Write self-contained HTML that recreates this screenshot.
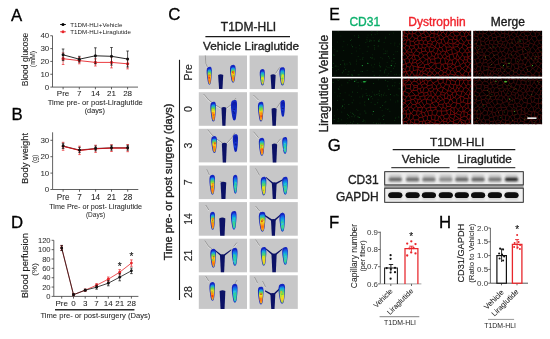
<!DOCTYPE html>
<html><head><meta charset="utf-8"><title>Figure</title>
<style>
html,body{margin:0;padding:0;background:#fff;width:550px;height:339px;overflow:hidden}
svg{display:block}
text{font-family:"Liberation Sans", Arial, sans-serif}
</style></head><body>
<svg width="550" height="339" viewBox="0 0 550 339">
<defs><linearGradient id="ghot" x1="0" y1="0" x2="0" y2="1">
<stop offset="0" stop-color="#1a40e0"/><stop offset="0.12" stop-color="#18a8e0"/><stop offset="0.28" stop-color="#70d840"/><stop offset="0.45" stop-color="#f0e020"/>
<stop offset="0.65" stop-color="#ff9a10"/><stop offset="0.82" stop-color="#ff8010"/><stop offset="1" stop-color="#e8c828"/></linearGradient>
<linearGradient id="gwarm" x1="0" y1="0" x2="0" y2="1">
<stop offset="0" stop-color="#1a48e0"/><stop offset="0.15" stop-color="#18a8d8"/><stop offset="0.35" stop-color="#50d870"/><stop offset="0.55" stop-color="#d8e820"/>
<stop offset="0.8" stop-color="#f8d020"/><stop offset="1" stop-color="#90d840"/></linearGradient>
<linearGradient id="gcool" x1="0" y1="0" x2="0" y2="1">
<stop offset="0" stop-color="#1840e0"/><stop offset="0.25" stop-color="#1098e8"/><stop offset="0.55" stop-color="#28d0b0"/>
<stop offset="0.8" stop-color="#40d890"/><stop offset="1" stop-color="#18a8d8"/></linearGradient>
<linearGradient id="gcold" x1="0" y1="0" x2="0" y2="1">
<stop offset="0" stop-color="#0818a0"/><stop offset="0.5" stop-color="#1430c8"/><stop offset="1" stop-color="#0c20b0"/></linearGradient>
<filter id="bl4" x="-20%" y="-20%" width="140%" height="140%"><feGaussianBlur stdDeviation="0.35"/></filter>
<filter id="bl6" x="-30%" y="-60%" width="160%" height="220%"><feGaussianBlur stdDeviation="0.8"/></filter><filter id="bl9" x="-40%" y="-40%" width="180%" height="180%"><feGaussianBlur stdDeviation="1.3"/></filter><clipPath id="ce00"><rect x="332" y="30.85" width="68.9" height="45.75"/></clipPath><clipPath id="ce01"><rect x="402.6" y="30.85" width="68.6" height="45.75"/></clipPath><clipPath id="ce02"><rect x="473.2" y="30.85" width="68.9" height="45.75"/></clipPath><clipPath id="ce10"><rect x="332" y="78.6" width="68.9" height="45.6"/></clipPath><clipPath id="ce11"><rect x="402.6" y="78.6" width="68.6" height="45.6"/></clipPath><clipPath id="ce12"><rect x="473.2" y="78.6" width="68.9" height="45.6"/></clipPath></defs>
<rect width="550" height="339" fill="#fff"/>
<text x="11.1" y="20.5" font-size="16.8" fill="#000" stroke="#000" stroke-width="0.3">A</text>
<text x="11.5" y="120.1" font-size="16.8" fill="#000" stroke="#000" stroke-width="0.3">B</text>
<text x="10.9" y="228.1" font-size="16.8" fill="#000" stroke="#000" stroke-width="0.3">D</text>
<text x="168.2" y="20.3" font-size="16.8" fill="#000" stroke="#000" stroke-width="0.3">C</text>
<text x="329.2" y="20.4" font-size="15.9" fill="#000" stroke="#000" stroke-width="0.3">E</text>
<text x="327.7" y="151.3" font-size="16.8" fill="#000" stroke="#000" stroke-width="0.3">G</text>
<text x="328.9" y="227.5" font-size="16.8" fill="#000" stroke="#000" stroke-width="0.3">F</text>
<text x="439" y="228.1" font-size="16.8" fill="#000" stroke="#000" stroke-width="0.3">H</text>
<line x1="52.5" y1="35.74" x2="52.5" y2="87.1" stroke="#3a3a3a" stroke-width="0.8"/>
<line x1="50.3" y1="87.1" x2="52.5" y2="87.1" stroke="#3a3a3a" stroke-width="0.8"/>
<text x="49.3" y="89.74" font-size="8.0" text-anchor="end" fill="#333" stroke="#333" stroke-width="0.05">0</text>
<line x1="50.3" y1="74.26" x2="52.5" y2="74.26" stroke="#3a3a3a" stroke-width="0.8"/>
<text x="49.3" y="76.9" font-size="8.0" text-anchor="end" fill="#333" stroke="#333" stroke-width="0.05">10</text>
<line x1="50.3" y1="61.42" x2="52.5" y2="61.42" stroke="#3a3a3a" stroke-width="0.8"/>
<text x="49.3" y="64.06" font-size="8.0" text-anchor="end" fill="#333" stroke="#333" stroke-width="0.05">20</text>
<line x1="50.3" y1="48.58" x2="52.5" y2="48.58" stroke="#3a3a3a" stroke-width="0.8"/>
<text x="49.3" y="51.22" font-size="8.0" text-anchor="end" fill="#333" stroke="#333" stroke-width="0.05">30</text>
<line x1="50.3" y1="35.74" x2="52.5" y2="35.74" stroke="#3a3a3a" stroke-width="0.8"/>
<text x="49.3" y="38.38" font-size="8.0" text-anchor="end" fill="#333" stroke="#333" stroke-width="0.05">40</text>
<line x1="52.5" y1="87.1" x2="138" y2="87.1" stroke="#3a3a3a" stroke-width="0.8"/>
<line x1="63.1" y1="87.1" x2="63.1" y2="89.3" stroke="#3a3a3a" stroke-width="0.8"/>
<line x1="79.3" y1="87.1" x2="79.3" y2="89.3" stroke="#3a3a3a" stroke-width="0.8"/>
<line x1="95.4" y1="87.1" x2="95.4" y2="89.3" stroke="#3a3a3a" stroke-width="0.8"/>
<line x1="111.5" y1="87.1" x2="111.5" y2="89.3" stroke="#3a3a3a" stroke-width="0.8"/>
<line x1="127.6" y1="87.1" x2="127.6" y2="89.3" stroke="#3a3a3a" stroke-width="0.8"/>
<text x="63.1" y="96.4" font-size="8.0" text-anchor="middle" fill="#1e1e1e" stroke="#1e1e1e" stroke-width="0.05">Pre</text>
<text x="79.3" y="96.4" font-size="8.0" text-anchor="middle" fill="#1e1e1e" stroke="#1e1e1e" stroke-width="0.05">7</text>
<text x="95.4" y="96.4" font-size="8.0" text-anchor="middle" fill="#1e1e1e" stroke="#1e1e1e" stroke-width="0.05">14</text>
<text x="111.5" y="96.4" font-size="8.0" text-anchor="middle" fill="#1e1e1e" stroke="#1e1e1e" stroke-width="0.05">21</text>
<text x="127.6" y="96.4" font-size="8.0" text-anchor="middle" fill="#1e1e1e" stroke="#1e1e1e" stroke-width="0.05">28</text>
<text x="95.3" y="104.7" font-size="7.6" text-anchor="middle" fill="#1e1e1e" stroke="#1e1e1e" stroke-width="0.05">Time pre- or post-Liraglutide</text>
<text x="94.8" y="113.2" font-size="7.3" text-anchor="middle" fill="#1e1e1e" stroke="#1e1e1e" stroke-width="0.05">(days)</text>
<text x="27.6" y="59.5" font-size="8.5" text-anchor="middle" fill="#1e1e1e" stroke="#1e1e1e" stroke-width="0.05" transform="rotate(-90 27.6 59.5)">Blood glucose</text>
<text x="35.3" y="59" font-size="7.0" text-anchor="middle" fill="#1e1e1e" stroke="#1e1e1e" stroke-width="0.05" transform="rotate(-90 35.3 59)">(mM)</text>
<line x1="60.1" y1="24.5" x2="65.9" y2="24.5" stroke="#000" stroke-width="0.9"/>
<circle cx="63" cy="24.5" r="1.5" fill="#000"/>
<text x="70.3" y="26.7" font-size="6.2" fill="#1e1e1e">T1DM-HLI+Vehicle</text>
<line x1="60.1" y1="31.8" x2="65.9" y2="31.8" stroke="#e8262b" stroke-width="0.9"/>
<circle cx="63" cy="31.8" r="1.5" fill="#e8262b"/>
<text x="70.3" y="34" font-size="6.2" fill="#1e1e1e">T1DM-HLI+Liraglutide</text>
<line x1="63.1" y1="52.9" x2="63.1" y2="64.5" stroke="#e8262b" stroke-width="0.7"/>
<line x1="61.8" y1="52.9" x2="64.4" y2="52.9" stroke="#e8262b" stroke-width="0.7"/>
<line x1="61.8" y1="64.5" x2="64.4" y2="64.5" stroke="#e8262b" stroke-width="0.7"/>
<line x1="79.3" y1="57.4" x2="79.3" y2="63.8" stroke="#e8262b" stroke-width="0.7"/>
<line x1="78" y1="57.4" x2="80.6" y2="57.4" stroke="#e8262b" stroke-width="0.7"/>
<line x1="78" y1="63.8" x2="80.6" y2="63.8" stroke="#e8262b" stroke-width="0.7"/>
<line x1="95.4" y1="58.8" x2="95.4" y2="66" stroke="#e8262b" stroke-width="0.7"/>
<line x1="94.1" y1="58.8" x2="96.7" y2="58.8" stroke="#e8262b" stroke-width="0.7"/>
<line x1="94.1" y1="66" x2="96.7" y2="66" stroke="#e8262b" stroke-width="0.7"/>
<line x1="111.5" y1="56.9" x2="111.5" y2="67.9" stroke="#e8262b" stroke-width="0.7"/>
<line x1="110.2" y1="56.9" x2="112.8" y2="56.9" stroke="#e8262b" stroke-width="0.7"/>
<line x1="110.2" y1="67.9" x2="112.8" y2="67.9" stroke="#e8262b" stroke-width="0.7"/>
<line x1="127.6" y1="58.7" x2="127.6" y2="68.9" stroke="#e8262b" stroke-width="0.7"/>
<line x1="126.3" y1="58.7" x2="128.9" y2="58.7" stroke="#e8262b" stroke-width="0.7"/>
<line x1="126.3" y1="68.9" x2="128.9" y2="68.9" stroke="#e8262b" stroke-width="0.7"/>
<polyline points="63.1,58.7 79.3,60.6 95.4,62.4 111.5,62.4 127.6,63.8" fill="none" stroke="#e8262b" stroke-width="0.9" stroke-linejoin="round"/>
<circle cx="63.1" cy="58.7" r="1.6" fill="#e8262b"/>
<circle cx="79.3" cy="60.6" r="1.6" fill="#e8262b"/>
<circle cx="95.4" cy="62.4" r="1.6" fill="#e8262b"/>
<circle cx="111.5" cy="62.4" r="1.6" fill="#e8262b"/>
<circle cx="127.6" cy="63.8" r="1.6" fill="#e8262b"/>
<line x1="63.1" y1="49" x2="63.1" y2="60.6" stroke="#111" stroke-width="0.7"/>
<line x1="61.8" y1="49" x2="64.4" y2="49" stroke="#111" stroke-width="0.7"/>
<line x1="61.8" y1="60.6" x2="64.4" y2="60.6" stroke="#111" stroke-width="0.7"/>
<line x1="79.3" y1="56.3" x2="79.3" y2="62.1" stroke="#111" stroke-width="0.7"/>
<line x1="78" y1="56.3" x2="80.6" y2="56.3" stroke="#111" stroke-width="0.7"/>
<line x1="78" y1="62.1" x2="80.6" y2="62.1" stroke="#111" stroke-width="0.7"/>
<line x1="95.4" y1="47.8" x2="95.4" y2="63.8" stroke="#111" stroke-width="0.7"/>
<line x1="94.1" y1="47.8" x2="96.7" y2="47.8" stroke="#111" stroke-width="0.7"/>
<line x1="94.1" y1="63.8" x2="96.7" y2="63.8" stroke="#111" stroke-width="0.7"/>
<line x1="111.5" y1="47.5" x2="111.5" y2="65.1" stroke="#111" stroke-width="0.7"/>
<line x1="110.2" y1="47.5" x2="112.8" y2="47.5" stroke="#111" stroke-width="0.7"/>
<line x1="110.2" y1="65.1" x2="112.8" y2="65.1" stroke="#111" stroke-width="0.7"/>
<line x1="127.6" y1="51" x2="127.6" y2="67" stroke="#111" stroke-width="0.7"/>
<line x1="126.3" y1="51" x2="128.9" y2="51" stroke="#111" stroke-width="0.7"/>
<line x1="126.3" y1="67" x2="128.9" y2="67" stroke="#111" stroke-width="0.7"/>
<polyline points="63.1,54.8 79.3,59.2 95.4,55.8 111.5,56.3 127.6,59" fill="none" stroke="#111" stroke-width="0.9" stroke-linejoin="round"/>
<circle cx="63.1" cy="54.8" r="1.5" fill="#111"/>
<circle cx="79.3" cy="59.2" r="1.5" fill="#111"/>
<circle cx="95.4" cy="55.8" r="1.5" fill="#111"/>
<circle cx="111.5" cy="56.3" r="1.5" fill="#111"/>
<circle cx="127.6" cy="59" r="1.5" fill="#111"/>
<line x1="52.6" y1="132.3" x2="52.6" y2="189.5" stroke="#3a3a3a" stroke-width="0.8"/>
<line x1="50.4" y1="189.5" x2="52.6" y2="189.5" stroke="#3a3a3a" stroke-width="0.8"/>
<text x="49.3" y="192.14" font-size="8.0" text-anchor="end" fill="#333" stroke="#333" stroke-width="0.05">0</text>
<line x1="50.4" y1="173.1" x2="52.6" y2="173.1" stroke="#3a3a3a" stroke-width="0.8"/>
<text x="49.3" y="175.74" font-size="8.0" text-anchor="end" fill="#333" stroke="#333" stroke-width="0.05">10</text>
<line x1="50.4" y1="156.7" x2="52.6" y2="156.7" stroke="#3a3a3a" stroke-width="0.8"/>
<text x="49.3" y="159.34" font-size="8.0" text-anchor="end" fill="#333" stroke="#333" stroke-width="0.05">20</text>
<line x1="50.4" y1="140.3" x2="52.6" y2="140.3" stroke="#3a3a3a" stroke-width="0.8"/>
<text x="49.3" y="142.94" font-size="8.0" text-anchor="end" fill="#333" stroke="#333" stroke-width="0.05">30</text>
<line x1="52.6" y1="189.5" x2="138.3" y2="189.5" stroke="#3a3a3a" stroke-width="0.8"/>
<line x1="63.1" y1="189.5" x2="63.1" y2="191.7" stroke="#3a3a3a" stroke-width="0.8"/>
<line x1="79.5" y1="189.5" x2="79.5" y2="191.7" stroke="#3a3a3a" stroke-width="0.8"/>
<line x1="95.6" y1="189.5" x2="95.6" y2="191.7" stroke="#3a3a3a" stroke-width="0.8"/>
<line x1="111.5" y1="189.5" x2="111.5" y2="191.7" stroke="#3a3a3a" stroke-width="0.8"/>
<line x1="127.7" y1="189.5" x2="127.7" y2="191.7" stroke="#3a3a3a" stroke-width="0.8"/>
<text x="63.1" y="199.7" font-size="8.2" text-anchor="middle" fill="#1e1e1e" stroke="#1e1e1e" stroke-width="0.05">Pre</text>
<text x="79.5" y="199.7" font-size="8.2" text-anchor="middle" fill="#1e1e1e" stroke="#1e1e1e" stroke-width="0.05">7</text>
<text x="95.6" y="199.7" font-size="8.2" text-anchor="middle" fill="#1e1e1e" stroke="#1e1e1e" stroke-width="0.05">14</text>
<text x="111.5" y="199.7" font-size="8.2" text-anchor="middle" fill="#1e1e1e" stroke="#1e1e1e" stroke-width="0.05">21</text>
<text x="127.7" y="199.7" font-size="8.2" text-anchor="middle" fill="#1e1e1e" stroke="#1e1e1e" stroke-width="0.05">28</text>
<text x="95.6" y="209" font-size="7.2" text-anchor="middle" fill="#1e1e1e" stroke="#1e1e1e" stroke-width="0.05">Time Pre- or post- Liraglutide</text>
<text x="95.5" y="217.1" font-size="6.5" text-anchor="middle" fill="#1e1e1e">(Days)</text>
<text x="28" y="158.5" font-size="9.4" text-anchor="middle" fill="#1e1e1e" stroke="#1e1e1e" stroke-width="0.15" transform="rotate(-90 28 158.5)">Body weight</text>
<text x="36.6" y="158.9" font-size="6.6" text-anchor="middle" fill="#1e1e1e" transform="rotate(-90 36.6 158.9)">(g)</text>
<line x1="63.1" y1="142.3" x2="63.1" y2="150.3" stroke="#e8262b" stroke-width="0.7"/>
<line x1="61.8" y1="142.3" x2="64.4" y2="142.3" stroke="#e8262b" stroke-width="0.7"/>
<line x1="61.8" y1="150.3" x2="64.4" y2="150.3" stroke="#e8262b" stroke-width="0.7"/>
<line x1="79.5" y1="146.2" x2="79.5" y2="154.6" stroke="#e8262b" stroke-width="0.7"/>
<line x1="78.2" y1="146.2" x2="80.8" y2="146.2" stroke="#e8262b" stroke-width="0.7"/>
<line x1="78.2" y1="154.6" x2="80.8" y2="154.6" stroke="#e8262b" stroke-width="0.7"/>
<line x1="95.6" y1="145.2" x2="95.6" y2="152.4" stroke="#e8262b" stroke-width="0.7"/>
<line x1="94.3" y1="145.2" x2="96.9" y2="145.2" stroke="#e8262b" stroke-width="0.7"/>
<line x1="94.3" y1="152.4" x2="96.9" y2="152.4" stroke="#e8262b" stroke-width="0.7"/>
<line x1="111.5" y1="144.7" x2="111.5" y2="151.5" stroke="#e8262b" stroke-width="0.7"/>
<line x1="110.2" y1="144.7" x2="112.8" y2="144.7" stroke="#e8262b" stroke-width="0.7"/>
<line x1="110.2" y1="151.5" x2="112.8" y2="151.5" stroke="#e8262b" stroke-width="0.7"/>
<line x1="127.7" y1="144.5" x2="127.7" y2="151.7" stroke="#e8262b" stroke-width="0.7"/>
<line x1="126.4" y1="144.5" x2="129" y2="144.5" stroke="#e8262b" stroke-width="0.7"/>
<line x1="126.4" y1="151.7" x2="129" y2="151.7" stroke="#e8262b" stroke-width="0.7"/>
<polyline points="63.1,146.3 79.5,150.4 95.6,148.8 111.5,148.1 127.7,148.1" fill="none" stroke="#e8262b" stroke-width="1.0" stroke-linejoin="round"/>
<circle cx="63.1" cy="146.3" r="1.35" fill="#e8262b"/>
<circle cx="79.5" cy="150.4" r="1.35" fill="#e8262b"/>
<circle cx="95.6" cy="148.8" r="1.35" fill="#e8262b"/>
<circle cx="111.5" cy="148.1" r="1.35" fill="#e8262b"/>
<circle cx="127.7" cy="148.1" r="1.35" fill="#e8262b"/>
<line x1="63.1" y1="143.3" x2="63.1" y2="148.5" stroke="#111" stroke-width="0.7"/>
<line x1="61.8" y1="143.3" x2="64.4" y2="143.3" stroke="#111" stroke-width="0.7"/>
<line x1="61.8" y1="148.5" x2="64.4" y2="148.5" stroke="#111" stroke-width="0.7"/>
<line x1="79.5" y1="147.4" x2="79.5" y2="152.6" stroke="#111" stroke-width="0.7"/>
<line x1="78.2" y1="147.4" x2="80.8" y2="147.4" stroke="#111" stroke-width="0.7"/>
<line x1="78.2" y1="152.6" x2="80.8" y2="152.6" stroke="#111" stroke-width="0.7"/>
<line x1="95.6" y1="146" x2="95.6" y2="150.8" stroke="#111" stroke-width="0.7"/>
<line x1="94.3" y1="146" x2="96.9" y2="146" stroke="#111" stroke-width="0.7"/>
<line x1="94.3" y1="150.8" x2="96.9" y2="150.8" stroke="#111" stroke-width="0.7"/>
<line x1="111.5" y1="145.3" x2="111.5" y2="150.1" stroke="#111" stroke-width="0.7"/>
<line x1="110.2" y1="145.3" x2="112.8" y2="145.3" stroke="#111" stroke-width="0.7"/>
<line x1="110.2" y1="150.1" x2="112.8" y2="150.1" stroke="#111" stroke-width="0.7"/>
<line x1="127.7" y1="145.3" x2="127.7" y2="150.1" stroke="#111" stroke-width="0.7"/>
<line x1="126.4" y1="145.3" x2="129" y2="145.3" stroke="#111" stroke-width="0.7"/>
<line x1="126.4" y1="150.1" x2="129" y2="150.1" stroke="#111" stroke-width="0.7"/>
<polyline points="63.1,145.9 79.5,150 95.6,148.4 111.5,147.7 127.7,147.7" fill="none" stroke="#111" stroke-width="0.5" stroke-linejoin="round"/>
<circle cx="63.1" cy="145.9" r="1.3" fill="#111"/>
<circle cx="79.5" cy="150" r="1.3" fill="#111"/>
<circle cx="95.6" cy="148.4" r="1.3" fill="#111"/>
<circle cx="111.5" cy="147.7" r="1.3" fill="#111"/>
<circle cx="127.7" cy="147.7" r="1.3" fill="#111"/>
<polyline points="63.1,146.2 79.5,150.3 95.6,148.7 111.5,148 127.7,148" fill="none" stroke="#c0141c" stroke-width="0.9" stroke-linejoin="round"/>
<circle cx="63.1" cy="145.9" r="1.35" fill="#111"/>
<circle cx="79.5" cy="150" r="1.35" fill="#111"/>
<circle cx="95.6" cy="148.4" r="1.35" fill="#111"/>
<circle cx="111.5" cy="147.7" r="1.35" fill="#111"/>
<circle cx="127.7" cy="147.7" r="1.35" fill="#111"/>
<line x1="53.8" y1="240.3" x2="53.8" y2="296.4" stroke="#3a3a3a" stroke-width="0.8"/>
<line x1="51.6" y1="296.4" x2="53.8" y2="296.4" stroke="#3a3a3a" stroke-width="0.8"/>
<text x="50.6" y="298.91" font-size="7.6" text-anchor="end" fill="#333" stroke="#333" stroke-width="0.05">0</text>
<line x1="51.6" y1="287.05" x2="53.8" y2="287.05" stroke="#3a3a3a" stroke-width="0.8"/>
<text x="50.6" y="289.56" font-size="7.6" text-anchor="end" fill="#333" stroke="#333" stroke-width="0.05">20</text>
<line x1="51.6" y1="277.7" x2="53.8" y2="277.7" stroke="#3a3a3a" stroke-width="0.8"/>
<text x="50.6" y="280.21" font-size="7.6" text-anchor="end" fill="#333" stroke="#333" stroke-width="0.05">40</text>
<line x1="51.6" y1="268.35" x2="53.8" y2="268.35" stroke="#3a3a3a" stroke-width="0.8"/>
<text x="50.6" y="270.86" font-size="7.6" text-anchor="end" fill="#333" stroke="#333" stroke-width="0.05">60</text>
<line x1="51.6" y1="259" x2="53.8" y2="259" stroke="#3a3a3a" stroke-width="0.8"/>
<text x="50.6" y="261.51" font-size="7.6" text-anchor="end" fill="#333" stroke="#333" stroke-width="0.05">80</text>
<line x1="51.6" y1="249.65" x2="53.8" y2="249.65" stroke="#3a3a3a" stroke-width="0.8"/>
<text x="50.6" y="252.16" font-size="7.6" text-anchor="end" fill="#333" stroke="#333" stroke-width="0.05">100</text>
<line x1="51.6" y1="240.3" x2="53.8" y2="240.3" stroke="#3a3a3a" stroke-width="0.8"/>
<text x="50.6" y="242.81" font-size="7.6" text-anchor="end" fill="#333" stroke="#333" stroke-width="0.05">120</text>
<line x1="53.8" y1="296.4" x2="138.4" y2="296.4" stroke="#3a3a3a" stroke-width="0.8"/>
<line x1="61.7" y1="296.4" x2="61.7" y2="298.6" stroke="#3a3a3a" stroke-width="0.8"/>
<line x1="73.5" y1="296.4" x2="73.5" y2="298.6" stroke="#3a3a3a" stroke-width="0.8"/>
<line x1="85.2" y1="296.4" x2="85.2" y2="298.6" stroke="#3a3a3a" stroke-width="0.8"/>
<line x1="96.6" y1="296.4" x2="96.6" y2="298.6" stroke="#3a3a3a" stroke-width="0.8"/>
<line x1="108.3" y1="296.4" x2="108.3" y2="298.6" stroke="#3a3a3a" stroke-width="0.8"/>
<line x1="119.7" y1="296.4" x2="119.7" y2="298.6" stroke="#3a3a3a" stroke-width="0.8"/>
<line x1="131.4" y1="296.4" x2="131.4" y2="298.6" stroke="#3a3a3a" stroke-width="0.8"/>
<text x="61.7" y="306" font-size="8.0" text-anchor="middle" fill="#1e1e1e" stroke="#1e1e1e" stroke-width="0.05">Pre</text>
<text x="73.5" y="306" font-size="8.0" text-anchor="middle" fill="#1e1e1e" stroke="#1e1e1e" stroke-width="0.05">0</text>
<text x="85.2" y="306" font-size="8.0" text-anchor="middle" fill="#1e1e1e" stroke="#1e1e1e" stroke-width="0.05">3</text>
<text x="96.6" y="306" font-size="8.0" text-anchor="middle" fill="#1e1e1e" stroke="#1e1e1e" stroke-width="0.05">7</text>
<text x="108.3" y="306" font-size="8.0" text-anchor="middle" fill="#1e1e1e" stroke="#1e1e1e" stroke-width="0.05">14</text>
<text x="119.7" y="306" font-size="8.0" text-anchor="middle" fill="#1e1e1e" stroke="#1e1e1e" stroke-width="0.05">21</text>
<text x="131.4" y="306" font-size="8.0" text-anchor="middle" fill="#1e1e1e" stroke="#1e1e1e" stroke-width="0.05">28</text>
<line x1="55" y1="309.8" x2="134.4" y2="309.8" stroke="#2a2a2a" stroke-width="1.4"/>
<text x="95.4" y="318.4" font-size="7.6" text-anchor="middle" fill="#1e1e1e" stroke="#1e1e1e" stroke-width="0.05">Time pre- or post-surgery (Days)</text>
<text x="27.8" y="265.6" font-size="9.4" text-anchor="middle" fill="#1e1e1e" stroke="#1e1e1e" stroke-width="0.15" transform="rotate(-90 27.8 265.6)">Blood perfusion</text>
<text x="37" y="269.4" font-size="8.0" text-anchor="middle" fill="#1e1e1e" stroke="#1e1e1e" stroke-width="0.05" transform="rotate(-90 37 269.4)">(%)</text>
<line x1="61.7" y1="245.5" x2="61.7" y2="250.5" stroke="#e8262b" stroke-width="0.7"/>
<line x1="60.4" y1="245.5" x2="63" y2="245.5" stroke="#e8262b" stroke-width="0.7"/>
<line x1="60.4" y1="250.5" x2="63" y2="250.5" stroke="#e8262b" stroke-width="0.7"/>
<line x1="73.5" y1="293.7" x2="73.5" y2="295.7" stroke="#e8262b" stroke-width="0.7"/>
<line x1="72.2" y1="293.7" x2="74.8" y2="293.7" stroke="#e8262b" stroke-width="0.7"/>
<line x1="72.2" y1="295.7" x2="74.8" y2="295.7" stroke="#e8262b" stroke-width="0.7"/>
<line x1="85.2" y1="289.2" x2="85.2" y2="291.2" stroke="#e8262b" stroke-width="0.7"/>
<line x1="83.9" y1="289.2" x2="86.5" y2="289.2" stroke="#e8262b" stroke-width="0.7"/>
<line x1="83.9" y1="291.2" x2="86.5" y2="291.2" stroke="#e8262b" stroke-width="0.7"/>
<line x1="96.6" y1="283.6" x2="96.6" y2="286.8" stroke="#e8262b" stroke-width="0.7"/>
<line x1="95.3" y1="283.6" x2="97.9" y2="283.6" stroke="#e8262b" stroke-width="0.7"/>
<line x1="95.3" y1="286.8" x2="97.9" y2="286.8" stroke="#e8262b" stroke-width="0.7"/>
<line x1="108.3" y1="277" x2="108.3" y2="281.4" stroke="#e8262b" stroke-width="0.7"/>
<line x1="107" y1="277" x2="109.6" y2="277" stroke="#e8262b" stroke-width="0.7"/>
<line x1="107" y1="281.4" x2="109.6" y2="281.4" stroke="#e8262b" stroke-width="0.7"/>
<line x1="119.7" y1="269.6" x2="119.7" y2="274.8" stroke="#e8262b" stroke-width="0.7"/>
<line x1="118.4" y1="269.6" x2="121" y2="269.6" stroke="#e8262b" stroke-width="0.7"/>
<line x1="118.4" y1="274.8" x2="121" y2="274.8" stroke="#e8262b" stroke-width="0.7"/>
<line x1="131.4" y1="259.9" x2="131.4" y2="266.3" stroke="#e8262b" stroke-width="0.7"/>
<line x1="130.1" y1="259.9" x2="132.7" y2="259.9" stroke="#e8262b" stroke-width="0.7"/>
<line x1="130.1" y1="266.3" x2="132.7" y2="266.3" stroke="#e8262b" stroke-width="0.7"/>
<polyline points="61.7,248 73.5,294.7 85.2,290.2 96.6,285.2 108.3,279.2 119.7,272.2 131.4,263.1" fill="none" stroke="#e8262b" stroke-width="0.8" stroke-linejoin="round"/>
<circle cx="61.7" cy="248" r="1.4" fill="#e8262b"/>
<circle cx="73.5" cy="294.7" r="1.4" fill="#e8262b"/>
<circle cx="85.2" cy="290.2" r="1.4" fill="#e8262b"/>
<circle cx="96.6" cy="285.2" r="1.4" fill="#e8262b"/>
<circle cx="108.3" cy="279.2" r="1.4" fill="#e8262b"/>
<circle cx="119.7" cy="272.2" r="1.4" fill="#e8262b"/>
<circle cx="131.4" cy="263.1" r="1.4" fill="#e8262b"/>
<line x1="61.7" y1="245.4" x2="61.7" y2="250.6" stroke="#111" stroke-width="0.7"/>
<line x1="60.4" y1="245.4" x2="63" y2="245.4" stroke="#111" stroke-width="0.7"/>
<line x1="60.4" y1="250.6" x2="63" y2="250.6" stroke="#111" stroke-width="0.7"/>
<line x1="73.5" y1="293.7" x2="73.5" y2="295.7" stroke="#111" stroke-width="0.7"/>
<line x1="72.2" y1="293.7" x2="74.8" y2="293.7" stroke="#111" stroke-width="0.7"/>
<line x1="72.2" y1="295.7" x2="74.8" y2="295.7" stroke="#111" stroke-width="0.7"/>
<line x1="85.2" y1="289.2" x2="85.2" y2="291.2" stroke="#111" stroke-width="0.7"/>
<line x1="83.9" y1="289.2" x2="86.5" y2="289.2" stroke="#111" stroke-width="0.7"/>
<line x1="83.9" y1="291.2" x2="86.5" y2="291.2" stroke="#111" stroke-width="0.7"/>
<line x1="96.6" y1="285.2" x2="96.6" y2="289.2" stroke="#111" stroke-width="0.7"/>
<line x1="95.3" y1="285.2" x2="97.9" y2="285.2" stroke="#111" stroke-width="0.7"/>
<line x1="95.3" y1="289.2" x2="97.9" y2="289.2" stroke="#111" stroke-width="0.7"/>
<line x1="108.3" y1="280.6" x2="108.3" y2="285.8" stroke="#111" stroke-width="0.7"/>
<line x1="107" y1="280.6" x2="109.6" y2="280.6" stroke="#111" stroke-width="0.7"/>
<line x1="107" y1="285.8" x2="109.6" y2="285.8" stroke="#111" stroke-width="0.7"/>
<line x1="119.7" y1="273.6" x2="119.7" y2="280.8" stroke="#111" stroke-width="0.7"/>
<line x1="118.4" y1="273.6" x2="121" y2="273.6" stroke="#111" stroke-width="0.7"/>
<line x1="118.4" y1="280.8" x2="121" y2="280.8" stroke="#111" stroke-width="0.7"/>
<line x1="131.4" y1="268" x2="131.4" y2="273.6" stroke="#111" stroke-width="0.7"/>
<line x1="130.1" y1="268" x2="132.7" y2="268" stroke="#111" stroke-width="0.7"/>
<line x1="130.1" y1="273.6" x2="132.7" y2="273.6" stroke="#111" stroke-width="0.7"/>
<polyline points="61.7,248 73.5,294.7 85.2,290.2 96.6,287.2 108.3,283.2 119.7,277.2 131.4,270.8" fill="none" stroke="#111" stroke-width="0.8" stroke-linejoin="round"/>
<circle cx="61.7" cy="248" r="1.4" fill="#111"/>
<circle cx="73.5" cy="294.7" r="1.4" fill="#111"/>
<circle cx="85.2" cy="290.2" r="1.4" fill="#111"/>
<circle cx="96.6" cy="287.2" r="1.4" fill="#111"/>
<circle cx="108.3" cy="283.2" r="1.4" fill="#111"/>
<circle cx="119.7" cy="277.2" r="1.4" fill="#111"/>
<circle cx="131.4" cy="270.8" r="1.4" fill="#111"/>
<text x="119.7" y="270" font-size="10" text-anchor="middle" fill="#111" stroke="#111" stroke-width="0.15">*</text>
<text x="131.4" y="260" font-size="10" text-anchor="middle" fill="#111" stroke="#111" stroke-width="0.15">*</text>
<text x="248.5" y="31" font-size="12.0" text-anchor="middle" fill="#1e1e1e" stroke="#1e1e1e" stroke-width="0.35">T1DM-HLI</text>
<line x1="205.4" y1="36.6" x2="290" y2="36.6" stroke="#1a1a1a" stroke-width="1.1"/>
<text x="203" y="49.6" font-size="11.8" fill="#1e1e1e" stroke="#1e1e1e" stroke-width="0.35">Vehicle</text>
<text x="244.6" y="49.6" font-size="11.8" fill="#1e1e1e" stroke="#1e1e1e" stroke-width="0.35">Liraglutide</text>
<line x1="179.5" y1="59.8" x2="179.5" y2="300" stroke="#1a1a1a" stroke-width="1.1"/>
<text x="171.8" y="182" font-size="11.0" text-anchor="middle" fill="#1e1e1e" stroke="#1e1e1e" stroke-width="0.35" transform="rotate(-90 171.8 182)">Time pre- or post surgery (days)</text>
<text x="191.6" y="72.3" font-size="10.5" text-anchor="middle" fill="#1e1e1e" stroke="#1e1e1e" stroke-width="0.15" transform="rotate(-90 191.6 72.3)">Pre</text>
<text x="191.6" y="109" font-size="10.5" text-anchor="middle" fill="#1e1e1e" stroke="#1e1e1e" stroke-width="0.15" transform="rotate(-90 191.6 109)">0</text>
<text x="191.6" y="145.6" font-size="10.5" text-anchor="middle" fill="#1e1e1e" stroke="#1e1e1e" stroke-width="0.15" transform="rotate(-90 191.6 145.6)">3</text>
<text x="191.6" y="182.3" font-size="10.5" text-anchor="middle" fill="#1e1e1e" stroke="#1e1e1e" stroke-width="0.15" transform="rotate(-90 191.6 182.3)">7</text>
<text x="191.6" y="218.9" font-size="10.5" text-anchor="middle" fill="#1e1e1e" stroke="#1e1e1e" stroke-width="0.15" transform="rotate(-90 191.6 218.9)">14</text>
<text x="191.6" y="255.5" font-size="10.5" text-anchor="middle" fill="#1e1e1e" stroke="#1e1e1e" stroke-width="0.15" transform="rotate(-90 191.6 255.5)">21</text>
<text x="191.6" y="292.1" font-size="10.5" text-anchor="middle" fill="#1e1e1e" stroke="#1e1e1e" stroke-width="0.15" transform="rotate(-90 191.6 292.1)">28</text>
<rect x="198.8" y="55.5" width="48.2" height="33.6" fill="#c7c7c8"/>
<polyline points="205.3,56.1 205.8,64.1 207.3,67.6" fill="none" stroke="#e4e4e4" stroke-width="1.1" stroke-linejoin="round"/>
<polyline points="205.3,55.5 205.8,63.5 207.3,67" fill="none" stroke="#404040" stroke-width="0.45" stroke-linejoin="round"/>
<path d="M218.15,75 Q220.7,73.4 223.25,75 L222.45,89.1 L219.05,89.1 Z" fill="#0c1266"/>
<path d="M206.65,70.45 Q206.75,67.79 207.98,67.19 Q209.2,66.58 210.47,66.84 Q211.75,67.1 211.8,70.11 Q211.85,73.12 211.55,76.56 Q211.26,80 210.92,82.32 Q210.57,84.64 209.44,84.64 Q208.32,84.64 207.88,82.06 Q207.44,79.48 207,76.3 Q206.55,73.12 206.65,70.45 Z" fill="#1426c0"/>
<path d="M207.58,71.93 Q207.65,69.68 208.53,69.17 Q209.4,68.66 210.31,68.88 Q211.22,69.1 211.25,71.64 Q211.29,74.17 211.08,77.07 Q210.87,79.97 210.62,81.93 Q210.38,83.89 209.58,83.89 Q208.77,83.89 208.46,81.72 Q208.14,79.54 207.83,76.86 Q207.51,74.17 207.58,71.93 Z" fill="url(#ghot)" filter="url(#bl4)"/>
<g filter="url(#bl4)" opacity="0.85"><circle cx="208.8" cy="75.17" r="1" fill="#ff6a10"/><circle cx="209.41" cy="74.13" r="0.82" fill="#f8d020"/><circle cx="209.29" cy="74.61" r="0.97" fill="#70d840"/><circle cx="208.84" cy="76.29" r="0.86" fill="#ff8010"/><circle cx="209.23" cy="77.7" r="0.97" fill="#e83010"/><circle cx="209.87" cy="75.51" r="0.92" fill="#ff6a10"/></g>
<path d="M230.04,68.53 Q230.15,65.88 231.48,65.29 Q232.8,64.69 234.18,64.94 Q235.56,65.2 235.61,68.19 Q235.66,71.19 235.34,74.61 Q235.03,78.03 234.65,80.33 Q234.28,82.64 233.06,82.64 Q231.85,82.64 231.37,80.08 Q230.89,77.51 230.42,74.35 Q229.94,71.19 230.04,68.53 Z" fill="#1426c0"/>
<path d="M230.97,70.01 Q231.05,67.78 232.03,67.27 Q233,66.77 234.01,66.98 Q235.03,67.2 235.07,69.72 Q235.11,72.24 234.87,75.12 Q234.64,78 234.36,79.94 Q234.09,81.89 233.19,81.89 Q232.3,81.89 231.95,79.73 Q231.6,77.57 231.25,74.9 Q230.89,72.24 230.97,70.01 Z" fill="url(#ghot)" filter="url(#bl4)"/>
<g filter="url(#bl4)" opacity="0.85"><circle cx="233.17" cy="73.63" r="0.6" fill="#ff6a10"/><circle cx="233.55" cy="73.67" r="0.76" fill="#f8d020"/><circle cx="233.44" cy="75.73" r="0.84" fill="#70d840"/><circle cx="233.28" cy="71.74" r="0.95" fill="#ff8010"/><circle cx="232.73" cy="72.17" r="0.93" fill="#e83010"/><circle cx="233.49" cy="73.01" r="0.92" fill="#ff6a10"/></g>
<rect x="249.6" y="55.5" width="48.2" height="33.6" fill="#c7c7c8"/>
<polyline points="275.6,74.1 279.6,68.1" fill="none" stroke="#e4e4e4" stroke-width="1.1" stroke-linejoin="round"/>
<polyline points="275.6,73.5 279.6,67.5" fill="none" stroke="#404040" stroke-width="0.45" stroke-linejoin="round"/>
<path d="M270.55,75 Q273.1,73.4 275.65,75 L274.85,89.1 L271.45,89.1 Z" fill="#0c1266"/>
<path d="M259.75,72.48 Q259.85,70.03 261.05,69.48 Q262.25,68.93 263.5,69.16 Q264.75,69.4 264.79,72.17 Q264.84,74.93 264.55,78.09 Q264.27,81.25 263.93,83.38 Q263.59,85.52 262.49,85.52 Q261.39,85.52 260.95,83.15 Q260.52,80.78 260.09,77.85 Q259.66,74.93 259.75,72.48 Z" fill="#1426c0"/>
<path d="M260.68,73.95 Q260.75,71.92 261.6,71.47 Q262.45,71.01 263.33,71.2 Q264.22,71.4 264.25,73.69 Q264.29,75.98 264.08,78.6 Q263.88,81.22 263.64,82.99 Q263.4,84.76 262.62,84.76 Q261.84,84.76 261.53,82.8 Q261.23,80.83 260.92,78.41 Q260.61,75.98 260.68,73.95 Z" fill="url(#gwarm)" filter="url(#bl4)"/>
<g filter="url(#bl4)" opacity="0.85"><circle cx="262.12" cy="80.19" r="0.96" fill="#e8e020"/><circle cx="262.03" cy="80.77" r="0.93" fill="#60d050"/><circle cx="262.58" cy="80.7" r="0.81" fill="#f0b020"/><circle cx="262.67" cy="81.08" r="0.65" fill="#30c8a0"/><circle cx="262.78" cy="77.91" r="0.84" fill="#e8e020"/><circle cx="261.94" cy="79.9" r="0.75" fill="#60d050"/></g>
<path d="M279.44,70.95 Q279.55,68.21 280.88,67.59 Q282.2,66.97 283.58,67.23 Q284.96,67.5 285.01,70.6 Q285.06,73.69 284.74,77.23 Q284.43,80.77 284.05,83.16 Q283.68,85.55 282.46,85.55 Q281.25,85.55 280.77,82.9 Q280.29,80.24 279.82,76.97 Q279.34,73.69 279.44,70.95 Z" fill="#1426c0"/>
<path d="M280.37,72.42 Q280.45,70.1 281.42,69.57 Q282.4,69.05 283.41,69.28 Q284.43,69.5 284.47,72.12 Q284.51,74.75 284.27,77.75 Q284.04,80.75 283.76,82.77 Q283.49,84.8 282.59,84.8 Q281.7,84.8 281.35,82.55 Q281,80.3 280.64,77.52 Q280.29,74.75 280.37,72.42 Z" fill="url(#gwarm)" filter="url(#bl4)"/>
<g filter="url(#bl4)" opacity="0.85"><circle cx="282.81" cy="76.07" r="0.88" fill="#e8e020"/><circle cx="282.17" cy="78.6" r="0.7" fill="#60d050"/><circle cx="281.87" cy="79.6" r="0.98" fill="#f0b020"/><circle cx="282.39" cy="80.91" r="0.7" fill="#30c8a0"/><circle cx="282.78" cy="75.27" r="1.08" fill="#e8e020"/><circle cx="282.47" cy="78.55" r="1.09" fill="#60d050"/></g>
<rect x="198.8" y="92.2" width="48.2" height="33.6" fill="#c7c7c8"/>
<polyline points="203.8,94.8 208.8,100.8 215.8,105.8 220.8,108.8" fill="none" stroke="#e4e4e4" stroke-width="1.1" stroke-linejoin="round"/>
<polyline points="203.8,94.2 208.8,100.2 215.8,105.2 220.8,108.2" fill="none" stroke="#404040" stroke-width="0.45" stroke-linejoin="round"/>
<polyline points="226.8,108.8 231.8,104.8 235.8,98.8" fill="none" stroke="#e4e4e4" stroke-width="1.1" stroke-linejoin="round"/>
<polyline points="226.8,108.2 231.8,104.2 235.8,98.2" fill="none" stroke="#404040" stroke-width="0.45" stroke-linejoin="round"/>
<path d="M221.45,107.7 Q223.85,106.1 226.25,107.7 L225.45,125.8 L222.35,125.8 Z" fill="#0c1266"/>
<path d="M210.34,105.82 Q210.45,102.86 211.78,102.2 Q213.1,101.53 214.48,101.81 Q215.86,102.1 215.91,105.44 Q215.96,108.79 215.64,112.61 Q215.33,116.43 214.95,119 Q214.58,121.58 213.37,121.58 Q212.15,121.58 211.67,118.72 Q211.19,115.85 210.72,112.32 Q210.24,108.79 210.34,105.82 Z" fill="#1426c0"/>
<path d="M211.27,107.3 Q211.35,104.76 212.33,104.18 Q213.3,103.61 214.31,103.85 Q215.33,104.1 215.37,106.97 Q215.41,109.84 215.17,113.12 Q214.94,116.4 214.66,118.61 Q214.39,120.83 213.5,120.83 Q212.6,120.83 212.25,118.37 Q211.9,115.91 211.55,112.87 Q211.19,109.84 211.27,107.3 Z" fill="url(#ghot)" filter="url(#bl4)"/>
<g filter="url(#bl4)" opacity="0.85"><circle cx="213.59" cy="115.5" r="0.63" fill="#ff6a10"/><circle cx="213.02" cy="109.72" r="0.7" fill="#f8d020"/><circle cx="212.81" cy="116.06" r="0.66" fill="#70d840"/><circle cx="212.93" cy="113.06" r="1.02" fill="#ff8010"/><circle cx="213.84" cy="114.83" r="0.71" fill="#e83010"/><circle cx="213.26" cy="114.81" r="0.63" fill="#ff6a10"/></g>
<path d="M230.93,104.18 Q231.05,101.1 232.5,100.4 Q233.95,99.7 235.46,100 Q236.97,100.3 237.02,103.78 Q237.08,107.27 236.73,111.25 Q236.39,115.22 235.98,117.91 Q235.57,120.6 234.24,120.6 Q232.91,120.6 232.38,117.61 Q231.86,114.63 231.34,110.95 Q230.82,107.27 230.93,104.18 Z" fill="#1426c0"/>
<path d="M231.86,105.65 Q231.95,102.99 233.05,102.39 Q234.15,101.78 235.29,102.04 Q236.44,102.3 236.48,105.31 Q236.53,108.32 236.26,111.76 Q236,115.2 235.69,117.52 Q235.38,119.84 234.37,119.84 Q233.36,119.84 232.96,117.26 Q232.57,114.68 232.17,111.5 Q231.77,108.32 231.86,105.65 Z" fill="url(#gcold)" filter="url(#bl4)"/>
<g filter="url(#bl4)" opacity="0.85"><circle cx="234.32" cy="110.63" r="0.89" fill="#1848e0"/><circle cx="234.3" cy="113.21" r="0.86" fill="#0a1890"/><circle cx="234.12" cy="109.16" r="0.85" fill="#1848e0"/><circle cx="233.46" cy="111.59" r="0.87" fill="#0a1890"/><circle cx="234.46" cy="110.85" r="0.61" fill="#1848e0"/><circle cx="234.08" cy="109.22" r="0.97" fill="#0a1890"/></g>
<rect x="249.6" y="92.2" width="48.2" height="33.6" fill="#c7c7c8"/>
<polyline points="253.6,95.8 258.6,100.8" fill="none" stroke="#e4e4e4" stroke-width="1.1" stroke-linejoin="round"/>
<polyline points="253.6,95.2 258.6,100.2" fill="none" stroke="#404040" stroke-width="0.45" stroke-linejoin="round"/>
<polyline points="276.6,108.8 280.6,102.8" fill="none" stroke="#e4e4e4" stroke-width="1.1" stroke-linejoin="round"/>
<polyline points="276.6,108.2 280.6,102.2" fill="none" stroke="#404040" stroke-width="0.45" stroke-linejoin="round"/>
<path d="M271.55,108.7 Q274.1,107.1 276.65,108.7 L275.85,125.8 L272.45,125.8 Z" fill="#0c1266"/>
<path d="M257.94,105.82 Q258.05,102.86 259.38,102.2 Q260.7,101.53 262.08,101.81 Q263.46,102.1 263.51,105.44 Q263.56,108.79 263.24,112.61 Q262.93,116.43 262.55,119 Q262.18,121.58 260.96,121.58 Q259.75,121.58 259.27,118.72 Q258.79,115.85 258.32,112.32 Q257.84,108.79 257.94,105.82 Z" fill="#1426c0"/>
<path d="M258.87,107.3 Q258.95,104.76 259.92,104.18 Q260.9,103.61 261.91,103.85 Q262.93,104.1 262.97,106.97 Q263.01,109.84 262.77,113.12 Q262.54,116.4 262.26,118.61 Q261.99,120.83 261.09,120.83 Q260.2,120.83 259.85,118.37 Q259.5,115.91 259.14,112.87 Q258.79,109.84 258.87,107.3 Z" fill="url(#ghot)" filter="url(#bl4)"/>
<g filter="url(#bl4)" opacity="0.85"><circle cx="260.65" cy="112.14" r="1.05" fill="#ff6a10"/><circle cx="260.66" cy="111.88" r="0.77" fill="#f8d020"/><circle cx="260.78" cy="109.78" r="0.87" fill="#70d840"/><circle cx="261.38" cy="113.64" r="0.97" fill="#ff8010"/><circle cx="261.41" cy="115.93" r="0.97" fill="#e83010"/><circle cx="261.23" cy="115.75" r="0.73" fill="#ff6a10"/></g>
<path d="M280.36,103.46 Q280.45,100.95 281.55,100.38 Q282.65,99.81 283.79,100.06 Q284.94,100.3 284.98,103.13 Q285.03,105.97 284.76,109.21 Q284.5,112.45 284.19,114.64 Q283.88,116.82 282.87,116.82 Q281.86,116.82 281.46,114.39 Q281.07,111.96 280.67,108.97 Q280.27,105.97 280.36,103.46 Z" fill="#1426c0"/>
<path d="M281.29,104.93 Q281.35,102.84 282.1,102.37 Q282.85,101.89 283.63,102.1 Q284.41,102.3 284.44,104.66 Q284.47,107.02 284.29,109.72 Q284.11,112.42 283.9,114.25 Q283.69,116.07 283,116.07 Q282.31,116.07 282.04,114.04 Q281.77,112.02 281.5,109.52 Q281.23,107.02 281.29,104.93 Z" fill="url(#gcold)" filter="url(#bl4)"/>
<g filter="url(#bl4)" opacity="0.85"><circle cx="282.76" cy="108.66" r="0.73" fill="#1848e0"/><circle cx="282.85" cy="108.5" r="0.91" fill="#0a1890"/><circle cx="282.86" cy="107.05" r="0.82" fill="#1848e0"/><circle cx="282.66" cy="111.12" r="0.64" fill="#0a1890"/><circle cx="282.43" cy="109.81" r="0.8" fill="#1848e0"/><circle cx="282.95" cy="108.6" r="0.7" fill="#0a1890"/></g>
<rect x="198.8" y="128.8" width="48.2" height="33.6" fill="#c7c7c8"/>
<polyline points="207.8,130.4 211.8,135.4 217.8,140.4 222.8,143.9" fill="none" stroke="#e4e4e4" stroke-width="1.1" stroke-linejoin="round"/>
<polyline points="207.8,129.8 211.8,134.8 217.8,139.8 222.8,143.3" fill="none" stroke="#404040" stroke-width="0.45" stroke-linejoin="round"/>
<polyline points="226.8,143.9 231.8,138.4 234.8,133.4" fill="none" stroke="#e4e4e4" stroke-width="1.1" stroke-linejoin="round"/>
<polyline points="226.8,143.3 231.8,137.8 234.8,132.8" fill="none" stroke="#404040" stroke-width="0.45" stroke-linejoin="round"/>
<path d="M221.85,143.6 Q224.35,142 226.85,143.6 L226.05,162.4 L222.75,162.4 Z" fill="#0c1266"/>
<path d="M211.24,139.56 Q211.35,137.05 212.7,136.48 Q214.05,135.91 215.45,136.16 Q216.86,136.4 216.91,139.24 Q216.97,142.07 216.64,145.31 Q216.32,148.55 215.94,150.74 Q215.56,152.92 214.32,152.92 Q213.08,152.92 212.59,150.49 Q212.11,148.06 211.62,145.07 Q211.13,142.07 211.24,139.56 Z" fill="#1426c0"/>
<path d="M212.17,141.03 Q212.25,138.94 213.25,138.47 Q214.25,138 215.29,138.2 Q216.33,138.4 216.37,140.76 Q216.41,143.13 216.17,145.83 Q215.93,148.53 215.65,150.35 Q215.37,152.17 214.45,152.17 Q213.53,152.17 213.17,150.15 Q212.81,148.12 212.45,145.62 Q212.09,143.13 212.17,141.03 Z" fill="url(#ghot)" filter="url(#bl4)"/>
<g filter="url(#bl4)" opacity="0.85"><circle cx="214.75" cy="144.1" r="0.67" fill="#ff6a10"/><circle cx="213.84" cy="144.74" r="0.71" fill="#f8d020"/><circle cx="214.2" cy="148.77" r="0.66" fill="#70d840"/><circle cx="214.03" cy="146.96" r="1.04" fill="#ff8010"/><circle cx="214.85" cy="143.42" r="0.87" fill="#e83010"/><circle cx="214.68" cy="142.81" r="0.89" fill="#ff6a10"/></g>
<path d="M232.85,137.83 Q232.95,135.18 234.18,134.59 Q235.4,133.99 236.67,134.24 Q237.95,134.5 238,137.49 Q238.05,140.49 237.75,143.91 Q237.46,147.33 237.12,149.63 Q236.77,151.94 235.65,151.94 Q234.52,151.94 234.08,149.38 Q233.64,146.81 233.2,143.65 Q232.75,140.49 232.85,137.83 Z" fill="#1426c0"/>
<path d="M233.78,139.31 Q233.85,137.08 234.73,136.57 Q235.6,136.07 236.51,136.28 Q237.42,136.5 237.46,139.02 Q237.49,141.54 237.28,144.42 Q237.07,147.3 236.83,149.24 Q236.58,151.19 235.78,151.19 Q234.97,151.19 234.66,149.03 Q234.34,146.87 234.03,144.2 Q233.71,141.54 233.78,139.31 Z" fill="url(#gcold)" filter="url(#bl4)"/>
<g filter="url(#bl4)" opacity="0.85"><circle cx="235.11" cy="146.35" r="1.07" fill="#1848e0"/><circle cx="235.56" cy="140.88" r="0.63" fill="#0a1890"/><circle cx="235.41" cy="146.92" r="0.72" fill="#1848e0"/><circle cx="235.72" cy="143.74" r="0.73" fill="#0a1890"/><circle cx="235.76" cy="143.04" r="0.79" fill="#1848e0"/><circle cx="235.84" cy="144.39" r="0.99" fill="#0a1890"/></g>
<rect x="249.6" y="128.8" width="48.2" height="33.6" fill="#c7c7c8"/>
<polyline points="253.6,132.4 258.6,138.4" fill="none" stroke="#e4e4e4" stroke-width="1.1" stroke-linejoin="round"/>
<polyline points="253.6,131.8 258.6,137.8" fill="none" stroke="#404040" stroke-width="0.45" stroke-linejoin="round"/>
<polyline points="276.6,144.4 280.6,139.4" fill="none" stroke="#e4e4e4" stroke-width="1.1" stroke-linejoin="round"/>
<polyline points="276.6,143.8 280.6,138.8" fill="none" stroke="#404040" stroke-width="0.45" stroke-linejoin="round"/>
<path d="M271.85,144.4 Q274.5,142.8 277.15,144.4 L276.35,162.4 L272.75,162.4 Z" fill="#0c1266"/>
<path d="M258.84,141.55 Q258.95,138.89 260.27,138.29 Q261.6,137.68 262.98,137.94 Q264.36,138.2 264.41,141.21 Q264.46,144.22 264.14,147.66 Q263.83,151.1 263.46,153.42 Q263.08,155.74 261.87,155.74 Q260.65,155.74 260.17,153.16 Q259.69,150.58 259.22,147.4 Q258.74,144.22 258.84,141.55 Z" fill="#1426c0"/>
<path d="M259.77,143.03 Q259.85,140.78 260.82,140.27 Q261.8,139.77 262.81,139.98 Q263.83,140.2 263.87,142.74 Q263.91,145.28 263.67,148.18 Q263.44,151.08 263.16,153.03 Q262.89,154.99 262,154.99 Q261.1,154.99 260.75,152.82 Q260.4,150.64 260.04,147.96 Q259.69,145.28 259.77,143.03 Z" fill="url(#ghot)" filter="url(#bl4)"/>
<g filter="url(#bl4)" opacity="0.85"><circle cx="261.72" cy="145.71" r="0.82" fill="#ff6a10"/><circle cx="262.21" cy="148.65" r="1.08" fill="#f8d020"/><circle cx="261.02" cy="147.02" r="0.98" fill="#70d840"/><circle cx="261.96" cy="148.62" r="0.93" fill="#ff8010"/><circle cx="262.22" cy="149.51" r="0.87" fill="#e83010"/><circle cx="261.79" cy="149.38" r="0.76" fill="#ff6a10"/></g>
<path d="M282.25,140.46 Q282.35,137.95 283.55,137.38 Q284.75,136.81 286,137.06 Q287.25,137.3 287.29,140.14 Q287.34,142.97 287.05,146.21 Q286.77,149.45 286.43,151.64 Q286.09,153.82 284.99,153.82 Q283.89,153.82 283.45,151.39 Q283.02,148.96 282.59,145.97 Q282.16,142.97 282.25,140.46 Z" fill="#1426c0"/>
<path d="M283.18,141.93 Q283.25,139.84 284.1,139.37 Q284.95,138.9 285.83,139.1 Q286.72,139.3 286.75,141.66 Q286.79,144.03 286.58,146.73 Q286.38,149.43 286.14,151.25 Q285.9,153.07 285.12,153.07 Q284.34,153.07 284.03,151.05 Q283.73,149.02 283.42,146.52 Q283.11,144.03 283.18,141.93 Z" fill="url(#gcool)" filter="url(#bl4)"/>
<g filter="url(#bl4)" opacity="0.85"><circle cx="285.07" cy="147.5" r="0.99" fill="#20d0c0"/><circle cx="284.84" cy="143.53" r="0.87" fill="#40b8f0"/><circle cx="285.29" cy="147.67" r="0.92" fill="#50d080"/><circle cx="284.74" cy="145.76" r="0.96" fill="#20d0c0"/><circle cx="284.36" cy="149.2" r="1.04" fill="#40b8f0"/><circle cx="285.42" cy="144.27" r="0.66" fill="#50d080"/></g>
<rect x="198.8" y="165.5" width="48.2" height="33.6" fill="#c7c7c8"/>
<polyline points="206.8,170.1 209.3,175.6" fill="none" stroke="#e4e4e4" stroke-width="1.1" stroke-linejoin="round"/>
<polyline points="206.8,169.5 209.3,175" fill="none" stroke="#404040" stroke-width="0.45" stroke-linejoin="round"/>
<polyline points="219.8,182.1 223.8,183.1" fill="none" stroke="#e4e4e4" stroke-width="1.1" stroke-linejoin="round"/>
<polyline points="219.8,181.5 223.8,182.5" fill="none" stroke="#404040" stroke-width="0.45" stroke-linejoin="round"/>
<path d="M220.55,182.5 Q223.4,180.9 226.25,182.5 L225.45,199.1 L221.45,199.1 Z" fill="#0c1266"/>
<path d="M209.44,178.92 Q209.55,175.96 210.88,175.3 Q212.2,174.63 213.58,174.91 Q214.96,175.2 215.01,178.54 Q215.06,181.88 214.74,185.7 Q214.43,189.53 214.06,192.1 Q213.68,194.68 212.47,194.68 Q211.25,194.68 210.77,191.82 Q210.29,188.95 209.81,185.42 Q209.34,181.88 209.44,178.92 Z" fill="#1426c0"/>
<path d="M210.37,180.4 Q210.45,177.86 211.43,177.28 Q212.4,176.71 213.41,176.95 Q214.43,177.2 214.47,180.07 Q214.51,182.94 214.27,186.22 Q214.04,189.5 213.76,191.71 Q213.49,193.93 212.59,193.93 Q211.7,193.93 211.35,191.47 Q211,189.01 210.65,185.97 Q210.29,182.94 210.37,180.4 Z" fill="url(#ghot)" filter="url(#bl4)"/>
<g filter="url(#bl4)" opacity="0.85"><circle cx="212.84" cy="185.41" r="0.74" fill="#ff6a10"/><circle cx="212.14" cy="187.53" r="0.68" fill="#f8d020"/><circle cx="212.28" cy="187.53" r="0.96" fill="#70d840"/><circle cx="211.64" cy="188.77" r="0.82" fill="#ff8010"/><circle cx="212.21" cy="186.73" r="0.74" fill="#e83010"/><circle cx="212.83" cy="183.86" r="0.87" fill="#ff6a10"/></g>
<path d="M232.86,178.73 Q232.95,175.92 234.05,175.29 Q235.15,174.66 236.29,174.93 Q237.44,175.2 237.48,178.37 Q237.53,181.53 237.26,185.16 Q237,188.78 236.69,191.22 Q236.38,193.66 235.37,193.66 Q234.36,193.66 233.96,190.95 Q233.57,188.23 233.17,184.88 Q232.77,181.53 232.86,178.73 Z" fill="#1426c0"/>
<path d="M233.79,180.2 Q233.85,177.82 234.6,177.28 Q235.35,176.74 236.13,176.97 Q236.91,177.2 236.94,179.89 Q236.97,182.59 236.79,185.67 Q236.61,188.75 236.4,190.83 Q236.19,192.91 235.5,192.91 Q234.81,192.91 234.54,190.6 Q234.27,188.29 234,185.44 Q233.73,182.59 233.79,180.2 Z" fill="url(#gcool)" filter="url(#bl4)"/>
<g filter="url(#bl4)" opacity="0.85"><circle cx="234.93" cy="186.56" r="1.05" fill="#20d0c0"/><circle cx="235.68" cy="182.86" r="0.91" fill="#40b8f0"/><circle cx="235.69" cy="183.36" r="0.81" fill="#50d080"/><circle cx="235.5" cy="187.5" r="0.83" fill="#20d0c0"/><circle cx="235.42" cy="186.97" r="0.78" fill="#40b8f0"/><circle cx="235.43" cy="186.27" r="0.95" fill="#50d080"/></g>
<rect x="249.6" y="165.5" width="48.2" height="33.6" fill="#c7c7c8"/>
<polyline points="255.6,169.1 259.6,176.1" fill="none" stroke="#e4e4e4" stroke-width="1.1" stroke-linejoin="round"/>
<polyline points="255.6,168.5 259.6,175.5" fill="none" stroke="#404040" stroke-width="0.45" stroke-linejoin="round"/>
<path d="M271.85,183 Q274.25,181.4 276.65,183 L275.85,199.1 L272.75,199.1 Z" fill="#0c1266"/>
<path d="M266.1,177 L274.25,183.4 L285.1,178 L285.2,179.1 L274.75,185.2 L273.75,185.2 L266,178.1 Z" fill="#0c1266"/>
<path d="M260.74,180.63 Q260.85,177.82 262.18,177.19 Q263.5,176.56 264.88,176.83 Q266.26,177.1 266.31,180.27 Q266.36,183.44 266.04,187.06 Q265.73,190.68 265.36,193.12 Q264.98,195.56 263.76,195.56 Q262.55,195.56 262.07,192.85 Q261.59,190.13 261.12,186.78 Q260.64,183.44 260.74,180.63 Z" fill="#1426c0"/>
<path d="M261.67,182.1 Q261.75,179.72 262.73,179.18 Q263.7,178.64 264.71,178.87 Q265.73,179.1 265.77,181.8 Q265.81,184.49 265.57,187.57 Q265.34,190.65 265.06,192.73 Q264.79,194.81 263.89,194.81 Q263,194.81 262.65,192.5 Q262.3,190.19 261.94,187.34 Q261.59,184.49 261.67,182.1 Z" fill="url(#gwarm)" filter="url(#bl4)"/>
<g filter="url(#bl4)" opacity="0.85"><circle cx="263.62" cy="186.31" r="0.82" fill="#e8e020"/><circle cx="264.18" cy="185.16" r="0.67" fill="#60d050"/><circle cx="262.94" cy="190.28" r="1.09" fill="#f0b020"/><circle cx="263.24" cy="185.77" r="0.7" fill="#30c8a0"/><circle cx="263.74" cy="187.46" r="1.01" fill="#e8e020"/><circle cx="263.21" cy="190.48" r="0.83" fill="#60d050"/></g>
<path d="M282.24,180.45 Q282.35,177.79 283.68,177.19 Q285,176.58 286.38,176.84 Q287.76,177.1 287.81,180.11 Q287.86,183.12 287.54,186.56 Q287.23,190 286.86,192.32 Q286.48,194.64 285.26,194.64 Q284.05,194.64 283.57,192.06 Q283.09,189.48 282.62,186.3 Q282.14,183.12 282.24,180.45 Z" fill="#1426c0"/>
<path d="M283.17,181.93 Q283.25,179.68 284.23,179.17 Q285.2,178.66 286.21,178.88 Q287.23,179.1 287.27,181.64 Q287.31,184.18 287.07,187.08 Q286.84,189.98 286.56,191.93 Q286.29,193.89 285.39,193.89 Q284.5,193.89 284.15,191.72 Q283.8,189.54 283.44,186.86 Q283.09,184.18 283.17,181.93 Z" fill="url(#gcool)" filter="url(#bl4)"/>
<g filter="url(#bl4)" opacity="0.85"><circle cx="285.52" cy="189.27" r="1.06" fill="#20d0c0"/><circle cx="285.1" cy="187.87" r="0.88" fill="#40b8f0"/><circle cx="284.68" cy="187.09" r="1.06" fill="#50d080"/><circle cx="285.66" cy="183.61" r="0.93" fill="#20d0c0"/><circle cx="284.87" cy="184.44" r="0.67" fill="#40b8f0"/><circle cx="285.51" cy="190.4" r="0.86" fill="#50d080"/></g>
<rect x="198.8" y="202.1" width="48.2" height="33.6" fill="#c7c7c8"/>
<polyline points="205.8,205.7 208.8,210.7" fill="none" stroke="#e4e4e4" stroke-width="1.1" stroke-linejoin="round"/>
<polyline points="205.8,205.1 208.8,210.1" fill="none" stroke="#404040" stroke-width="0.45" stroke-linejoin="round"/>
<path d="M219.25,218.4 Q222.3,216.8 225.35,218.4 L224.55,235.7 L220.15,235.7 Z" fill="#0c1266"/>
<path d="M209.95,215.55 Q210.05,212.89 211.25,212.29 Q212.45,211.68 213.7,211.94 Q214.95,212.2 214.99,215.21 Q215.04,218.22 214.75,221.66 Q214.47,225.1 214.13,227.42 Q213.79,229.74 212.69,229.74 Q211.59,229.74 211.15,227.16 Q210.72,224.58 210.29,221.4 Q209.86,218.22 209.95,215.55 Z" fill="#1426c0"/>
<path d="M210.88,217.03 Q210.95,214.78 211.8,214.27 Q212.65,213.76 213.53,213.98 Q214.42,214.2 214.45,216.74 Q214.49,219.28 214.28,222.18 Q214.08,225.08 213.84,227.03 Q213.6,228.99 212.82,228.99 Q212.04,228.99 211.73,226.81 Q211.43,224.64 211.12,221.96 Q210.81,219.28 210.88,217.03 Z" fill="url(#ghot)" filter="url(#bl4)"/>
<g filter="url(#bl4)" opacity="0.85"><circle cx="212.43" cy="222.25" r="1.01" fill="#ff6a10"/><circle cx="212.86" cy="219.01" r="0.71" fill="#f8d020"/><circle cx="213" cy="222.12" r="0.93" fill="#70d840"/><circle cx="212.9" cy="223.17" r="0.97" fill="#ff8010"/><circle cx="212.62" cy="220.21" r="0.69" fill="#e83010"/><circle cx="213.15" cy="218.63" r="0.95" fill="#ff6a10"/></g>
<path d="M230.94,214.83 Q231.05,212.02 232.38,211.39 Q233.7,210.76 235.08,211.03 Q236.46,211.3 236.51,214.47 Q236.56,217.63 236.24,221.25 Q235.93,224.88 235.56,227.32 Q235.18,229.76 233.97,229.76 Q232.75,229.76 232.27,227.05 Q231.79,224.33 231.31,220.98 Q230.84,217.63 230.94,214.83 Z" fill="#1426c0"/>
<path d="M231.87,216.3 Q231.95,213.92 232.93,213.38 Q233.9,212.84 234.91,213.07 Q235.93,213.3 235.97,216 Q236.01,218.69 235.77,221.77 Q235.54,224.85 235.27,226.93 Q234.99,229.01 234.1,229.01 Q233.2,229.01 232.85,226.7 Q232.5,224.39 232.15,221.54 Q231.79,218.69 231.87,216.3 Z" fill="url(#gcool)" filter="url(#bl4)"/>
<g filter="url(#bl4)" opacity="0.85"><circle cx="234.32" cy="219.7" r="0.62" fill="#20d0c0"/><circle cx="233.66" cy="220.46" r="0.83" fill="#40b8f0"/><circle cx="233.7" cy="225.17" r="0.66" fill="#50d080"/><circle cx="234.41" cy="218.27" r="1.07" fill="#20d0c0"/><circle cx="233.57" cy="223.52" r="0.6" fill="#40b8f0"/><circle cx="233.73" cy="223.14" r="0.91" fill="#50d080"/></g>
<rect x="249.6" y="202.1" width="48.2" height="33.6" fill="#c7c7c8"/>
<polyline points="255.6,206.7 259.6,211.7" fill="none" stroke="#e4e4e4" stroke-width="1.1" stroke-linejoin="round"/>
<polyline points="255.6,206.1 259.6,211.1" fill="none" stroke="#404040" stroke-width="0.45" stroke-linejoin="round"/>
<path d="M270.95,219.9 Q273.35,218.3 275.75,219.9 L274.95,235.7 L271.85,235.7 Z" fill="#0c1266"/>
<path d="M260.6,212.1 L273.35,220.3 L282.6,212.6 L282.7,213.7 L273.85,222.1 L272.85,222.1 L260.5,213.2 Z" fill="#0c1266"/>
<path d="M258.82,215.92 Q258.95,212.96 260.52,212.3 Q262.1,211.63 263.74,211.91 Q265.38,212.2 265.44,215.54 Q265.5,218.88 265.12,222.7 Q264.75,226.53 264.3,229.1 Q263.86,231.68 262.41,231.68 Q260.97,231.68 260.4,228.82 Q259.83,225.95 259.26,222.42 Q258.7,218.88 258.82,215.92 Z" fill="#1426c0"/>
<path d="M259.75,217.4 Q259.85,214.86 261.07,214.28 Q262.3,213.71 263.57,213.95 Q264.85,214.2 264.9,217.07 Q264.95,219.94 264.65,223.22 Q264.36,226.5 264.01,228.71 Q263.67,230.93 262.54,230.93 Q261.42,230.93 260.98,228.47 Q260.54,226.01 260.09,222.97 Q259.65,219.94 259.75,217.4 Z" fill="url(#ghot)" filter="url(#bl4)"/>
<g filter="url(#bl4)" opacity="0.85"><circle cx="262.7" cy="220.38" r="0.8" fill="#ff6a10"/><circle cx="262.37" cy="219.36" r="1.02" fill="#f8d020"/><circle cx="262.03" cy="221.14" r="0.71" fill="#70d840"/><circle cx="262.44" cy="219.51" r="0.72" fill="#ff8010"/><circle cx="261.84" cy="221.24" r="0.97" fill="#e83010"/><circle cx="262.34" cy="226.53" r="0.95" fill="#ff6a10"/></g>
<path d="M279.44,216.73 Q279.55,213.92 280.88,213.29 Q282.2,212.66 283.58,212.93 Q284.96,213.2 285.01,216.37 Q285.06,219.53 284.74,223.16 Q284.43,226.78 284.05,229.22 Q283.68,231.66 282.46,231.66 Q281.25,231.66 280.77,228.95 Q280.29,226.23 279.82,222.88 Q279.34,219.53 279.44,216.73 Z" fill="#1426c0"/>
<path d="M280.37,218.2 Q280.45,215.82 281.42,215.28 Q282.4,214.74 283.41,214.97 Q284.43,215.2 284.47,217.89 Q284.51,220.59 284.27,223.67 Q284.04,226.75 283.76,228.83 Q283.49,230.91 282.59,230.91 Q281.7,230.91 281.35,228.6 Q281,226.29 280.64,223.44 Q280.29,220.59 280.37,218.2 Z" fill="url(#gcool)" filter="url(#bl4)"/>
<g filter="url(#bl4)" opacity="0.85"><circle cx="282.02" cy="222.32" r="0.66" fill="#20d0c0"/><circle cx="281.95" cy="224.48" r="0.97" fill="#40b8f0"/><circle cx="282.02" cy="222.47" r="1" fill="#50d080"/><circle cx="282.93" cy="220.47" r="0.64" fill="#20d0c0"/><circle cx="282.66" cy="223.64" r="0.81" fill="#40b8f0"/><circle cx="282.48" cy="225.68" r="0.63" fill="#50d080"/></g>
<rect x="198.8" y="238.7" width="48.2" height="33.6" fill="#c7c7c8"/>
<polyline points="204.8,241.3 208.8,247.3 211.8,249.3" fill="none" stroke="#e4e4e4" stroke-width="1.1" stroke-linejoin="round"/>
<polyline points="204.8,240.7 208.8,246.7 211.8,248.7" fill="none" stroke="#404040" stroke-width="0.45" stroke-linejoin="round"/>
<polyline points="236.8,243.3 233.8,247.3" fill="none" stroke="#e4e4e4" stroke-width="1.1" stroke-linejoin="round"/>
<polyline points="236.8,242.7 233.8,246.7" fill="none" stroke="#404040" stroke-width="0.45" stroke-linejoin="round"/>
<path d="M219.95,255 Q222.45,253.4 224.95,255 L224.15,272.3 L220.85,272.3 Z" fill="#0c1266"/>
<path d="M214.3,249.2 L222.45,255.4 L231.3,249.2 L231.4,250.3 L222.95,257.2 L221.95,257.2 L214.2,250.3 Z" fill="#0c1266"/>
<path d="M210.34,252.73 Q210.45,249.92 211.78,249.29 Q213.1,248.66 214.48,248.93 Q215.86,249.2 215.91,252.37 Q215.96,255.53 215.64,259.15 Q215.33,262.77 214.95,265.22 Q214.58,267.66 213.37,267.66 Q212.15,267.66 211.67,264.95 Q211.19,262.23 210.72,258.88 Q210.24,255.53 210.34,252.73 Z" fill="#1426c0"/>
<path d="M211.27,254.2 Q211.35,251.82 212.33,251.28 Q213.3,250.74 214.31,250.97 Q215.33,251.2 215.37,253.89 Q215.41,256.59 215.17,259.67 Q214.94,262.75 214.66,264.83 Q214.39,266.91 213.5,266.91 Q212.6,266.91 212.25,264.6 Q211.9,262.29 211.55,259.44 Q211.19,256.59 211.27,254.2 Z" fill="url(#ghot)" filter="url(#bl4)"/>
<g filter="url(#bl4)" opacity="0.85"><circle cx="213.83" cy="263.2" r="0.81" fill="#ff6a10"/><circle cx="213.16" cy="257.92" r="0.89" fill="#f8d020"/><circle cx="212.8" cy="259.94" r="1.05" fill="#70d840"/><circle cx="213.21" cy="262.19" r="0.69" fill="#ff8010"/><circle cx="213.73" cy="256.77" r="0.71" fill="#e83010"/><circle cx="213.5" cy="258.15" r="0.66" fill="#ff6a10"/></g>
<path d="M231.84,251.55 Q231.95,248.89 233.3,248.29 Q234.65,247.68 236.05,247.94 Q237.46,248.2 237.51,251.21 Q237.57,254.22 237.24,257.66 Q236.92,261.1 236.54,263.42 Q236.16,265.74 234.92,265.74 Q233.68,265.74 233.19,263.16 Q232.71,260.58 232.22,257.4 Q231.73,254.22 231.84,251.55 Z" fill="#1426c0"/>
<path d="M232.77,253.03 Q232.85,250.78 233.85,250.27 Q234.85,249.76 235.89,249.98 Q236.93,250.2 236.97,252.74 Q237.01,255.27 236.77,258.17 Q236.53,261.07 236.25,263.03 Q235.97,264.99 235.05,264.99 Q234.13,264.99 233.77,262.81 Q233.41,260.64 233.05,257.96 Q232.69,255.27 232.77,253.03 Z" fill="url(#gcool)" filter="url(#bl4)"/>
<g filter="url(#bl4)" opacity="0.85"><circle cx="234.17" cy="260.3" r="0.61" fill="#20d0c0"/><circle cx="234.13" cy="261.41" r="0.99" fill="#40b8f0"/><circle cx="234.57" cy="255.94" r="1.03" fill="#50d080"/><circle cx="235.15" cy="259.4" r="0.87" fill="#20d0c0"/><circle cx="234.79" cy="261.64" r="0.86" fill="#40b8f0"/><circle cx="234.17" cy="255.09" r="0.9" fill="#50d080"/></g>
<rect x="249.6" y="238.7" width="48.2" height="33.6" fill="#c7c7c8"/>
<polyline points="255.6,240.3 259.6,246.3" fill="none" stroke="#e4e4e4" stroke-width="1.1" stroke-linejoin="round"/>
<polyline points="255.6,239.7 259.6,245.7" fill="none" stroke="#404040" stroke-width="0.45" stroke-linejoin="round"/>
<path d="M271.45,254.2 Q274.05,252.6 276.65,254.2 L275.85,272.3 L272.35,272.3 Z" fill="#0c1266"/>
<path d="M264.6,247.2 L274.05,254.6 L282.6,248.2 L282.7,249.3 L274.55,256.4 L273.55,256.4 L264.5,248.3 Z" fill="#0c1266"/>
<path d="M260.74,250.83 Q260.85,248.02 262.18,247.39 Q263.5,246.76 264.88,247.03 Q266.26,247.3 266.31,250.47 Q266.36,253.63 266.04,257.25 Q265.73,260.88 265.36,263.32 Q264.98,265.76 263.76,265.76 Q262.55,265.76 262.07,263.05 Q261.59,260.33 261.12,256.98 Q260.64,253.63 260.74,250.83 Z" fill="#1426c0"/>
<path d="M261.67,252.3 Q261.75,249.92 262.73,249.38 Q263.7,248.84 264.71,249.07 Q265.73,249.3 265.77,252 Q265.81,254.69 265.57,257.77 Q265.34,260.85 265.06,262.93 Q264.79,265.01 263.89,265.01 Q263,265.01 262.65,262.7 Q262.3,260.39 261.94,257.54 Q261.59,254.69 261.67,252.3 Z" fill="url(#gwarm)" filter="url(#bl4)"/>
<g filter="url(#bl4)" opacity="0.85"><circle cx="263.92" cy="258.76" r="0.97" fill="#e8e020"/><circle cx="263.32" cy="256.78" r="0.73" fill="#60d050"/><circle cx="263.43" cy="255.97" r="1.02" fill="#f0b020"/><circle cx="263.12" cy="255.52" r="0.96" fill="#30c8a0"/><circle cx="263.46" cy="256.55" r="1.09" fill="#e8e020"/><circle cx="264.14" cy="255.61" r="0.68" fill="#60d050"/></g>
<path d="M282.24,250.65 Q282.35,247.99 283.68,247.39 Q285,246.78 286.38,247.04 Q287.76,247.3 287.81,250.31 Q287.86,253.32 287.54,256.76 Q287.23,260.2 286.86,262.52 Q286.48,264.84 285.26,264.84 Q284.05,264.84 283.57,262.26 Q283.09,259.68 282.62,256.5 Q282.14,253.32 282.24,250.65 Z" fill="#1426c0"/>
<path d="M283.17,252.13 Q283.25,249.88 284.23,249.37 Q285.2,248.86 286.21,249.08 Q287.23,249.3 287.27,251.84 Q287.31,254.38 287.07,257.27 Q286.84,260.18 286.56,262.13 Q286.29,264.09 285.39,264.09 Q284.5,264.09 284.15,261.92 Q283.8,259.74 283.44,257.06 Q283.09,254.38 283.17,252.13 Z" fill="url(#gcool)" filter="url(#bl4)"/>
<g filter="url(#bl4)" opacity="0.85"><circle cx="285.09" cy="257.81" r="0.77" fill="#20d0c0"/><circle cx="285.23" cy="258.57" r="1.01" fill="#40b8f0"/><circle cx="284.75" cy="258.33" r="0.63" fill="#50d080"/><circle cx="284.51" cy="254.05" r="0.66" fill="#20d0c0"/><circle cx="285.49" cy="256.34" r="0.85" fill="#40b8f0"/><circle cx="285.04" cy="255.15" r="0.62" fill="#50d080"/></g>
<rect x="198.8" y="275.3" width="48.2" height="33.6" fill="#c7c7c8"/>
<polyline points="205.8,276.9 208.8,281.9" fill="none" stroke="#e4e4e4" stroke-width="1.1" stroke-linejoin="round"/>
<polyline points="205.8,276.3 208.8,281.3" fill="none" stroke="#404040" stroke-width="0.45" stroke-linejoin="round"/>
<polyline points="236.8,280.9 234.8,284.9" fill="none" stroke="#e4e4e4" stroke-width="1.1" stroke-linejoin="round"/>
<polyline points="236.8,280.3 234.8,284.3" fill="none" stroke="#404040" stroke-width="0.45" stroke-linejoin="round"/>
<path d="M219.65,291.1 Q222.5,289.5 225.35,291.1 L224.55,308.9 L220.55,308.9 Z" fill="#0c1266"/>
<path d="M209.44,285.93 Q209.55,283.12 210.88,282.49 Q212.2,281.86 213.58,282.13 Q214.96,282.4 215.01,285.57 Q215.06,288.74 214.74,292.36 Q214.43,295.98 214.06,298.42 Q213.68,300.86 212.47,300.86 Q211.25,300.86 210.77,298.15 Q210.29,295.43 209.81,292.08 Q209.34,288.74 209.44,285.93 Z" fill="#1426c0"/>
<path d="M210.37,287.4 Q210.45,285.02 211.43,284.48 Q212.4,283.94 213.41,284.17 Q214.43,284.4 214.47,287.1 Q214.51,289.79 214.27,292.87 Q214.04,295.95 213.76,298.03 Q213.49,300.11 212.59,300.11 Q211.7,300.11 211.35,297.8 Q211,295.49 210.65,292.64 Q210.29,289.79 210.37,287.4 Z" fill="url(#ghot)" filter="url(#bl4)"/>
<g filter="url(#bl4)" opacity="0.85"><circle cx="211.87" cy="295.63" r="0.77" fill="#ff6a10"/><circle cx="212.19" cy="291.06" r="0.97" fill="#f8d020"/><circle cx="212.58" cy="291.98" r="0.85" fill="#70d840"/><circle cx="212.16" cy="293.43" r="0.9" fill="#ff8010"/><circle cx="212.41" cy="295.96" r="1.08" fill="#e83010"/><circle cx="211.69" cy="291.94" r="0.62" fill="#ff6a10"/></g>
<path d="M231.84,287.73 Q231.95,284.92 233.3,284.29 Q234.65,283.66 236.05,283.93 Q237.46,284.2 237.51,287.37 Q237.57,290.53 237.24,294.15 Q236.92,297.77 236.54,300.22 Q236.16,302.66 234.92,302.66 Q233.68,302.66 233.19,299.95 Q232.71,297.23 232.22,293.88 Q231.73,290.53 231.84,287.73 Z" fill="#1426c0"/>
<path d="M232.77,289.2 Q232.85,286.82 233.85,286.28 Q234.85,285.74 235.89,285.97 Q236.93,286.2 236.97,288.89 Q237.01,291.59 236.77,294.67 Q236.53,297.75 236.25,299.83 Q235.97,301.91 235.05,301.91 Q234.13,301.91 233.77,299.6 Q233.41,297.29 233.05,294.44 Q232.69,291.59 232.77,289.2 Z" fill="url(#gcool)" filter="url(#bl4)"/>
<g filter="url(#bl4)" opacity="0.85"><circle cx="234.57" cy="297" r="0.94" fill="#20d0c0"/><circle cx="234.84" cy="291.48" r="1.01" fill="#40b8f0"/><circle cx="234.91" cy="293.15" r="0.99" fill="#50d080"/><circle cx="234.1" cy="292.26" r="0.99" fill="#20d0c0"/><circle cx="234.11" cy="291.84" r="0.85" fill="#40b8f0"/><circle cx="235.04" cy="295.36" r="0.62" fill="#50d080"/></g>
<rect x="249.6" y="275.3" width="48.2" height="33.6" fill="#c7c7c8"/>
<polyline points="254.6,277.9 257.6,283.9" fill="none" stroke="#e4e4e4" stroke-width="1.1" stroke-linejoin="round"/>
<polyline points="254.6,277.3 257.6,283.3" fill="none" stroke="#404040" stroke-width="0.45" stroke-linejoin="round"/>
<polyline points="262.6,281.9 265.6,287.9" fill="none" stroke="#e4e4e4" stroke-width="1.1" stroke-linejoin="round"/>
<polyline points="262.6,281.3 265.6,287.3" fill="none" stroke="#404040" stroke-width="0.45" stroke-linejoin="round"/>
<path d="M270.35,293.8 Q272.85,292.2 275.35,293.8 L274.55,308.9 L271.25,308.9 Z" fill="#0c1266"/>
<path d="M265.1,290.3 L272.85,294.2 L283.1,284.8 L283.2,285.9 L273.35,296 L272.35,296 L265,291.4 Z" fill="#0c1266"/>
<path d="M257.94,290.35 Q258.05,287.69 259.38,287.09 Q260.7,286.48 262.08,286.74 Q263.46,287 263.51,290.01 Q263.56,293.02 263.24,296.46 Q262.93,299.9 262.55,302.22 Q262.18,304.54 260.96,304.54 Q259.75,304.54 259.27,301.96 Q258.79,299.38 258.32,296.2 Q257.84,293.02 257.94,290.35 Z" fill="#1426c0"/>
<path d="M258.87,291.83 Q258.95,289.58 259.92,289.07 Q260.9,288.56 261.91,288.78 Q262.93,289 262.97,291.54 Q263.01,294.08 262.77,296.98 Q262.54,299.88 262.26,301.83 Q261.99,303.79 261.09,303.79 Q260.2,303.79 259.85,301.62 Q259.5,299.44 259.14,296.76 Q258.79,294.08 258.87,291.83 Z" fill="url(#ghot)" filter="url(#bl4)"/>
<g filter="url(#bl4)" opacity="0.85"><circle cx="260.5" cy="298.47" r="0.77" fill="#ff6a10"/><circle cx="260.39" cy="293.37" r="0.73" fill="#f8d020"/><circle cx="261.39" cy="293.71" r="0.88" fill="#70d840"/><circle cx="261.36" cy="298.43" r="0.74" fill="#ff8010"/><circle cx="261.01" cy="294.22" r="0.85" fill="#e83010"/><circle cx="260.48" cy="299.7" r="1.03" fill="#ff6a10"/></g>
<path d="M278.53,287.92 Q278.65,284.96 280.2,284.3 Q281.75,283.63 283.36,283.91 Q284.97,284.2 285.04,287.54 Q285.1,290.88 284.73,294.7 Q284.35,298.52 283.92,301.1 Q283.49,303.68 282.06,303.68 Q280.63,303.68 280.08,300.82 Q279.52,297.95 278.96,294.42 Q278.4,290.88 278.53,287.92 Z" fill="#1426c0"/>
<path d="M279.45,289.4 Q279.55,286.86 280.75,286.28 Q281.95,285.71 283.2,285.95 Q284.45,286.2 284.49,289.07 Q284.54,291.94 284.25,295.22 Q283.97,298.5 283.63,300.71 Q283.29,302.93 282.19,302.93 Q281.09,302.93 280.65,300.47 Q280.22,298.01 279.79,294.97 Q279.36,291.94 279.45,289.4 Z" fill="url(#gwarm)" filter="url(#bl4)"/>
<g filter="url(#bl4)" opacity="0.85"><circle cx="282.27" cy="294.2" r="1" fill="#e8e020"/><circle cx="282.64" cy="294.15" r="0.86" fill="#60d050"/><circle cx="281.26" cy="292.01" r="0.96" fill="#f0b020"/><circle cx="281.09" cy="296.05" r="0.66" fill="#30c8a0"/><circle cx="282.11" cy="297.3" r="1.07" fill="#e8e020"/><circle cx="281.65" cy="294.31" r="0.8" fill="#60d050"/></g>
<text x="349.4" y="26" font-size="12.0" fill="#0cb06c" stroke="#0cb06c" stroke-width="0.35">CD31</text>
<text x="408.3" y="25.8" font-size="12" fill="#f0222a" stroke="#f0222a" stroke-width="0.35">Dystrophin</text>
<text x="490.8" y="25.8" font-size="12" fill="#1a1a1a" stroke="#1a1a1a" stroke-width="0.35">Merge</text>
<text x="328.3" y="83.6" font-size="12" text-anchor="middle" fill="#1e1e1e" stroke="#1e1e1e" stroke-width="0.35" transform="rotate(-90 328.3 83.6)">Liraglutide Vehicle</text>
<rect x="332" y="30.85" width="68.9" height="45.75" fill="#000"/>
<rect x="332" y="30.85" width="68.9" height="45.75" fill="#030a04"/>
<g clip-path="url(#ce00)"><circle cx="389.5" cy="58.1" r="0.5" fill="#0c3410"/><circle cx="335.0" cy="75.4" r="0.5" fill="#0c3410"/><circle cx="373.1" cy="67.0" r="0.5" fill="#0a2a0c"/><circle cx="379.4" cy="39.5" r="0.5" fill="#0a2a0c"/><circle cx="399.6" cy="43.9" r="0.5" fill="#0c3410"/><circle cx="372.0" cy="58.3" r="0.5" fill="#104a18"/><circle cx="368.9" cy="76.4" r="0.5" fill="#0c3410"/><circle cx="385.1" cy="53.5" r="0.5" fill="#104a18"/><circle cx="400.7" cy="75.6" r="0.5" fill="#0a2a0c"/><circle cx="354.2" cy="70.3" r="0.5" fill="#104a18"/><circle cx="387.1" cy="62.5" r="0.5" fill="#0a2a0c"/><circle cx="358.9" cy="36.9" r="0.5" fill="#104a18"/><circle cx="375.1" cy="34.6" r="0.5" fill="#0a2a0c"/><circle cx="377.2" cy="31.5" r="0.5" fill="#0c3410"/><circle cx="389.5" cy="34.2" r="0.5" fill="#0c3410"/><circle cx="369.7" cy="41.2" r="0.5" fill="#104a18"/><circle cx="397.9" cy="46.4" r="0.5" fill="#0a2a0c"/><circle cx="391.8" cy="60.9" r="0.5" fill="#104a18"/><circle cx="358.5" cy="35.3" r="0.5" fill="#0c3410"/><circle cx="372.6" cy="57.5" r="0.5" fill="#0a2a0c"/><circle cx="373.1" cy="37.7" r="0.5" fill="#0a2a0c"/><circle cx="370.8" cy="57.4" r="0.5" fill="#104a18"/><circle cx="344.7" cy="63.3" r="0.5" fill="#0c3410"/><circle cx="354.4" cy="35.7" r="0.5" fill="#0c3410"/><circle cx="383.5" cy="53.8" r="0.5" fill="#0a2a0c"/><circle cx="337.1" cy="51.1" r="0.5" fill="#104a18"/><circle cx="347.4" cy="44.7" r="0.5" fill="#0a2a0c"/><circle cx="380.7" cy="66.8" r="0.5" fill="#104a18"/><circle cx="356.6" cy="61.5" r="0.5" fill="#0a2a0c"/><circle cx="378.2" cy="46.0" r="0.5" fill="#104a18"/><circle cx="393.9" cy="61.2" r="0.5" fill="#0a2a0c"/><circle cx="371.6" cy="65.1" r="0.5" fill="#0c3410"/><circle cx="385.7" cy="50.9" r="0.5" fill="#0c3410"/><circle cx="374.4" cy="64.2" r="0.5" fill="#0c3410"/><circle cx="366.9" cy="39.3" r="0.5" fill="#0c3410"/><circle cx="384.4" cy="72.7" r="0.5" fill="#104a18"/><circle cx="400.5" cy="47.7" r="0.5" fill="#0c3410"/><circle cx="379.5" cy="75.4" r="0.5" fill="#0a2a0c"/><circle cx="367.1" cy="70.2" r="0.5" fill="#0c3410"/><circle cx="351.9" cy="74.8" r="0.5" fill="#104a18"/><circle cx="351.6" cy="45.1" r="0.5" fill="#0c3410"/><circle cx="332.0" cy="46.5" r="0.5" fill="#0c3410"/><circle cx="350.7" cy="64.1" r="0.5" fill="#104a18"/><circle cx="393.4" cy="68.2" r="0.5" fill="#0c3410"/><circle cx="394.7" cy="66.0" r="0.5" fill="#104a18"/><circle cx="384.6" cy="71.1" r="0.5" fill="#104a18"/><circle cx="390.8" cy="43.2" r="0.5" fill="#0a2a0c"/><circle cx="400.4" cy="62.6" r="0.5" fill="#0a2a0c"/><circle cx="374.2" cy="58.9" r="0.5" fill="#0c3410"/><circle cx="394.4" cy="45.0" r="0.5" fill="#0a2a0c"/><circle cx="359.6" cy="45.3" r="0.5" fill="#0c3410"/><circle cx="334.3" cy="49.3" r="0.5" fill="#0a2a0c"/><circle cx="359.9" cy="48.8" r="0.5" fill="#0a2a0c"/><circle cx="348.9" cy="71.7" r="0.5" fill="#104a18"/><circle cx="358.1" cy="74.7" r="0.5" fill="#0c3410"/><circle cx="356.0" cy="47.7" r="0.5" fill="#0a2a0c"/><circle cx="374.7" cy="49.0" r="0.5" fill="#104a18"/><circle cx="351.4" cy="39.4" r="0.5" fill="#0c3410"/><circle cx="361.0" cy="71.6" r="0.5" fill="#0c3410"/><circle cx="335.2" cy="66.0" r="0.5" fill="#104a18"/><circle cx="391.3" cy="71.3" r="0.5" fill="#0a2a0c"/><circle cx="352.3" cy="75.3" r="0.5" fill="#104a18"/><circle cx="358.2" cy="56.4" r="0.5" fill="#0c3410"/><circle cx="390.7" cy="71.6" r="0.5" fill="#0a2a0c"/><circle cx="395.4" cy="63.4" r="0.5" fill="#0c3410"/><circle cx="345.0" cy="65.0" r="0.5" fill="#0c3410"/><circle cx="371.5" cy="34.7" r="0.5" fill="#104a18"/><circle cx="338.3" cy="69.5" r="0.5" fill="#0a2a0c"/><circle cx="387.1" cy="75.6" r="0.5" fill="#0a2a0c"/><circle cx="333.8" cy="54.5" r="0.5" fill="#0c3410"/><circle cx="396.3" cy="74.2" r="0.5" fill="#0c3410"/><circle cx="359.0" cy="74.8" r="0.5" fill="#104a18"/><circle cx="388.4" cy="73.8" r="0.5" fill="#0c3410"/><circle cx="367.1" cy="37.2" r="0.5" fill="#0a2a0c"/><circle cx="368.0" cy="35.0" r="0.5" fill="#0a2a0c"/><circle cx="380.8" cy="57.5" r="0.5" fill="#0a2a0c"/><circle cx="356.6" cy="64.1" r="0.5" fill="#0a2a0c"/><circle cx="362.7" cy="58.9" r="0.5" fill="#104a18"/><circle cx="374.1" cy="40.8" r="0.5" fill="#104a18"/><circle cx="344.6" cy="67.2" r="0.5" fill="#0a2a0c"/><circle cx="351.8" cy="53.6" r="0.5" fill="#0c3410"/><circle cx="362.9" cy="53.3" r="0.5" fill="#0a2a0c"/><circle cx="338.0" cy="66.3" r="0.5" fill="#0a2a0c"/><circle cx="370.0" cy="40.1" r="0.5" fill="#104a18"/><circle cx="377.6" cy="33.7" r="0.5" fill="#0a2a0c"/><circle cx="379.4" cy="62.9" r="0.5" fill="#0c3410"/><circle cx="367.1" cy="41.1" r="0.5" fill="#0c3410"/><circle cx="337.7" cy="42.0" r="0.5" fill="#0a2a0c"/><circle cx="386.4" cy="66.3" r="0.5" fill="#0a2a0c"/><circle cx="368.1" cy="46.7" r="0.5" fill="#104a18"/><circle cx="343.0" cy="60.4" r="0.5" fill="#104a18"/><circle cx="385.3" cy="38.1" r="0.5" fill="#104a18"/><circle cx="360.1" cy="59.4" r="0.5" fill="#0a2a0c"/><circle cx="334.0" cy="55.5" r="0.5" fill="#104a18"/><circle cx="338.1" cy="31.6" r="0.5" fill="#0c3410"/><circle cx="344.6" cy="64.3" r="0.5" fill="#0c3410"/><circle cx="380.2" cy="67.0" r="0.5" fill="#0c3410"/><circle cx="397.6" cy="51.4" r="0.5" fill="#0a2a0c"/><circle cx="391.9" cy="60.3" r="0.5" fill="#0a2a0c"/><circle cx="343.6" cy="70.9" r="0.5" fill="#104a18"/><circle cx="382.3" cy="58.8" r="0.5" fill="#0a2a0c"/><circle cx="349.8" cy="62.3" r="0.5" fill="#0c3410"/><circle cx="388.0" cy="67.3" r="0.5" fill="#0c3410"/><circle cx="393.6" cy="54.5" r="0.5" fill="#0c3410"/><circle cx="347.0" cy="64.1" r="0.5" fill="#0c3410"/><circle cx="395.9" cy="51.8" r="0.5" fill="#0a2a0c"/><circle cx="374.2" cy="75.3" r="0.5" fill="#104a18"/><circle cx="340.5" cy="64.4" r="0.5" fill="#104a18"/><circle cx="388.6" cy="56.5" r="0.5" fill="#104a18"/><circle cx="348.0" cy="74.4" r="0.5" fill="#104a18"/><circle cx="393.4" cy="32.9" r="0.5" fill="#0a2a0c"/><circle cx="363.0" cy="57.6" r="0.5" fill="#0c3410"/><circle cx="374.2" cy="45.6" r="0.5" fill="#104a18"/><circle cx="336.7" cy="70.7" r="0.5" fill="#0c3410"/><circle cx="374.5" cy="47.3" r="0.5" fill="#0a2a0c"/><circle cx="387.0" cy="53.1" r="0.5" fill="#0a2a0c"/><circle cx="385.7" cy="69.0" r="0.5" fill="#0c3410"/><circle cx="333.4" cy="63.3" r="0.5" fill="#104a18"/><circle cx="350.6" cy="40.4" r="0.5" fill="#104a18"/><circle cx="371.9" cy="31.3" r="0.5" fill="#0c3410"/><circle cx="387.1" cy="51.1" r="0.5" fill="#0c3410"/><circle cx="382.0" cy="75.9" r="0.5" fill="#0c3410"/><circle cx="356.5" cy="60.0" r="0.5" fill="#0a2a0c"/><circle cx="367.2" cy="51.2" r="0.5" fill="#0c3410"/><circle cx="384.1" cy="42.3" r="0.5" fill="#0c3410"/><circle cx="332.7" cy="67.6" r="0.5" fill="#104a18"/><circle cx="356.7" cy="50.9" r="0.5" fill="#0a2a0c"/><circle cx="343.8" cy="41.2" r="0.5" fill="#0c3410"/><circle cx="362.5" cy="71.4" r="0.5" fill="#104a18"/><circle cx="358.4" cy="37.6" r="0.5" fill="#104a18"/><circle cx="380.0" cy="66.2" r="0.5" fill="#0c3410"/><circle cx="340.9" cy="35.9" r="0.5" fill="#0a2a0c"/><circle cx="373.0" cy="71.3" r="0.5" fill="#0c3410"/><circle cx="399.2" cy="74.8" r="0.5" fill="#0a2a0c"/><circle cx="385.8" cy="37.0" r="0.5" fill="#0a2a0c"/><circle cx="379.6" cy="65.3" r="0.5" fill="#104a18"/><circle cx="380.2" cy="70.8" r="0.5" fill="#104a18"/><circle cx="383.3" cy="49.0" r="0.5" fill="#0a2a0c"/><circle cx="343.7" cy="50.4" r="0.5" fill="#0c3410"/><circle cx="365.8" cy="42.6" r="0.5" fill="#0c3410"/><circle cx="342.3" cy="72.8" r="0.5" fill="#104a18"/><circle cx="385.9" cy="69.7" r="0.5" fill="#104a18"/><circle cx="372.5" cy="54.8" r="0.5" fill="#0a2a0c"/><circle cx="342.8" cy="46.7" r="0.5" fill="#0a2a0c"/><circle cx="389.8" cy="67.7" r="0.5" fill="#0a2a0c"/><circle cx="394.9" cy="42.9" r="0.5" fill="#0c3410"/><circle cx="371.1" cy="40.8" r="0.5" fill="#104a18"/><circle cx="392.0" cy="63.7" r="0.5" fill="#0c3410"/><circle cx="336.2" cy="65.9" r="0.5" fill="#0c3410"/><circle cx="394.7" cy="74.6" r="0.5" fill="#0a2a0c"/></g>
<rect x="402.6" y="30.85" width="68.6" height="45.75" fill="#000"/>
<g clip-path="url(#ce01)"><path d="M399.9 77.5L403.5 78.1M470.1 71.7L468.5 72.5M470.1 71.7L470.8 69.1M467.9 66.8L470.8 69.1M467.9 66.8L465.6 71.3M468.5 72.5L465.6 71.3M473.1 67.9L470.8 69.1M470.1 71.7L473.6 73.7M474.8 76.5L471.5 78.4M450.1 73.9L450.5 71.1M450.1 73.9L454.3 75.0M454.3 75.0L455.0 74.4M455.3 73.4L455.0 74.4M455.3 73.4L452.6 69.9M450.5 71.1L452.6 69.9M468.5 75.1L466.6 76.6M468.5 75.1L470.3 76.3M470.9 78.1L470.3 76.3M466.6 76.6L467.0 78.9M468.5 72.5L468.5 75.1M473.6 73.7L470.3 76.3M465.6 71.3L465.2 71.3M466.6 76.6L462.7 75.1M462.7 75.1L465.2 71.3M467.9 66.8L467.9 66.7M467.9 66.7L465.9 65.8M465.9 65.8L462.4 68.4M465.2 71.3L462.4 68.4M467.9 66.7L470.4 63.3M470.4 63.3L467.6 61.7M465.9 65.8L464.9 63.3M467.6 61.7L464.9 63.3M460.0 65.8L461.8 68.2M460.0 65.8L460.3 64.9M460.3 64.9L463.5 62.8M462.4 68.4L461.8 68.2M463.5 62.8L464.9 63.3M401.2 43.8L405.7 44.2M400.6 46.6L402.0 47.6M402.0 47.6L404.6 48.0M404.6 48.0L406.3 45.5M405.7 44.2L406.3 45.5M407.1 40.3L405.7 44.2M407.1 40.3L405.4 39.9M405.4 39.9L401.5 42.2M398.2 34.9L402.5 37.0M402.5 37.0L400.6 40.1M405.4 39.9L402.6 37.0M402.6 37.0L402.5 37.0M409.5 46.3L406.3 45.5M409.5 46.3L409.5 48.1M404.6 48.0L406.5 51.3M406.5 51.3L409.5 48.1M407.1 40.3L408.2 39.9M403.3 36.0L407.2 36.5M403.3 36.0L402.6 37.0M408.2 39.9L407.2 36.5M409.5 46.3L410.3 45.6M409.2 40.0L408.2 39.9M409.2 40.0L410.0 40.9M410.0 40.9L410.3 45.6M414.5 47.8L414.0 45.9M414.5 47.8L411.3 49.5M411.3 49.5L409.5 48.1M410.3 45.6L414.0 45.9M409.2 40.0L412.2 36.1M413.3 41.5L410.0 40.9M413.3 41.5L415.0 38.3M415.0 38.3L412.2 36.1M413.3 41.5L414.5 42.5M414.0 45.9L415.0 44.6M414.5 42.5L415.0 44.6M470.4 63.3L472.0 63.0M473.2 63.6L472.0 63.0M446.3 36.3L447.5 36.6M446.3 36.3L444.0 37.7M447.6 42.7L449.0 39.2M447.6 42.7L447.0 43.1M445.6 43.7L447.0 43.1M445.6 43.7L443.4 38.7M443.4 38.7L444.0 37.7M447.5 36.6L449.0 39.2M435.7 87.0L434.5 77.1M434.5 77.1L439.9 77.9M446.0 72.4L443.4 72.1M446.0 72.4L447.7 68.5M444.5 68.6L442.2 70.7M444.5 68.6L447.7 68.3M442.2 70.7L443.4 72.1M447.7 68.3L447.7 68.5M448.1 67.0L450.1 66.9M448.1 67.0L447.7 68.3M450.5 71.1L447.7 68.5M452.6 69.9L453.1 68.7M453.1 68.7L450.1 66.9M457.2 71.5L455.6 67.0M457.2 71.5L455.3 73.4M453.1 68.7L455.6 67.0M457.2 71.5L459.4 71.5M460.0 65.8L455.7 66.8M459.4 71.5L461.8 68.2M455.6 67.0L455.7 66.8M450.1 66.9L453.0 64.1M455.7 66.8L454.7 65.1M454.7 65.1L453.0 64.1M462.9 79.8L462.4 75.2M459.4 76.3L458.7 78.2M459.4 76.3L461.7 75.1M461.7 75.1L462.4 75.2M462.7 75.1L462.4 75.2M454.1 78.2L454.3 75.0M455.0 74.4L459.4 76.3M459.4 71.5L461.7 75.1M409.3 77.6L413.0 77.1M414.7 81.0L413.0 77.1M418.1 78.3L417.3 75.7M414.1 75.2L413.0 77.1M414.1 75.2L416.8 75.3M416.8 75.3L417.3 75.7M409.3 77.6L409.3 77.1M414.1 75.2L411.9 71.8M409.3 77.1L411.9 71.8M404.5 77.9L406.6 72.2M409.3 77.1L406.6 72.2M413.4 70.7L417.7 69.7M413.4 70.7L411.9 71.8M417.7 69.7L416.8 75.3M411.9 71.8L411.9 71.8M406.5 51.3L406.5 51.7M411.3 49.5L411.9 52.4M406.5 51.7L411.9 52.4M415.0 38.3L417.4 38.4M414.5 42.5L418.0 40.0M417.4 38.4L418.0 40.0M412.2 36.1L412.3 34.1M417.4 38.4L418.2 36.3M412.7 33.7L412.3 34.1M412.7 33.7L414.8 33.5M418.2 36.3L414.8 33.5M472.0 29.8L470.8 29.9M469.3 28.7L470.8 29.9M415.0 44.6L417.9 44.6M418.0 40.0L419.0 40.8M419.0 40.8L419.0 43.6M417.9 44.6L419.0 43.6M423.9 79.0L427.2 76.5M429.7 80.3L427.2 76.5M413.4 70.7L413.1 65.9M418.0 67.6L418.0 67.3M418.0 67.6L418.0 69.5M418.0 69.5L417.7 69.7M418.0 67.3L413.1 65.9M462.2 53.5L465.0 51.8M462.2 53.5L459.3 51.6M465.0 51.8L465.2 50.8M459.9 48.7L459.3 51.6M459.9 48.7L462.0 47.1M465.2 50.8L462.0 47.1M464.1 42.7L460.9 38.3M464.1 42.7L463.5 44.2M460.9 38.3L458.3 41.2M459.5 43.0L458.3 41.2M459.5 43.0L463.1 44.3M463.5 44.2L463.1 44.3M471.8 60.2L473.4 57.5M471.8 60.2L468.1 57.9M473.4 57.5L471.1 55.5M471.1 55.5L468.1 56.9M468.1 57.9L468.0 57.1M468.1 56.9L468.0 57.1M472.0 63.0L471.8 60.2M467.6 61.7L467.3 59.9M467.3 59.9L468.1 57.9M465.2 50.8L467.3 48.0M466.1 45.8L467.5 47.5M466.1 45.8L463.5 44.2M462.0 47.1L463.1 44.3M467.3 48.0L467.5 47.5M465.0 51.8L466.9 52.8M466.9 52.8L469.6 52.2M467.3 48.0L469.6 52.2M466.9 52.8L468.1 56.9M471.1 55.5L471.6 52.2M469.6 52.2L471.6 52.2M472.0 29.8L472.9 35.5M465.9 31.3L468.7 33.3M465.9 31.3L464.7 33.9M464.7 33.9L464.7 36.5M468.8 34.6L468.7 33.3M468.8 34.6L465.7 37.0M464.7 36.5L465.7 37.0M470.8 29.9L468.7 33.3M465.1 29.8L465.9 31.3M471.9 36.0L472.9 35.5M471.9 36.0L468.8 34.6M464.1 42.7L466.6 39.9M466.6 39.9L465.7 37.0M461.6 36.3L460.9 38.3M461.6 36.3L464.7 36.5M443.4 38.7L441.5 39.5M444.0 37.7L440.7 34.9M441.5 39.5L439.5 39.2M439.5 39.2L438.6 35.5M440.7 34.9L438.6 35.5M446.3 36.3L445.9 35.1M445.9 35.1L443.3 32.2M443.3 32.2L441.8 32.6M440.7 34.9L441.8 32.6M443.3 32.2L444.5 29.4M441.1 27.7L439.3 30.5M441.8 32.6L439.3 30.5M445.9 35.1L447.8 29.8M463.9 29.1L462.0 30.1M458.7 27.4L462.0 30.1M464.7 33.9L461.9 30.4M461.9 30.4L462.0 30.1M461.6 36.3L460.0 34.6M457.7 41.0L458.3 41.2M457.7 41.0L457.0 40.0M457.0 40.0L456.9 36.0M456.9 36.0L460.0 34.6M455.2 28.2L453.6 30.2M453.6 30.2L453.4 31.7M457.5 28.2L457.6 31.8M453.4 31.7L457.6 31.8M461.9 30.4L460.0 33.2M457.6 31.8L460.0 33.2M460.0 34.6L460.0 33.2M445.6 43.7L444.6 45.0M441.5 39.5L441.2 43.0M444.6 45.0L444.2 45.1M444.2 45.1L441.2 43.0M436.5 41.4L437.0 42.3M436.5 41.4L439.5 39.2M437.0 42.3L438.9 43.3M441.2 43.0L438.9 43.3M441.0 52.2L443.1 51.0M441.0 52.2L438.1 49.2M443.1 51.0L441.7 47.4M441.7 47.4L439.7 47.5M439.7 47.5L438.0 48.6M438.1 49.2L438.0 48.6M444.2 45.1L441.7 47.4M438.9 43.3L439.7 47.5M436.7 53.5L437.8 54.1M436.7 53.5L438.1 49.2M441.0 52.2L440.4 53.8M437.8 54.1L440.4 53.8M442.7 64.2L441.4 64.1M442.7 64.2L445.6 63.6M445.6 63.6L444.6 58.4M444.6 58.4L442.4 57.6M441.4 64.1L440.2 62.9M442.4 57.6L440.9 58.9M440.2 62.9L440.9 58.9M437.8 54.1L438.3 57.8M440.4 53.8L442.4 56.4M442.4 57.6L442.4 56.4M438.3 57.8L440.9 58.9M436.7 53.5L435.9 53.7M435.9 53.7L434.4 56.6M434.4 56.6L434.9 58.5M438.3 57.8L434.9 58.5M430.3 59.2L429.0 58.3M430.3 59.2L434.7 59.0M429.0 58.3L432.0 55.7M432.0 55.7L434.4 56.6M434.7 59.0L434.9 58.5M440.2 62.9L435.8 63.5M434.7 59.0L435.4 63.3M435.8 63.5L435.4 63.3M431.0 62.3L430.3 59.2M431.0 62.3L435.2 63.3M435.2 63.3L435.4 63.3M444.0 78.0L444.3 76.1M444.3 76.1L447.9 74.6M448.6 78.1L448.4 74.8M448.4 74.8L447.9 74.6M442.9 74.7L444.3 76.1M442.9 74.7L440.0 75.9M440.0 75.9L439.9 77.9M442.9 74.7L443.4 72.1M446.0 72.4L447.9 74.6M450.1 73.9L448.4 74.8M446.0 47.1L446.6 51.3M446.0 47.1L450.7 47.1M446.6 51.3L451.7 49.1M451.7 49.1L452.5 47.8M452.5 47.8L450.7 47.1M447.0 43.1L450.7 47.1M444.6 45.0L446.0 47.1M452.4 54.1L451.7 49.1M452.4 54.1L452.8 54.3M457.2 52.7L452.8 54.3M457.2 52.7L457.8 52.0M452.9 47.5L457.8 52.0M452.9 47.5L452.5 47.8M452.7 63.7L452.0 60.2M452.7 63.7L447.2 64.2M452.0 60.2L450.1 59.9M447.2 64.2L447.0 63.9M447.0 63.9L449.2 60.3M450.1 59.9L449.2 60.3M448.1 67.0L447.2 64.2M453.0 64.1L452.7 63.7M442.7 64.2L444.5 68.6M445.6 63.6L447.0 63.9M444.6 58.4L445.5 58.2M445.5 58.2L449.2 60.3M457.2 52.7L457.2 53.9M452.8 54.3L454.4 58.7M454.4 58.7L455.8 58.9M457.2 53.9L455.8 58.9M454.7 65.1L457.5 59.8M454.4 58.7L452.0 60.2M455.8 58.9L457.5 59.8M460.3 64.9L457.9 59.8M457.5 59.8L457.9 59.8M463.2 60.8L464.2 59.8M463.2 60.8L459.8 58.6M464.2 59.8L464.4 56.8M459.8 58.5L459.8 58.6M459.8 58.5L462.3 55.2M462.3 55.2L464.4 56.8M463.5 62.8L463.2 60.8M467.3 59.9L464.2 59.8M457.9 59.8L459.8 58.6M468.0 57.1L464.4 56.8M457.2 53.9L459.8 58.5M462.2 53.5L462.3 55.2M457.8 52.0L459.3 51.6M418.0 69.5L420.7 71.0M417.3 75.7L419.4 74.8M420.7 71.0L419.4 74.8M422.2 77.8L422.1 75.4M422.1 75.4L419.4 74.8M418.0 67.1L418.0 67.3M418.0 67.1L417.1 64.3M413.1 65.9L411.6 64.6M411.6 64.6L411.5 63.7M416.1 62.4L417.1 64.3M416.1 62.4L412.1 63.3M412.1 63.3L411.5 63.7M422.0 37.6L421.7 40.2M422.0 37.6L426.1 37.4M421.7 40.2L423.4 41.2M423.4 41.2L425.8 40.2M426.1 37.4L425.8 40.2M419.0 40.8L421.7 40.2M420.5 35.2L418.2 36.3M420.5 35.2L422.0 37.6M419.0 43.6L422.1 44.8M423.1 43.8L422.1 44.8M423.1 43.8L423.4 41.2M427.7 41.7L427.6 43.3M427.7 41.7L425.8 40.2M423.1 43.8L426.9 45.0M427.6 43.3L426.9 45.0M430.4 37.4L429.4 36.0M430.4 37.4L430.4 40.6M426.4 36.8L429.4 36.0M426.4 36.8L426.1 37.4M430.4 40.6L427.7 41.7M407.2 36.5L407.5 34.2M412.3 34.1L409.4 33.7M407.5 34.2L409.4 33.7M403.3 36.0L404.6 32.5M407.5 34.2L404.6 32.5M400.0 31.7L404.4 31.9M404.4 31.9L404.6 32.5M412.7 33.7L412.2 30.6M414.8 33.5L417.9 30.5M417.9 30.5L416.2 27.1M416.2 27.1L412.2 30.6M412.2 30.6L409.8 28.5M418.7 48.1L421.3 48.5M418.7 48.1L416.1 49.8M416.1 49.8L416.0 50.5M416.0 50.5L420.1 52.9M421.3 48.5L421.7 51.7M420.1 52.9L421.4 52.5M421.7 51.7L421.4 52.5M417.9 44.6L418.7 48.1M422.1 47.7L422.1 44.8M422.1 47.7L421.3 48.5M414.5 47.8L416.1 49.8M413.6 53.8L411.9 52.4M413.6 53.8L416.0 50.5M429.7 80.3L432.4 77.3M427.2 76.5L427.5 75.4M427.5 75.4L429.9 75.5M429.9 75.5L432.4 77.3M434.5 77.1L434.5 77.0M434.5 77.0L432.4 77.3M431.0 62.3L428.4 64.4M429.0 58.3L428.5 58.2M428.4 64.4L428.0 64.2M428.0 64.2L427.6 59.1M428.5 58.2L427.6 59.1M435.9 53.7L432.6 51.3M432.0 55.7L430.8 51.8M432.6 51.3L430.8 51.8M458.3 44.8L453.8 43.6M458.3 44.8L457.6 46.5M457.6 46.5L453.0 47.3M453.0 47.3L453.1 44.1M453.1 44.1L453.3 43.8M453.3 43.8L453.8 43.6M459.5 43.0L458.3 44.8M457.7 41.0L453.8 43.6M459.9 48.7L457.6 46.5M452.9 47.5L453.0 47.3M447.6 42.7L453.1 44.1M449.0 39.2L452.1 39.8M452.1 39.8L453.3 43.8M457.0 40.0L453.2 38.8M452.1 39.8L453.2 38.8M466.1 45.8L468.6 43.3M470.5 47.3L467.5 47.5M470.5 47.3L471.5 45.2M471.5 45.2L468.6 43.3M466.6 39.9L468.0 40.4M471.9 36.0L471.5 40.1M471.5 40.1L468.0 40.4M468.0 40.4L468.6 43.3M451.5 27.5L453.6 30.2M453.0 32.1L454.7 35.5M453.0 32.1L451.3 32.5M449.4 35.2L453.5 37.4M449.4 35.2L451.3 32.5M453.5 37.4L454.7 35.5M456.9 36.0L454.7 35.5M453.4 31.7L453.0 32.1M447.8 29.8L451.3 32.5M447.5 36.6L449.4 35.2M453.2 38.8L453.5 37.4M449.6 54.9L446.4 51.5M449.6 54.9L449.2 55.8M449.2 55.8L446.8 56.7M446.8 56.7L445.0 53.5M445.0 53.5L445.8 51.8M445.8 51.8L446.4 51.5M452.4 54.1L449.6 54.9M446.6 51.3L446.4 51.5M450.1 59.9L449.2 55.8M445.5 58.2L446.8 56.7M442.4 56.4L445.0 53.5M443.1 51.0L445.8 51.8M435.2 63.3L430.6 67.5M428.4 64.4L430.5 67.5M430.6 67.5L430.5 67.5M427.5 75.4L427.2 74.7M422.1 75.4L423.2 73.2M423.2 73.2L427.2 74.7M402.0 73.8L398.3 73.1M402.0 73.8L405.6 71.6M405.6 71.6L399.0 70.7M404.1 77.8L402.0 73.8M416.1 62.4L417.0 60.6M417.0 60.6L415.4 59.3M412.1 63.3L413.3 60.0M415.4 59.3L413.3 60.0M413.6 53.8L413.6 54.7M418.2 55.8L413.9 54.9M418.2 55.8L420.1 52.9M413.6 54.7L413.9 54.9M409.4 33.7L407.8 28.6M404.4 31.9L405.3 29.8M423.7 33.1L424.3 31.9M423.7 33.1L421.0 34.2M424.3 31.9L421.1 29.3M421.0 34.2L418.4 30.7M418.4 30.7L421.1 29.3M426.4 36.8L423.7 33.1M429.4 36.0L429.7 35.3M425.5 30.9L424.3 31.9M425.5 30.9L425.8 30.9M425.8 30.9L429.7 35.3M420.5 35.2L421.0 34.2M417.9 30.5L418.4 30.7M425.1 26.7L425.3 30.5M425.3 30.5L421.7 27.2M425.5 30.9L425.3 30.5M425.8 30.9L429.5 29.3M422.9 56.8L426.1 59.4M422.9 56.8L420.1 58.9M420.1 58.9L420.0 59.4M420.0 59.4L421.6 61.5M426.1 59.4L422.8 62.8M422.8 62.8L421.6 61.5M423.5 55.3L422.9 56.8M423.5 55.3L427.1 54.5M427.1 54.5L428.5 58.2M427.6 59.1L426.1 59.4M418.2 55.8L420.1 58.9M421.4 52.5L423.5 55.3M417.0 60.6L420.0 59.4M415.4 59.3L413.9 54.9M417.1 64.3L421.6 61.5M422.8 63.1L424.6 64.8M422.8 63.1L422.8 62.8M424.6 64.8L428.0 64.2M418.0 67.1L422.8 63.1M429.9 46.8L434.6 48.3M429.9 46.8L431.8 44.3M431.9 44.2L431.8 44.3M431.9 44.2L435.2 47.0M434.6 48.3L435.4 47.6M435.4 47.6L435.2 47.0M430.4 40.6L432.4 41.9M432.4 41.9L431.9 44.2M427.6 43.3L431.8 44.3M436.5 41.4L435.5 40.8M435.5 40.8L432.4 41.9M437.0 42.3L435.2 47.0M438.0 48.6L435.4 47.6M432.6 51.3L434.6 48.3M427.9 52.6L429.7 51.6M427.9 52.6L425.8 51.1M429.7 51.6L429.0 47.3M425.8 51.1L424.9 48.0M424.9 48.0L427.3 46.3M427.3 46.3L429.0 47.3M427.1 54.5L427.9 52.6M430.8 51.8L429.7 51.6M421.7 51.7L425.8 51.1M429.9 46.8L429.0 47.3M422.1 47.7L424.9 48.0M426.9 45.0L427.3 46.3M471.5 45.2L473.5 43.4M471.5 40.1L473.3 41.8M429.7 35.3L431.3 33.4M429.6 29.3L431.3 33.4M439.3 30.5L438.6 30.7M438.6 30.7L436.6 29.7M432.7 28.6L434.7 30.6M436.6 29.7L434.7 30.6M431.3 33.4L433.8 33.3M434.7 30.6L433.8 33.3M429.9 75.5L432.3 73.4M434.5 77.0L434.7 75.4M432.3 73.4L434.7 75.4M429.7 71.3L432.0 72.5M429.7 71.3L428.0 72.7M427.2 74.7L428.0 72.7M432.3 73.4L432.0 72.5M421.8 71.2L422.6 72.0M421.8 71.2L424.1 67.3M422.6 72.0L425.9 70.3M425.9 70.3L426.1 68.7M426.1 68.7L424.5 67.0M424.1 67.3L424.5 67.0M420.7 71.0L421.8 71.2M423.2 73.2L422.6 72.0M418.0 67.6L424.1 67.3M428.0 72.7L425.9 70.3M429.7 71.3L429.9 68.4M429.9 68.4L426.1 68.7M424.6 64.8L424.5 67.0M429.9 68.4L430.5 67.5M405.4 69.7L406.7 66.3M405.4 69.7L406.3 71.3M406.5 71.4L409.6 70.7M406.5 71.4L406.3 71.3M406.7 66.3L410.0 67.2M410.0 67.2L409.6 70.7M402.4 67.7L405.4 69.7M402.4 67.7L399.0 70.7M405.6 71.6L406.3 71.3M411.9 71.8L409.6 70.7M406.6 72.2L406.5 71.4M411.6 64.6L410.0 67.2M434.1 33.6L437.5 34.4M434.1 33.6L434.1 37.7M435.0 38.6L434.1 37.7M435.0 38.6L438.2 35.3M438.2 35.3L437.5 34.4M438.6 30.7L437.5 34.4M433.8 33.3L434.1 33.6M430.4 37.4L434.1 37.7M435.5 40.8L435.0 38.6M438.6 35.5L438.2 35.3M434.5 69.7L434.6 70.2M434.5 69.7L436.2 67.6M434.6 70.2L437.1 73.0M436.2 67.6L440.2 69.1M440.6 70.3L440.2 69.1M440.6 70.3L438.1 73.0M438.1 73.0L437.1 73.0M430.6 67.5L434.5 69.7M432.0 72.5L434.6 70.2M435.8 63.5L436.2 67.6M434.7 75.4L437.1 73.0M441.4 64.1L440.2 69.1M442.2 70.7L440.6 70.3M440.0 75.9L438.1 73.0M402.0 47.6L401.9 51.9M401.9 51.9L399.0 52.2M476.7 48.5L472.2 49.7M474.6 53.2L471.8 52.1M471.8 52.1L472.2 49.7M470.5 47.3L472.2 49.7M471.6 52.2L471.8 52.1M413.3 60.0L411.8 57.8M413.6 54.7L413.4 54.9M413.4 54.9L411.8 57.8M402.3 67.2L403.5 64.5M402.3 67.2L398.2 65.1M403.5 64.5L400.9 62.0M402.4 67.7L402.3 67.2M406.7 66.3L406.0 63.7M406.0 63.7L403.5 64.5M401.9 51.9L404.9 53.5M398.7 54.1L402.5 56.6M402.5 56.6L404.9 53.5M400.7 59.7L402.1 58.7M402.5 56.6L402.1 58.7M410.3 55.2L407.6 57.0M410.3 55.2L406.2 52.2M407.6 57.0L405.1 53.4M406.2 52.2L405.1 53.4M406.5 51.7L406.2 52.2M413.4 54.9L410.3 55.2M404.9 53.5L405.1 53.4M404.4 59.5L407.7 58.2M404.4 59.5L406.0 63.6M409.7 62.4L409.3 59.6M409.7 62.4L406.0 63.6M409.3 59.6L407.7 58.2M402.1 58.7L404.4 59.5M407.6 57.0L407.7 58.2M406.0 63.7L406.0 63.6M411.5 63.7L409.7 62.4M411.8 57.8L409.3 59.6" stroke="#a81010" stroke-width="0.62" fill="none"/></g>
<rect x="473.2" y="30.85" width="68.9" height="45.75" fill="#000"/>
<g clip-path="url(#ce02)"><path d="M470.5 77.5L474.1 78.1M540.7 71.7L539.1 72.5M540.7 71.7L541.4 69.1M538.5 66.8L541.4 69.1M538.5 66.8L536.2 71.3M539.1 72.5L536.2 71.3M543.7 67.9L541.4 69.1M540.7 71.7L544.2 73.7M545.4 76.5L542.1 78.4M520.7 73.9L521.1 71.1M520.7 73.9L524.9 75.0M524.9 75.0L525.6 74.4M525.9 73.4L525.6 74.4M525.9 73.4L523.2 69.9M521.1 71.1L523.2 69.9M539.1 75.1L537.2 76.6M539.1 75.1L540.9 76.3M541.5 78.1L540.9 76.3M537.2 76.6L537.6 78.9M539.1 72.5L539.1 75.1M544.2 73.7L540.9 76.3M536.2 71.3L535.8 71.3M537.2 76.6L533.3 75.1M533.3 75.1L535.8 71.3M538.5 66.8L538.5 66.7M538.5 66.7L536.5 65.8M536.5 65.8L533.0 68.4M535.8 71.3L533.0 68.4M538.5 66.7L541.0 63.3M541.0 63.3L538.2 61.7M536.5 65.8L535.5 63.3M538.2 61.7L535.5 63.3M530.6 65.8L532.4 68.2M530.6 65.8L530.9 64.9M530.9 64.9L534.1 62.8M533.0 68.4L532.4 68.2M534.1 62.8L535.5 63.3M471.8 43.8L476.3 44.2M471.2 46.6L472.6 47.6M472.6 47.6L475.2 48.0M475.2 48.0L476.9 45.5M476.3 44.2L476.9 45.5M477.7 40.3L476.3 44.2M477.7 40.3L476.0 39.9M476.0 39.9L472.1 42.2M468.8 34.9L473.1 37.0M473.1 37.0L471.2 40.1M476.0 39.9L473.2 37.0M473.2 37.0L473.1 37.0M480.1 46.3L476.9 45.5M480.1 46.3L480.1 48.1M475.2 48.0L477.1 51.3M477.1 51.3L480.1 48.1M477.7 40.3L478.8 39.9M473.9 36.0L477.8 36.5M473.9 36.0L473.2 37.0M478.8 39.9L477.8 36.5M480.1 46.3L480.9 45.6M479.8 40.0L478.8 39.9M479.8 40.0L480.6 40.9M480.6 40.9L480.9 45.6M485.1 47.8L484.6 45.9M485.1 47.8L481.9 49.5M481.9 49.5L480.1 48.1M480.9 45.6L484.6 45.9M479.8 40.0L482.8 36.1M483.9 41.5L480.6 40.9M483.9 41.5L485.6 38.3M485.6 38.3L482.8 36.1M483.9 41.5L485.1 42.5M484.6 45.9L485.6 44.6M485.1 42.5L485.6 44.6M541.0 63.3L542.6 63.0M543.8 63.6L542.6 63.0M542.6 29.8L541.4 29.9M539.9 28.7L541.4 29.9M516.9 36.3L518.1 36.6M516.9 36.3L514.6 37.7M518.2 42.7L519.6 39.2M518.2 42.7L517.6 43.1M516.2 43.7L517.6 43.1M516.2 43.7L514.0 38.7M514.0 38.7L514.6 37.7M518.1 36.6L519.6 39.2M506.3 87.0L505.1 77.1M505.1 77.1L510.5 77.9M516.6 72.4L514.0 72.1M516.6 72.4L518.3 68.5M515.1 68.6L512.8 70.7M515.1 68.6L518.3 68.3M512.8 70.7L514.0 72.1M518.3 68.3L518.3 68.5M518.7 67.0L520.7 66.9M518.7 67.0L518.3 68.3M521.1 71.1L518.3 68.5M523.2 69.9L523.7 68.7M523.7 68.7L520.7 66.9M527.8 71.5L526.2 67.0M527.8 71.5L525.9 73.4M523.7 68.7L526.2 67.0M527.8 71.5L530.0 71.5M530.6 65.8L526.3 66.8M530.0 71.5L532.4 68.2M526.2 67.0L526.3 66.8M520.7 66.9L523.6 64.1M526.3 66.8L525.3 65.1M525.3 65.1L523.6 64.1M533.5 79.8L533.0 75.2M530.0 76.3L529.3 78.2M530.0 76.3L532.3 75.1M532.3 75.1L533.0 75.2M533.3 75.1L533.0 75.2M524.7 78.2L524.9 75.0M525.6 74.4L530.0 76.3M530.0 71.5L532.3 75.1M479.9 77.6L483.6 77.1M485.3 81.0L483.6 77.1M488.7 78.3L487.9 75.7M484.7 75.2L483.6 77.1M484.7 75.2L487.4 75.3M487.4 75.3L487.9 75.7M479.9 77.6L479.9 77.1M484.7 75.2L482.5 71.8M479.9 77.1L482.5 71.8M475.1 77.9L477.2 72.2M479.9 77.1L477.2 72.2M484.0 70.7L488.3 69.7M484.0 70.7L482.5 71.8M488.3 69.7L487.4 75.3M482.5 71.8L482.5 71.8M477.1 51.3L477.1 51.7M481.9 49.5L482.5 52.4M477.1 51.7L482.5 52.4M485.6 38.3L488.0 38.4M485.1 42.5L488.6 40.0M488.0 38.4L488.6 40.0M485.6 44.6L488.5 44.6M488.6 40.0L489.6 40.8M489.6 40.8L489.6 43.6M488.5 44.6L489.6 43.6M494.5 79.0L497.8 76.5M500.3 80.3L497.8 76.5M484.0 70.7L483.7 65.9M488.6 67.6L488.6 67.3M488.6 67.6L488.6 69.5M488.6 69.5L488.3 69.7M488.6 67.3L483.7 65.9M532.8 53.5L535.6 51.8M532.8 53.5L529.9 51.6M535.6 51.8L535.8 50.8M530.5 48.7L529.9 51.6M530.5 48.7L532.6 47.1M535.8 50.8L532.6 47.1M534.7 42.7L531.5 38.3M534.7 42.7L534.1 44.2M531.5 38.3L528.9 41.2M530.1 43.0L528.9 41.2M530.1 43.0L533.7 44.3M534.1 44.2L533.7 44.3M542.4 60.2L544.0 57.5M542.4 60.2L538.7 57.9M544.0 57.5L541.7 55.5M541.7 55.5L538.7 56.9M538.7 57.9L538.6 57.1M538.7 56.9L538.6 57.1M542.6 63.0L542.4 60.2M538.2 61.7L537.9 59.9M537.9 59.9L538.7 57.9M535.8 50.8L537.9 48.0M536.7 45.8L538.1 47.5M536.7 45.8L534.1 44.2M532.6 47.1L533.7 44.3M537.9 48.0L538.1 47.5M535.6 51.8L537.5 52.8M537.5 52.8L540.2 52.2M537.9 48.0L540.2 52.2M537.5 52.8L538.7 56.9M541.7 55.5L542.2 52.2M540.2 52.2L542.2 52.2M542.6 29.8L543.5 35.5M536.5 31.3L539.3 33.3M536.5 31.3L535.3 33.9M535.3 33.9L535.3 36.5M539.4 34.6L539.3 33.3M539.4 34.6L536.3 37.0M535.3 36.5L536.3 37.0M541.4 29.9L539.3 33.3M535.7 29.8L536.5 31.3M542.5 36.0L543.5 35.5M542.5 36.0L539.4 34.6M534.7 42.7L537.2 39.9M537.2 39.9L536.3 37.0M532.2 36.3L531.5 38.3M532.2 36.3L535.3 36.5M514.0 38.7L512.1 39.5M514.6 37.7L511.3 34.9M512.1 39.5L510.1 39.2M510.1 39.2L509.2 35.5M511.3 34.9L509.2 35.5M516.9 36.3L516.5 35.1M516.5 35.1L513.9 32.2M513.9 32.2L512.4 32.6M511.3 34.9L512.4 32.6M513.9 32.2L515.1 29.4M511.7 27.7L509.9 30.5M512.4 32.6L509.9 30.5M516.5 35.1L518.4 29.8M534.5 29.1L532.6 30.1M529.3 27.4L532.6 30.1M535.3 33.9L532.5 30.4M532.5 30.4L532.6 30.1M532.2 36.3L530.6 34.6M528.3 41.0L528.9 41.2M528.3 41.0L527.6 40.0M527.6 40.0L527.5 36.0M527.5 36.0L530.6 34.6M525.8 28.2L524.2 30.2M524.2 30.2L524.0 31.7M528.1 28.2L528.2 31.8M524.0 31.7L528.2 31.8M532.5 30.4L530.6 33.2M528.2 31.8L530.6 33.2M530.6 34.6L530.6 33.2M516.2 43.7L515.2 45.0M512.1 39.5L511.8 43.0M515.2 45.0L514.8 45.1M514.8 45.1L511.8 43.0M507.1 41.4L507.6 42.3M507.1 41.4L510.1 39.2M507.6 42.3L509.5 43.3M511.8 43.0L509.5 43.3M511.6 52.2L513.7 51.0M511.6 52.2L508.7 49.2M513.7 51.0L512.3 47.4M512.3 47.4L510.3 47.5M510.3 47.5L508.6 48.6M508.7 49.2L508.6 48.6M514.8 45.1L512.3 47.4M509.5 43.3L510.3 47.5M507.3 53.5L508.4 54.1M507.3 53.5L508.7 49.2M511.6 52.2L511.0 53.8M508.4 54.1L511.0 53.8M513.3 64.2L512.0 64.1M513.3 64.2L516.2 63.6M516.2 63.6L515.2 58.4M515.2 58.4L513.0 57.6M512.0 64.1L510.8 62.9M513.0 57.6L511.5 58.9M510.8 62.9L511.5 58.9M508.4 54.1L508.9 57.8M511.0 53.8L513.0 56.4M513.0 57.6L513.0 56.4M508.9 57.8L511.5 58.9M507.3 53.5L506.5 53.7M506.5 53.7L505.0 56.6M505.0 56.6L505.5 58.5M508.9 57.8L505.5 58.5M500.9 59.2L499.6 58.3M500.9 59.2L505.3 59.0M499.6 58.3L502.6 55.7M502.6 55.7L505.0 56.6M505.3 59.0L505.5 58.5M510.8 62.9L506.4 63.5M505.3 59.0L506.0 63.3M506.4 63.5L506.0 63.3M501.6 62.3L500.9 59.2M501.6 62.3L505.8 63.3M505.8 63.3L506.0 63.3M514.6 78.0L514.9 76.1M514.9 76.1L518.5 74.6M519.2 78.1L519.0 74.8M519.0 74.8L518.5 74.6M513.5 74.7L514.9 76.1M513.5 74.7L510.6 75.9M510.6 75.9L510.5 77.9M513.5 74.7L514.0 72.1M516.6 72.4L518.5 74.6M520.7 73.9L519.0 74.8M516.6 47.1L517.2 51.3M516.6 47.1L521.3 47.1M517.2 51.3L522.3 49.1M522.3 49.1L523.1 47.8M523.1 47.8L521.3 47.1M517.6 43.1L521.3 47.1M515.2 45.0L516.6 47.1M523.0 54.1L522.3 49.1M523.0 54.1L523.4 54.3M527.8 52.7L523.4 54.3M527.8 52.7L528.4 52.0M523.5 47.5L528.4 52.0M523.5 47.5L523.1 47.8M523.3 63.7L522.6 60.2M523.3 63.7L517.8 64.2M522.6 60.2L520.7 59.9M517.8 64.2L517.6 63.9M517.6 63.9L519.8 60.3M520.7 59.9L519.8 60.3M518.7 67.0L517.8 64.2M523.6 64.1L523.3 63.7M513.3 64.2L515.1 68.6M516.2 63.6L517.6 63.9M515.2 58.4L516.1 58.2M516.1 58.2L519.8 60.3M527.8 52.7L527.8 53.9M523.4 54.3L525.0 58.7M525.0 58.7L526.4 58.9M527.8 53.9L526.4 58.9M525.3 65.1L528.1 59.8M525.0 58.7L522.6 60.2M526.4 58.9L528.1 59.8M530.9 64.9L528.5 59.8M528.1 59.8L528.5 59.8M533.8 60.8L534.8 59.8M533.8 60.8L530.4 58.6M534.8 59.8L535.0 56.8M530.4 58.5L530.4 58.6M530.4 58.5L532.9 55.2M532.9 55.2L535.0 56.8M534.1 62.8L533.8 60.8M537.9 59.9L534.8 59.8M528.5 59.8L530.4 58.6M538.6 57.1L535.0 56.8M527.8 53.9L530.4 58.5M532.8 53.5L532.9 55.2M528.4 52.0L529.9 51.6M488.6 69.5L491.3 71.0M487.9 75.7L490.0 74.8M491.3 71.0L490.0 74.8M492.8 77.8L492.7 75.4M492.7 75.4L490.0 74.8M488.6 67.1L488.6 67.3M488.6 67.1L487.7 64.3M483.7 65.9L482.2 64.6M482.2 64.6L482.1 63.7M486.7 62.4L487.7 64.3M486.7 62.4L482.7 63.3M482.7 63.3L482.1 63.7M492.6 37.6L492.3 40.2M492.6 37.6L496.7 37.4M492.3 40.2L494.0 41.2M494.0 41.2L496.4 40.2M496.7 37.4L496.4 40.2M488.0 38.4L488.8 36.3M489.6 40.8L492.3 40.2M491.1 35.2L488.8 36.3M491.1 35.2L492.6 37.6M489.6 43.6L492.7 44.8M493.7 43.8L492.7 44.8M493.7 43.8L494.0 41.2M498.3 41.7L498.2 43.3M498.3 41.7L496.4 40.2M493.7 43.8L497.5 45.0M498.2 43.3L497.5 45.0M501.0 37.4L500.0 36.0M501.0 37.4L501.0 40.6M497.0 36.8L500.0 36.0M497.0 36.8L496.7 37.4M501.0 40.6L498.3 41.7M473.9 36.0L475.2 32.5M477.8 36.5L478.1 34.2M478.1 34.2L475.2 32.5M470.6 31.7L475.0 31.9M475.9 29.8L475.0 31.9M475.0 31.9L475.2 32.5M489.3 48.1L491.9 48.5M489.3 48.1L486.7 49.8M486.7 49.8L486.6 50.5M486.6 50.5L490.7 52.9M491.9 48.5L492.3 51.7M490.7 52.9L492.0 52.5M492.3 51.7L492.0 52.5M488.5 44.6L489.3 48.1M492.7 47.7L492.7 44.8M492.7 47.7L491.9 48.5M485.1 47.8L486.7 49.8M484.2 53.8L482.5 52.4M484.2 53.8L486.6 50.5M500.3 80.3L503.0 77.3M497.8 76.5L498.1 75.4M498.1 75.4L500.5 75.5M500.5 75.5L503.0 77.3M505.1 77.1L505.1 77.0M505.1 77.0L503.0 77.3M501.6 62.3L499.0 64.4M499.6 58.3L499.1 58.2M499.0 64.4L498.6 64.2M498.6 64.2L498.2 59.1M499.1 58.2L498.2 59.1M506.5 53.7L503.2 51.3M502.6 55.7L501.4 51.8M503.2 51.3L501.4 51.8M528.9 44.8L524.4 43.6M528.9 44.8L528.2 46.5M528.2 46.5L523.6 47.3M523.6 47.3L523.7 44.1M523.7 44.1L523.9 43.8M523.9 43.8L524.4 43.6M530.1 43.0L528.9 44.8M528.3 41.0L524.4 43.6M530.5 48.7L528.2 46.5M523.5 47.5L523.6 47.3M518.2 42.7L523.7 44.1M519.6 39.2L522.7 39.8M522.7 39.8L523.9 43.8M527.6 40.0L523.8 38.8M522.7 39.8L523.8 38.8M536.7 45.8L539.2 43.3M541.1 47.3L538.1 47.5M541.1 47.3L542.1 45.2M542.1 45.2L539.2 43.3M537.2 39.9L538.6 40.4M542.5 36.0L542.1 40.1M542.1 40.1L538.6 40.4M538.6 40.4L539.2 43.3M522.1 27.5L524.2 30.2M523.6 32.1L525.3 35.5M523.6 32.1L521.9 32.5M520.0 35.2L524.1 37.4M520.0 35.2L521.9 32.5M524.1 37.4L525.3 35.5M527.5 36.0L525.3 35.5M524.0 31.7L523.6 32.1M518.4 29.8L521.9 32.5M518.1 36.6L520.0 35.2M523.8 38.8L524.1 37.4M520.2 54.9L517.0 51.5M520.2 54.9L519.8 55.8M519.8 55.8L517.4 56.7M517.4 56.7L515.6 53.5M515.6 53.5L516.4 51.8M516.4 51.8L517.0 51.5M523.0 54.1L520.2 54.9M517.2 51.3L517.0 51.5M520.7 59.9L519.8 55.8M516.1 58.2L517.4 56.7M513.0 56.4L515.6 53.5M513.7 51.0L516.4 51.8M505.8 63.3L501.2 67.5M499.0 64.4L501.1 67.5M501.2 67.5L501.1 67.5M498.1 75.4L497.8 74.7M492.7 75.4L493.8 73.2M493.8 73.2L497.8 74.7M472.6 73.8L468.9 73.1M472.6 73.8L476.2 71.6M476.2 71.6L469.6 70.7M474.7 77.8L472.6 73.8M486.7 62.4L487.6 60.6M487.6 60.6L486.0 59.3M482.7 63.3L483.9 60.0M486.0 59.3L483.9 60.0M484.2 53.8L484.2 54.7M488.8 55.8L484.5 54.9M488.8 55.8L490.7 52.9M484.2 54.7L484.5 54.9M494.3 33.1L494.9 31.9M494.3 33.1L491.6 34.2M494.9 31.9L491.7 29.3M491.6 34.2L489.0 30.7M489.0 30.7L491.7 29.3M497.0 36.8L494.3 33.1M500.0 36.0L500.3 35.3M496.1 30.9L494.9 31.9M496.1 30.9L496.4 30.9M496.4 30.9L500.3 35.3M491.1 35.2L491.6 34.2M488.8 36.3L485.4 33.5M485.4 33.5L488.5 30.5M488.5 30.5L489.0 30.7M495.7 26.7L495.9 30.5M495.9 30.5L492.3 27.2M496.1 30.9L495.9 30.5M496.4 30.9L500.1 29.3M486.8 27.1L488.5 30.5M493.5 56.8L496.7 59.4M493.5 56.8L490.7 58.9M490.7 58.9L490.6 59.4M490.6 59.4L492.2 61.5M496.7 59.4L493.4 62.8M493.4 62.8L492.2 61.5M494.1 55.3L493.5 56.8M494.1 55.3L497.7 54.5M497.7 54.5L499.1 58.2M498.2 59.1L496.7 59.4M488.8 55.8L490.7 58.9M492.0 52.5L494.1 55.3M487.6 60.6L490.6 59.4M486.0 59.3L484.5 54.9M487.7 64.3L492.2 61.5M493.4 63.1L495.2 64.8M493.4 63.1L493.4 62.8M495.2 64.8L498.6 64.2M488.6 67.1L493.4 63.1M500.5 46.8L505.2 48.3M500.5 46.8L502.4 44.3M502.5 44.2L502.4 44.3M502.5 44.2L505.8 47.0M505.2 48.3L506.0 47.6M506.0 47.6L505.8 47.0M501.0 40.6L503.0 41.9M503.0 41.9L502.5 44.2M498.2 43.3L502.4 44.3M507.1 41.4L506.1 40.8M506.1 40.8L503.0 41.9M507.6 42.3L505.8 47.0M508.6 48.6L506.0 47.6M503.2 51.3L505.2 48.3M498.5 52.6L500.3 51.6M498.5 52.6L496.4 51.1M500.3 51.6L499.6 47.3M496.4 51.1L495.5 48.0M495.5 48.0L497.9 46.3M497.9 46.3L499.6 47.3M497.7 54.5L498.5 52.6M501.4 51.8L500.3 51.6M492.3 51.7L496.4 51.1M500.5 46.8L499.6 47.3M492.7 47.7L495.5 48.0M497.5 45.0L497.9 46.3M542.1 45.2L544.1 43.4M542.1 40.1L543.9 41.8M500.3 35.3L501.9 33.4M500.2 29.3L501.9 33.4M509.9 30.5L509.2 30.7M509.2 30.7L507.2 29.7M503.3 28.6L505.3 30.6M507.2 29.7L505.3 30.6M501.9 33.4L504.4 33.3M505.3 30.6L504.4 33.3M500.5 75.5L502.9 73.4M505.1 77.0L505.3 75.4M502.9 73.4L505.3 75.4M500.3 71.3L502.6 72.5M500.3 71.3L498.6 72.7M497.8 74.7L498.6 72.7M502.9 73.4L502.6 72.5M492.4 71.2L493.2 72.0M492.4 71.2L494.7 67.3M493.2 72.0L496.5 70.3M496.5 70.3L496.7 68.7M496.7 68.7L495.1 67.0M494.7 67.3L495.1 67.0M491.3 71.0L492.4 71.2M493.8 73.2L493.2 72.0M488.6 67.6L494.7 67.3M498.6 72.7L496.5 70.3M500.3 71.3L500.5 68.4M500.5 68.4L496.7 68.7M495.2 64.8L495.1 67.0M500.5 68.4L501.1 67.5M476.0 69.7L477.3 66.3M476.0 69.7L476.9 71.3M477.1 71.4L480.2 70.7M477.1 71.4L476.9 71.3M477.3 66.3L480.6 67.2M480.6 67.2L480.2 70.7M473.0 67.7L476.0 69.7M473.0 67.7L469.6 70.7M476.2 71.6L476.9 71.3M482.5 71.8L480.2 70.7M477.2 72.2L477.1 71.4M482.2 64.6L480.6 67.2M480.4 28.5L482.8 30.6M482.8 30.6L483.3 33.7M478.4 28.6L480.0 33.7M480.0 33.7L482.9 34.1M483.3 33.7L482.9 34.1M486.8 27.1L482.8 30.6M485.4 33.5L483.3 33.7M478.1 34.2L480.0 33.7M482.8 36.1L482.9 34.1M504.7 33.6L508.1 34.4M504.7 33.6L504.7 37.7M505.6 38.6L504.7 37.7M505.6 38.6L508.8 35.3M508.8 35.3L508.1 34.4M509.2 30.7L508.1 34.4M504.4 33.3L504.7 33.6M501.0 37.4L504.7 37.7M506.1 40.8L505.6 38.6M509.2 35.5L508.8 35.3M505.1 69.7L505.2 70.2M505.1 69.7L506.8 67.6M505.2 70.2L507.7 73.0M506.8 67.6L510.8 69.1M511.2 70.3L510.8 69.1M511.2 70.3L508.7 73.0M508.7 73.0L507.7 73.0M501.2 67.5L505.1 69.7M502.6 72.5L505.2 70.2M506.4 63.5L506.8 67.6M505.3 75.4L507.7 73.0M512.0 64.1L510.8 69.1M512.8 70.7L511.2 70.3M510.6 75.9L508.7 73.0M472.6 47.6L472.5 51.9M472.5 51.9L469.6 52.2M547.3 48.5L542.8 49.7M545.2 53.2L542.4 52.1M542.4 52.1L542.8 49.7M541.1 47.3L542.8 49.7M542.2 52.2L542.4 52.1M483.9 60.0L482.4 57.8M484.2 54.7L484.0 54.9M484.0 54.9L482.4 57.8M472.9 67.2L474.1 64.5M472.9 67.2L468.8 65.1M474.1 64.5L471.5 62.0M473.0 67.7L472.9 67.2M477.3 66.3L476.6 63.7M476.6 63.7L474.1 64.5M472.5 51.9L475.5 53.5M469.3 54.1L473.1 56.6M473.1 56.6L475.5 53.5M471.3 59.7L472.7 58.7M473.1 56.6L472.7 58.7M480.9 55.2L478.2 57.0M480.9 55.2L476.8 52.2M478.2 57.0L475.7 53.4M476.8 52.2L475.7 53.4M477.1 51.7L476.8 52.2M484.0 54.9L480.9 55.2M475.5 53.5L475.7 53.4M475.0 59.5L478.3 58.2M475.0 59.5L476.6 63.6M480.3 62.4L479.9 59.6M480.3 62.4L476.6 63.6M479.9 59.6L478.3 58.2M472.7 58.7L475.0 59.5M478.2 57.0L478.3 58.2M476.6 63.7L476.6 63.6M482.1 63.7L480.3 62.4M482.4 57.8L479.9 59.6" stroke="#561010" stroke-width="0.65" fill="none"/><circle cx="517.8" cy="61.2" r="0.4" fill="#6a8a18"/><circle cx="485.5" cy="57.1" r="0.4" fill="#8a7018"/><circle cx="511.2" cy="55.0" r="0.4" fill="#6a8a18"/><circle cx="477.4" cy="47.8" r="0.4" fill="#6a8a18"/><circle cx="497.8" cy="41.9" r="0.4" fill="#6a8a18"/><circle cx="535.8" cy="54.9" r="0.4" fill="#8a7018"/><circle cx="481.0" cy="37.3" r="0.4" fill="#9a4010"/><circle cx="507.8" cy="66.8" r="0.4" fill="#6a8a18"/><circle cx="476.0" cy="43.3" r="0.4" fill="#8a7018"/><circle cx="536.6" cy="56.5" r="0.4" fill="#9a4010"/><circle cx="491.6" cy="64.5" r="0.4" fill="#6a8a18"/><circle cx="518.0" cy="39.1" r="0.4" fill="#8a7018"/><circle cx="504.6" cy="61.8" r="0.4" fill="#6a8a18"/><circle cx="525.8" cy="64.8" r="0.4" fill="#9a4010"/><circle cx="523.5" cy="51.1" r="0.4" fill="#8a7018"/><circle cx="531.6" cy="58.4" r="0.4" fill="#8a7018"/><circle cx="517.3" cy="41.9" r="0.4" fill="#8a7018"/><circle cx="529.8" cy="53.0" r="0.4" fill="#9a4010"/><circle cx="479.1" cy="76.3" r="0.4" fill="#6a8a18"/><circle cx="508.9" cy="66.6" r="0.4" fill="#8a7018"/><circle cx="477.4" cy="53.0" r="0.4" fill="#8a7018"/><circle cx="537.9" cy="61.8" r="0.4" fill="#9a4010"/><circle cx="528.8" cy="49.1" r="0.4" fill="#6a8a18"/><circle cx="541.0" cy="51.1" r="0.4" fill="#6a8a18"/><circle cx="494.0" cy="55.5" r="0.4" fill="#8a7018"/><circle cx="527.6" cy="69.4" r="0.4" fill="#6a8a18"/><circle cx="481.7" cy="44.2" r="0.4" fill="#8a7018"/><circle cx="485.7" cy="56.5" r="0.4" fill="#6a8a18"/><circle cx="519.2" cy="45.9" r="0.4" fill="#9a4010"/><circle cx="490.6" cy="47.4" r="0.4" fill="#8a7018"/><circle cx="503.0" cy="67.3" r="0.4" fill="#8a7018"/><circle cx="478.9" cy="49.6" r="0.4" fill="#8a7018"/><circle cx="504.2" cy="71.6" r="0.4" fill="#6a8a18"/><circle cx="498.5" cy="70.1" r="0.4" fill="#8a7018"/><circle cx="512.1" cy="42.9" r="0.4" fill="#6a8a18"/><circle cx="526.7" cy="35.2" r="0.4" fill="#9a4010"/><circle cx="539.5" cy="75.3" r="0.4" fill="#9a4010"/><circle cx="525.7" cy="57.5" r="0.4" fill="#6a8a18"/><circle cx="479.8" cy="73.5" r="0.4" fill="#8a7018"/><circle cx="525.4" cy="49.4" r="0.4" fill="#9a4010"/><circle cx="490.0" cy="73.3" r="0.4" fill="#9a4010"/><circle cx="486.0" cy="59.3" r="0.4" fill="#9a4010"/><circle cx="504.4" cy="44.1" r="0.4" fill="#9a4010"/><circle cx="542.0" cy="53.6" r="0.4" fill="#8a7018"/><circle cx="513.3" cy="71.0" r="0.4" fill="#6a8a18"/></g>
<rect x="332" y="78.6" width="68.9" height="45.6" fill="#000"/>
<rect x="332" y="78.6" width="68.9" height="45.6" fill="#030a04"/>
<g clip-path="url(#ce10)"><circle cx="397.0" cy="95.0" r="0.5" fill="#0c3410"/><circle cx="372.7" cy="92.0" r="0.5" fill="#0a2a0c"/><circle cx="395.6" cy="118.2" r="0.5" fill="#0c3410"/><circle cx="399.1" cy="88.8" r="0.5" fill="#104a18"/><circle cx="387.5" cy="109.6" r="0.5" fill="#0c3410"/><circle cx="334.1" cy="119.4" r="0.5" fill="#104a18"/><circle cx="371.5" cy="96.4" r="0.5" fill="#104a18"/><circle cx="376.9" cy="94.4" r="0.5" fill="#104a18"/><circle cx="367.0" cy="95.5" r="0.5" fill="#104a18"/><circle cx="349.3" cy="116.9" r="0.5" fill="#0c3410"/><circle cx="388.4" cy="109.0" r="0.5" fill="#0a2a0c"/><circle cx="398.8" cy="116.9" r="0.5" fill="#104a18"/><circle cx="348.9" cy="104.5" r="0.5" fill="#104a18"/><circle cx="386.1" cy="95.4" r="0.5" fill="#0a2a0c"/><circle cx="364.4" cy="102.2" r="0.5" fill="#0a2a0c"/><circle cx="381.2" cy="96.8" r="0.5" fill="#0a2a0c"/><circle cx="363.8" cy="82.8" r="0.5" fill="#0c3410"/><circle cx="347.8" cy="82.8" r="0.5" fill="#104a18"/><circle cx="338.3" cy="88.4" r="0.5" fill="#0c3410"/><circle cx="344.3" cy="104.5" r="0.5" fill="#0a2a0c"/><circle cx="373.5" cy="122.7" r="0.5" fill="#0a2a0c"/><circle cx="385.4" cy="80.2" r="0.5" fill="#104a18"/><circle cx="376.4" cy="123.3" r="0.5" fill="#104a18"/><circle cx="394.5" cy="85.7" r="0.5" fill="#0c3410"/><circle cx="378.5" cy="79.8" r="0.5" fill="#0c3410"/><circle cx="341.3" cy="119.7" r="0.5" fill="#0c3410"/><circle cx="385.9" cy="108.8" r="0.5" fill="#0a2a0c"/><circle cx="352.2" cy="102.7" r="0.5" fill="#104a18"/><circle cx="365.2" cy="122.0" r="0.5" fill="#0a2a0c"/><circle cx="383.5" cy="95.0" r="0.5" fill="#104a18"/><circle cx="395.8" cy="117.5" r="0.5" fill="#0a2a0c"/><circle cx="347.6" cy="118.3" r="0.5" fill="#0a2a0c"/><circle cx="364.9" cy="101.8" r="0.5" fill="#0a2a0c"/><circle cx="338.3" cy="118.8" r="0.5" fill="#104a18"/><circle cx="373.6" cy="83.4" r="0.5" fill="#104a18"/><circle cx="339.8" cy="96.0" r="0.5" fill="#0a2a0c"/><circle cx="378.1" cy="99.8" r="0.5" fill="#0a2a0c"/><circle cx="374.9" cy="95.3" r="0.5" fill="#0c3410"/><circle cx="358.3" cy="86.0" r="0.5" fill="#0a2a0c"/><circle cx="400.4" cy="106.2" r="0.5" fill="#0c3410"/><circle cx="372.5" cy="114.2" r="0.5" fill="#0c3410"/><circle cx="342.6" cy="106.3" r="0.5" fill="#104a18"/><circle cx="359.9" cy="97.0" r="0.5" fill="#0c3410"/><circle cx="361.0" cy="81.0" r="0.5" fill="#0c3410"/><circle cx="394.1" cy="95.7" r="0.5" fill="#0c3410"/><circle cx="372.5" cy="98.7" r="0.5" fill="#0a2a0c"/><circle cx="355.3" cy="80.1" r="0.5" fill="#0c3410"/><circle cx="338.9" cy="89.3" r="0.5" fill="#104a18"/><circle cx="398.1" cy="95.7" r="0.5" fill="#0a2a0c"/><circle cx="379.5" cy="90.9" r="0.5" fill="#104a18"/><circle cx="357.4" cy="92.6" r="0.5" fill="#0c3410"/><circle cx="337.3" cy="96.0" r="0.5" fill="#0a2a0c"/><circle cx="400.7" cy="107.8" r="0.5" fill="#0c3410"/><circle cx="351.9" cy="79.6" r="0.5" fill="#104a18"/><circle cx="394.7" cy="120.6" r="0.5" fill="#0c3410"/><circle cx="365.0" cy="105.7" r="0.5" fill="#0a2a0c"/><circle cx="351.9" cy="116.4" r="0.5" fill="#0c3410"/><circle cx="352.4" cy="92.1" r="0.5" fill="#104a18"/><circle cx="356.5" cy="109.2" r="0.5" fill="#0a2a0c"/><circle cx="339.1" cy="121.0" r="0.5" fill="#0a2a0c"/><circle cx="383.9" cy="115.3" r="0.5" fill="#104a18"/><circle cx="341.8" cy="112.1" r="0.5" fill="#0c3410"/><circle cx="396.7" cy="94.4" r="0.5" fill="#0a2a0c"/><circle cx="354.5" cy="116.8" r="0.5" fill="#0c3410"/><circle cx="388.8" cy="89.3" r="0.5" fill="#104a18"/><circle cx="366.1" cy="93.2" r="0.5" fill="#0c3410"/><circle cx="390.6" cy="99.8" r="0.5" fill="#0c3410"/><circle cx="361.7" cy="88.8" r="0.5" fill="#0c3410"/><circle cx="380.5" cy="122.9" r="0.5" fill="#0c3410"/><circle cx="348.4" cy="115.6" r="0.5" fill="#104a18"/><circle cx="357.1" cy="82.6" r="0.5" fill="#0c3410"/><circle cx="357.6" cy="116.7" r="0.5" fill="#0c3410"/><circle cx="347.6" cy="114.3" r="0.5" fill="#104a18"/><circle cx="389.9" cy="111.2" r="0.5" fill="#0c3410"/><circle cx="338.1" cy="80.5" r="0.5" fill="#0c3410"/><circle cx="344.3" cy="108.1" r="0.5" fill="#0c3410"/><circle cx="364.5" cy="104.7" r="0.5" fill="#0a2a0c"/><circle cx="399.4" cy="83.3" r="0.5" fill="#0c3410"/><circle cx="377.7" cy="102.8" r="0.5" fill="#104a18"/><circle cx="397.8" cy="100.5" r="0.5" fill="#0a2a0c"/><circle cx="362.9" cy="94.9" r="0.5" fill="#0c3410"/><circle cx="379.0" cy="119.0" r="0.5" fill="#0c3410"/><circle cx="364.8" cy="120.4" r="0.5" fill="#0a2a0c"/><circle cx="350.4" cy="122.2" r="0.5" fill="#0c3410"/><circle cx="395.3" cy="102.0" r="0.5" fill="#0a2a0c"/><circle cx="356.3" cy="79.9" r="0.5" fill="#104a18"/><circle cx="357.8" cy="123.5" r="0.5" fill="#104a18"/><circle cx="387.6" cy="85.9" r="0.5" fill="#104a18"/><circle cx="382.6" cy="105.5" r="0.5" fill="#104a18"/><circle cx="353.5" cy="99.9" r="0.5" fill="#0a2a0c"/><circle cx="350.7" cy="112.2" r="0.5" fill="#0a2a0c"/><circle cx="382.4" cy="116.6" r="0.5" fill="#0c3410"/><circle cx="349.1" cy="95.0" r="0.5" fill="#0c3410"/><circle cx="392.4" cy="85.7" r="0.5" fill="#104a18"/><circle cx="395.0" cy="82.8" r="0.5" fill="#0c3410"/><circle cx="387.9" cy="81.6" r="0.5" fill="#0c3410"/><circle cx="371.1" cy="102.2" r="0.5" fill="#0c3410"/><circle cx="378.5" cy="123.4" r="0.5" fill="#0a2a0c"/><circle cx="379.0" cy="93.8" r="0.5" fill="#104a18"/><circle cx="337.4" cy="109.7" r="0.5" fill="#0a2a0c"/><circle cx="339.5" cy="86.8" r="0.5" fill="#0a2a0c"/><circle cx="366.4" cy="81.0" r="0.5" fill="#104a18"/><circle cx="360.0" cy="103.1" r="0.5" fill="#0a2a0c"/><circle cx="360.0" cy="114.1" r="0.5" fill="#0c3410"/><circle cx="345.1" cy="92.7" r="0.5" fill="#0a2a0c"/><circle cx="349.2" cy="80.3" r="0.5" fill="#0c3410"/><circle cx="397.9" cy="101.8" r="0.5" fill="#0c3410"/><circle cx="392.7" cy="79.6" r="0.5" fill="#0c3410"/><circle cx="339.3" cy="79.5" r="0.5" fill="#0a2a0c"/><circle cx="332.2" cy="106.3" r="0.5" fill="#0c3410"/><circle cx="381.4" cy="94.7" r="0.5" fill="#104a18"/><circle cx="384.1" cy="123.6" r="0.5" fill="#0a2a0c"/><circle cx="384.9" cy="102.4" r="0.5" fill="#0a2a0c"/><circle cx="340.2" cy="93.5" r="0.5" fill="#0c3410"/><circle cx="341.4" cy="107.7" r="0.5" fill="#0a2a0c"/><circle cx="369.4" cy="95.2" r="0.5" fill="#0c3410"/><circle cx="358.5" cy="82.2" r="0.5" fill="#0c3410"/><circle cx="384.6" cy="93.1" r="0.5" fill="#0a2a0c"/><circle cx="357.9" cy="110.2" r="0.5" fill="#0c3410"/><circle cx="374.3" cy="94.2" r="0.5" fill="#0c3410"/><circle cx="380.3" cy="107.6" r="0.5" fill="#104a18"/><circle cx="351.3" cy="96.5" r="0.5" fill="#0c3410"/><circle cx="352.4" cy="113.2" r="0.5" fill="#104a18"/><circle cx="366.1" cy="89.4" r="0.5" fill="#0a2a0c"/><circle cx="365.9" cy="113.1" r="0.5" fill="#104a18"/><circle cx="333.1" cy="82.6" r="0.5" fill="#104a18"/><circle cx="358.5" cy="117.0" r="0.5" fill="#104a18"/><circle cx="375.0" cy="104.3" r="0.5" fill="#104a18"/><circle cx="337.6" cy="100.4" r="0.5" fill="#0c3410"/><circle cx="363.6" cy="120.1" r="0.5" fill="#104a18"/><circle cx="352.6" cy="123.2" r="0.5" fill="#0c3410"/><circle cx="364.9" cy="111.1" r="0.5" fill="#104a18"/><circle cx="364.9" cy="81.3" r="0.5" fill="#0a2a0c"/><circle cx="338.0" cy="121.0" r="0.5" fill="#104a18"/><circle cx="353.5" cy="121.2" r="0.5" fill="#0c3410"/><circle cx="385.8" cy="101.7" r="0.5" fill="#104a18"/><circle cx="346.5" cy="124.1" r="0.5" fill="#104a18"/><circle cx="363.0" cy="121.5" r="0.5" fill="#104a18"/><circle cx="370.3" cy="97.1" r="0.5" fill="#0c3410"/><circle cx="355.0" cy="115.6" r="0.5" fill="#0c3410"/><circle cx="343.1" cy="99.7" r="0.5" fill="#104a18"/><circle cx="362.6" cy="96.8" r="0.5" fill="#104a18"/><circle cx="334.6" cy="115.8" r="0.5" fill="#0c3410"/><circle cx="361.8" cy="82.4" r="0.5" fill="#0c3410"/><circle cx="353.6" cy="114.2" r="0.5" fill="#104a18"/><circle cx="334.8" cy="92.3" r="0.5" fill="#0a2a0c"/><circle cx="379.4" cy="95.6" r="0.5" fill="#104a18"/><circle cx="341.8" cy="84.9" r="0.5" fill="#0a2a0c"/><circle cx="382.2" cy="110.3" r="0.5" fill="#0a2a0c"/><circle cx="337.1" cy="79.4" r="0.5" fill="#0a2a0c"/></g>
<rect x="402.6" y="78.6" width="68.6" height="45.6" fill="#000"/>
<g clip-path="url(#ce11)"><path d="M471.4 104.2L474.7 102.8M471.4 104.2L469.7 103.5M469.7 103.5L472.8 99.1M403.5 126.6L403.8 121.6M406.2 121.7L403.8 121.6M406.2 121.7L409.3 125.6M401.7 118.4L398.3 119.1M401.7 118.4L402.7 119.7M402.7 119.7L402.7 120.3M402.7 120.3L399.3 122.3M400.7 115.2L401.7 118.4M403.8 121.6L402.7 120.3M438.2 103.0L436.5 101.6M438.2 103.0L440.3 100.7M436.5 101.6L437.6 97.7M440.3 100.7L437.6 97.7M427.6 111.2L426.7 110.6M427.6 111.2L428.8 115.4M426.7 110.6L424.5 112.6M424.5 112.6L425.5 115.8M425.5 115.8L427.5 116.2M428.8 115.4L427.5 116.2M430.2 107.0L426.0 108.5M430.2 107.0L430.3 104.3M424.0 106.8L426.0 108.5M424.0 106.8L424.3 105.7M430.3 104.3L426.8 103.6M424.3 105.7L426.8 103.6M416.5 76.2L414.5 77.7M414.5 77.7L410.8 76.4M409.2 79.5L409.2 79.7M409.2 79.5L410.8 76.4M411.6 82.6L409.3 79.9M411.6 82.6L414.1 81.2M414.1 81.2L414.5 77.7M409.3 79.9L409.2 79.7M463.3 74.8L466.5 78.0M466.5 78.0L468.3 75.0M471.4 104.2L472.9 107.9M469.7 103.5L467.8 103.5M467.8 103.5L468.3 107.8M472.9 107.9L470.0 109.6M468.3 107.8L470.0 109.6M467.8 103.5L467.6 103.4M467.6 103.4L466.5 103.5M466.2 108.5L468.3 107.8M466.2 108.5L464.2 106.5M464.2 106.5L466.5 103.5M406.6 114.3L410.2 113.7M406.6 114.3L406.4 117.0M410.2 113.7L408.9 119.2M406.4 117.0L408.9 119.2M409.2 119.6L408.9 119.2M409.2 119.6L406.2 121.7M402.7 119.7L406.4 117.0M414.1 123.6L410.7 121.4M414.1 123.6L412.9 126.3M410.7 121.4L409.5 125.5M409.2 119.6L410.6 120.1M410.6 120.1L410.7 121.4M409.2 79.5L404.8 76.9M398.9 89.0L401.7 89.6M401.7 89.6L403.8 91.6M400.5 92.9L403.6 92.0M403.6 92.0L403.8 91.6M399.6 95.7L402.2 96.4M402.2 96.4L403.3 95.3M403.3 95.3L403.6 92.0M406.7 96.6L403.3 95.3M406.7 96.6L408.9 95.5M408.9 95.5L409.2 93.5M409.2 93.5L404.7 91.4M404.7 91.4L403.8 91.6M418.1 99.5L414.7 98.4M418.1 99.5L417.1 103.3M416.4 103.6L417.1 103.3M416.4 103.6L413.9 99.3M413.9 99.3L414.7 98.4M459.8 103.5L461.1 102.4M459.8 103.5L456.9 103.3M461.1 102.4L460.1 97.1M456.9 103.3L456.7 103.1M456.7 103.1L456.7 99.3M460.1 97.1L456.7 99.3M410.9 113.4L410.2 113.7M410.9 113.4L411.5 113.5M413.0 118.7L410.6 120.1M413.0 118.7L413.3 115.5M413.3 115.5L411.5 113.5M416.1 106.3L416.0 104.4M416.1 106.3L417.9 107.7M418.7 103.1L417.1 103.3M418.7 103.1L421.8 107.2M416.0 104.4L416.4 103.6M417.9 107.7L421.8 107.2M424.0 106.8L422.6 107.5M418.7 103.1L421.4 101.1M421.4 101.1L424.3 105.7M422.6 107.5L421.8 107.2M418.8 124.3L419.3 121.6M418.8 124.3L414.6 123.2M419.3 121.6L418.3 119.8M418.3 119.8L414.8 119.9M414.8 119.9L414.6 123.2M413.0 118.7L414.8 119.9M414.1 123.6L414.6 123.2M418.8 124.3L419.1 125.4M430.3 104.3L432.0 103.0M432.1 102.6L432.0 103.0M432.1 102.6L431.4 100.3M426.8 103.6L426.2 99.6M431.4 100.3L426.7 99.4M426.2 99.6L426.7 99.4M418.1 99.5L420.3 98.9M421.4 101.1L421.6 100.4M420.3 98.9L421.6 100.4M426.2 99.6L425.1 99.0M421.6 100.4L425.1 99.0M428.2 94.7L429.6 95.8M428.2 94.7L424.7 96.4M429.6 95.8L426.7 99.4M425.1 99.0L424.7 96.4M414.1 81.2L416.5 81.8M416.5 81.8L419.2 77.5M443.1 99.4L440.3 100.7M443.1 99.4L439.7 95.9M437.6 97.7L437.5 96.4M439.7 95.9L437.5 96.4M455.6 107.2L456.9 103.3M455.6 107.2L458.1 109.5M459.8 103.5L461.0 106.4M458.1 109.5L461.0 106.4M463.9 111.5L466.2 108.5M463.9 111.5L463.2 111.3M464.2 106.5L462.4 107.3M463.2 111.3L462.4 107.3M466.5 103.5L463.0 102.0M463.0 102.0L461.1 102.4M461.0 106.4L462.4 107.3M470.0 109.6L469.9 110.0M469.9 110.0L472.8 113.8M463.9 111.6L467.2 112.6M463.9 111.6L464.2 116.4M467.2 112.6L467.8 114.3M467.8 114.3L466.7 117.0M464.2 116.4L466.7 117.0M463.9 111.5L463.9 111.6M469.9 110.0L467.2 112.6M467.6 103.4L468.0 98.7M463.0 102.0L464.3 98.2M468.0 98.7L464.3 98.2M413.4 109.0L416.1 106.3M413.4 109.0L410.8 107.2M416.0 104.4L412.4 104.5M412.4 104.5L410.8 107.2M410.9 99.9L410.8 102.3M410.9 99.9L411.2 99.5M411.2 99.5L413.9 99.3M412.4 104.5L410.8 102.3M442.8 127.2L439.8 124.2M439.8 124.2L437.9 126.1M438.2 103.0L438.6 104.4M432.1 102.6L436.4 101.6M432.0 103.0L436.1 107.5M436.4 101.6L436.5 101.6M436.1 107.5L438.2 105.5M438.6 104.4L438.2 105.5M428.8 115.4L431.1 115.5M427.5 116.2L427.3 119.9M431.1 115.5L431.7 119.6M427.3 119.9L430.1 121.3M430.1 121.3L430.2 121.3M430.2 121.3L431.7 119.6M439.7 124.0L439.8 124.2M439.7 124.0L434.8 123.1M433.9 125.8L434.4 123.7M434.8 123.1L434.4 123.7M404.8 76.9L404.0 77.7M400.7 76.6L404.0 77.7M405.0 85.0L406.0 88.1M405.0 85.0L410.7 84.4M406.0 88.1L410.3 88.7M410.7 84.4L410.3 88.7M404.7 91.4L406.0 88.1M404.0 84.3L403.9 84.2M404.0 84.3L405.0 85.0M403.9 84.2L401.7 89.6M411.6 82.6L411.4 83.6M409.3 79.9L404.0 84.3M411.4 83.6L410.7 84.4M403.4 83.8L403.0 81.2M403.4 83.8L401.3 84.5M403.0 81.2L402.9 81.0M402.9 81.0L398.6 79.6M409.2 79.7L403.0 81.2M403.9 84.2L403.4 83.8M404.0 77.7L402.9 81.0M408.9 95.5L409.5 96.4M409.2 93.5L411.6 91.4M409.5 96.4L415.2 95.2M411.6 91.4L415.2 95.2M410.3 88.7L411.6 91.2M411.6 91.4L411.6 91.2M411.2 99.5L409.5 96.4M414.7 98.4L416.0 95.8M415.2 95.2L416.0 95.8M453.2 102.4L456.7 103.1M453.2 102.4L450.9 105.3M455.6 107.2L454.0 107.9M454.0 107.9L451.4 107.5M451.4 107.5L450.8 106.4M450.9 105.3L450.8 106.4M453.2 102.4L451.3 99.6M456.7 99.3L454.9 97.6M451.3 99.6L453.5 97.8M454.9 97.6L453.5 97.8M460.3 96.5L456.8 94.1M460.3 96.5L460.1 97.1M454.9 97.6L456.8 94.1M451.3 99.6L450.8 99.6M450.9 105.3L448.3 102.9M448.3 102.9L450.0 99.7M450.0 99.7L450.8 99.6M417.0 111.3L416.6 114.9M417.0 111.3L417.9 110.7M417.9 110.7L421.3 111.7M418.1 115.6L421.2 112.5M418.1 115.6L416.6 114.9M421.2 112.5L421.3 111.9M421.3 111.9L421.3 111.7M413.5 110.2L417.0 111.3M413.5 110.2L411.5 113.5M413.3 115.5L416.6 114.9M413.4 109.0L413.5 110.2M417.9 107.7L417.9 110.7M422.6 107.5L421.3 111.7M419.1 117.6L422.7 117.1M419.1 117.6L418.1 115.6M422.9 116.8L422.7 117.1M422.9 116.8L421.2 112.5M419.1 117.6L418.3 119.8M422.9 116.8L425.5 115.8M424.5 112.6L421.3 111.9M426.0 108.5L426.7 110.6M422.7 117.1L423.8 120.8M427.3 119.9L425.1 121.3M425.1 121.3L423.8 120.8M419.3 121.6L422.9 121.2M422.9 121.2L421.9 125.5M422.9 121.2L423.8 120.8M430.0 122.2L425.5 123.7M430.0 122.2L429.8 126.6M429.4 126.9L425.5 124.0M425.5 124.0L425.5 123.7M430.1 121.3L430.0 122.2M425.1 121.3L425.5 123.7M430.2 121.3L434.4 123.7M423.2 125.9L425.5 124.0M430.6 76.8L431.3 78.5M436.7 74.3L436.1 77.7M431.3 78.5L436.1 77.7M440.5 75.5L439.9 79.2M439.9 79.2L437.9 80.2M436.1 77.7L437.9 80.2M416.5 81.8L418.6 84.1M419.2 77.5L420.6 83.0M420.6 83.0L420.2 83.9M418.6 84.1L420.2 83.9M411.4 83.6L413.6 85.2M413.6 85.2L417.5 85.6M418.6 84.1L417.5 85.6M423.1 81.1L423.8 81.1M423.1 81.1L420.8 76.8M423.8 81.1L425.7 79.8M425.7 79.8L425.3 77.2M420.6 83.0L423.1 81.1M424.9 83.7L423.8 81.1M424.9 83.7L421.3 84.9M420.2 83.9L421.3 84.9M430.7 91.5L432.6 91.0M430.7 91.5L431.2 95.9M432.6 91.0L435.4 95.1M431.2 95.9L432.8 96.7M435.4 95.3L435.4 95.1M435.4 95.3L433.1 96.6M433.1 96.6L432.8 96.7M432.4 87.5L428.3 89.2M432.4 87.5L433.9 89.0M433.9 89.0L432.6 91.0M428.7 90.6L428.3 89.2M428.7 90.6L430.7 91.5M428.2 94.7L427.6 92.3M429.6 95.8L431.2 95.9M427.6 92.3L428.7 90.6M436.8 88.8L437.5 89.3M436.8 88.8L433.9 89.0M437.5 89.3L437.7 90.1M437.7 90.1L435.4 95.1M431.4 100.3L432.8 96.7M436.4 101.6L433.1 96.6M437.5 96.4L435.4 95.3M450.5 75.1L448.3 79.7M450.0 74.9L445.1 77.8M447.1 79.5L448.3 79.7M447.1 79.5L445.1 78.1M445.1 78.1L445.1 77.8M445.1 77.8L444.5 76.5M443.2 79.8L439.9 79.2M443.2 79.8L445.1 78.1M455.6 113.4L458.4 110.8M455.6 113.4L460.6 115.2M458.4 110.8L461.6 112.0M460.6 115.2L461.6 112.0M458.1 109.5L458.4 110.8M463.2 111.3L461.6 112.0M460.9 117.7L464.2 116.4M460.9 117.7L460.6 115.2M454.8 115.3L453.7 119.4M454.8 115.3L459.3 118.7M459.3 118.7L453.8 120.7M453.7 119.4L453.8 120.7M449.2 116.6L448.8 117.9M449.2 116.6L453.7 119.4M453.3 121.9L453.8 120.7M453.3 121.9L450.4 121.0M450.4 121.0L448.8 117.9M457.6 123.9L453.6 122.8M457.6 123.9L460.3 119.6M453.3 121.9L453.6 122.8M460.3 119.0L460.4 119.2M460.3 119.0L459.3 118.7M460.3 119.6L460.4 119.2M472.7 119.2L469.8 119.0M469.8 119.0L470.8 114.9M470.8 114.9L472.8 113.9M467.8 114.3L470.8 114.9M460.9 117.7L460.3 119.0M466.7 117.0L467.7 119.0M460.4 119.2L465.2 121.1M467.7 119.0L465.2 121.1M469.8 119.0L468.9 119.4M467.7 119.0L468.9 119.4M445.7 84.6L449.3 85.0M445.7 84.6L447.1 79.5M449.3 85.0L450.5 84.0M448.3 79.7L450.3 81.0M450.3 81.0L450.5 84.0M460.3 96.5L460.6 96.4M464.3 98.2L463.3 96.8M460.6 96.4L463.3 96.8M468.4 95.3L468.7 97.9M468.4 95.3L469.3 94.6M469.3 94.6L473.4 94.9M468.7 97.9L472.3 98.5M468.0 98.7L468.7 97.9M463.3 96.8L465.7 93.8M465.7 93.8L468.4 95.3M474.5 93.0L471.1 90.9M471.1 90.9L470.4 90.9M470.4 90.9L469.3 94.6M459.5 85.1L459.6 80.3M459.5 85.1L460.9 85.9M460.9 85.9L463.5 82.1M459.6 80.3L462.5 79.9M462.5 79.9L463.7 80.5M463.7 80.5L463.5 82.1M466.5 78.0L466.3 79.8M466.3 79.8L463.7 80.5M462.1 75.2L462.5 79.9M400.7 115.2L401.8 114.0M401.8 114.0L400.0 108.4M410.9 99.9L405.5 101.3M410.8 102.3L407.4 105.7M407.4 105.7L405.0 102.8M405.0 102.8L405.5 101.3M402.2 96.4L402.5 98.3M406.7 96.6L405.1 100.0M405.1 100.0L402.5 98.3M405.1 100.0L405.5 101.3M402.5 98.3L399.7 100.4M450.9 109.7L450.3 114.8M450.9 109.7L454.4 113.4M450.3 114.8L454.4 114.2M454.4 114.2L454.6 113.9M454.4 113.4L454.6 113.9M450.6 108.9L446.7 110.9M450.6 108.9L450.9 109.7M446.7 110.9L447.3 113.8M447.3 113.8L449.2 115.1M449.2 115.1L450.3 114.8M454.0 107.9L454.4 113.4M451.4 107.5L450.6 108.9M449.2 116.6L449.2 115.1M454.8 115.3L454.4 114.2M455.6 113.4L454.6 113.9M450.8 106.4L446.9 106.4M448.3 102.9L445.9 103.6M446.9 106.4L445.9 103.6M443.1 99.4L443.8 99.6M443.8 99.6L444.5 102.8M438.6 104.4L443.0 104.2M443.0 104.2L444.5 102.8M443.8 99.6L444.8 98.7M444.8 98.7L446.9 98.4M450.0 99.7L446.9 98.4M444.5 102.8L445.9 103.6M438.2 105.5L441.7 108.3M443.0 104.2L443.1 107.5M441.7 108.3L443.1 107.5M446.9 106.4L445.8 108.4M443.1 107.5L445.8 108.4M446.7 110.9L446.6 110.8M446.6 110.8L445.8 108.4M443.3 121.4L446.7 121.8M443.3 121.4L445.1 126.3M446.7 121.8L447.8 123.1M447.8 123.1L447.6 126.5M450.4 121.0L447.8 123.1M448.8 117.9L447.2 118.9M447.2 118.9L446.7 121.8M453.6 122.8L452.1 125.9M447.3 113.8L443.4 115.5M447.2 118.9L444.2 118.7M444.2 118.7L443.4 115.5M443.3 121.4L442.8 121.1M444.2 118.7L442.8 121.1M439.7 124.0L440.2 122.4M440.2 122.4L442.5 121.1M442.8 121.1L442.5 121.1M414.1 87.8L412.8 90.6M414.1 87.8L417.3 87.2M412.8 90.6L417.2 90.3M417.2 90.3L417.8 88.8M417.8 88.8L417.3 87.2M413.6 85.2L414.1 87.8M411.6 91.2L412.8 90.6M417.5 85.6L417.3 87.2M422.5 87.3L419.9 88.7M422.5 87.3L421.3 84.9M419.9 88.7L417.8 88.8M419.7 96.8L424.2 95.7M419.7 96.8L418.1 95.0M418.1 95.0L418.8 93.5M418.8 93.5L421.3 92.5M421.3 92.5L422.9 92.3M424.2 95.7L423.6 93.0M423.6 93.0L422.9 92.3M420.3 98.9L419.7 96.8M424.7 96.4L424.2 95.7M416.0 95.8L418.1 95.0M417.2 90.3L418.8 93.5M419.9 88.7L421.3 92.5M423.8 88.2L422.9 92.3M423.8 88.2L422.5 87.3M427.6 92.3L423.6 93.0M426.8 87.4L428.3 89.2M426.8 87.4L423.8 88.2M436.0 107.7L436.0 109.1M436.0 107.7L430.3 107.2M436.0 109.1L432.2 111.0M430.3 107.2L431.0 110.2M431.0 110.2L432.2 111.0M430.2 107.0L430.3 107.2M436.1 107.5L436.0 107.7M427.6 111.2L431.0 110.2M431.1 115.5L432.1 114.8M432.1 114.8L432.2 111.0M441.7 108.3L441.0 111.0M436.0 109.1L437.4 110.9M437.4 110.9L441.0 111.0M446.6 110.8L441.2 111.2M441.2 111.2L441.0 111.0M443.4 115.5L442.0 115.1M441.2 111.2L442.0 115.1M442.5 121.1L439.5 116.4M442.0 115.1L439.5 116.4M456.9 85.3L455.1 84.4M456.9 85.3L456.9 87.1M456.9 87.1L455.2 91.5M453.8 84.8L455.1 84.4M453.8 84.8L453.5 88.3M455.2 91.5L453.5 88.3M449.3 86.0L449.3 85.0M449.3 86.0L451.7 88.5M453.8 84.8L450.5 84.0M451.7 88.5L453.5 88.3M444.5 95.2L445.4 93.2M444.5 95.2L440.6 94.7M445.4 93.2L442.0 91.9M440.6 94.7L441.0 92.4M441.0 92.4L442.0 91.9M439.7 95.9L440.6 94.7M444.8 98.7L444.5 95.2M437.7 90.1L441.0 92.4M440.1 83.9L443.2 82.4M440.1 83.9L441.4 87.1M441.4 87.1L443.5 87.7M445.5 84.6L443.5 87.7M445.5 84.6L443.2 82.4M443.5 87.7L443.5 87.7M439.1 83.4L437.8 80.5M439.1 83.4L440.1 83.9M443.2 79.8L443.2 82.4M437.9 80.2L437.8 80.5M436.8 88.8L436.5 85.9M437.5 89.3L441.4 87.1M436.5 85.9L439.1 83.4M442.0 91.9L443.5 87.7M445.7 84.6L445.5 84.6M430.8 80.2L433.0 83.2M430.8 80.2L428.0 81.2M428.0 81.2L427.0 84.7M432.1 84.7L427.3 85.9M432.1 84.7L433.0 83.3M427.3 85.9L427.0 84.7M433.0 83.3L433.0 83.2M431.3 78.5L430.8 80.2M437.8 80.5L433.0 83.2M425.7 79.8L428.0 81.2M424.9 83.7L427.0 84.7M426.8 87.4L427.3 85.9M432.4 87.5L432.1 84.7M436.5 85.9L433.0 83.3M466.3 79.8L468.1 80.8M470.1 77.1L470.7 80.4M470.7 80.4L468.1 80.8M466.2 86.1L463.5 82.1M466.2 86.1L467.9 84.2M467.9 84.2L468.1 80.8M471.1 90.9L472.5 88.9M457.6 123.9L458.6 126.0M460.3 119.6L461.0 121.3M462.3 126.0L461.0 121.3M457.3 79.3L455.7 81.6M457.3 79.3L456.3 76.8M455.7 81.6L451.4 80.1M453.3 76.4L451.4 80.1M456.9 85.3L459.5 85.1M455.1 84.4L455.7 81.6M459.6 80.3L457.3 79.3M450.3 81.0L451.4 80.1M470.4 90.9L468.6 89.6M465.7 93.8L465.7 93.7M465.7 93.7L468.6 89.6M466.2 86.1L465.9 87.5M467.9 84.2L471.4 85.5M471.1 86.3L471.4 85.5M471.1 86.3L468.3 89.0M465.9 87.5L468.3 89.0M472.5 88.9L471.1 86.3M468.3 89.0L468.6 89.6M410.9 113.4L408.4 108.7M410.8 107.2L408.5 107.3M408.4 108.7L408.5 107.3M407.4 105.7L407.5 106.2M408.5 107.3L407.5 106.2M401.0 107.9L404.7 102.8M400.4 102.3L404.7 102.8M405.0 102.8L404.7 102.8M403.5 108.5L407.5 106.2M403.5 108.5L401.0 107.9M439.0 116.5L436.5 115.0M439.0 116.5L437.9 120.2M437.9 120.2L435.3 120.7M435.2 115.4L436.5 115.0M435.2 115.4L434.8 120.1M435.3 120.7L434.8 120.1M437.4 110.9L436.5 115.0M439.5 116.4L439.0 116.5M440.2 122.4L437.9 120.2M434.8 123.1L435.3 120.7M432.1 114.8L435.2 115.4M431.7 119.6L434.8 120.1M452.2 94.0L452.7 92.7M452.2 94.0L450.2 95.5M452.7 92.7L449.7 91.1M450.2 95.5L448.2 95.0M448.2 95.0L446.9 92.5M449.7 91.1L447.8 90.9M446.9 92.5L447.7 90.9M447.8 90.9L447.7 90.9M453.5 97.8L452.2 94.0M456.8 94.1L456.0 92.1M456.0 92.1L455.3 91.7M455.3 91.7L452.7 92.7M450.8 99.6L450.2 95.5M455.2 91.5L455.3 91.7M451.7 88.5L449.7 91.1M446.9 98.4L448.2 95.0M445.4 93.2L446.9 92.5M449.3 86.0L447.8 90.9M443.5 87.7L447.7 90.9M474.1 79.2L472.0 80.6M472.0 80.6L472.7 84.6M470.7 80.4L472.0 80.6M471.4 85.5L472.7 84.6M468.9 119.4L469.5 122.5M465.2 121.1L465.3 124.4M465.3 124.4L469.5 122.5M461.0 121.3L465.2 124.7M465.3 124.4L465.2 124.7M473.5 120.6L471.2 124.4M469.5 122.5L471.2 124.4M471.5 125.8L471.2 124.4M462.1 91.4L462.8 91.1M462.1 91.4L458.5 91.0M462.8 91.1L463.8 88.3M459.0 88.9L458.5 91.0M459.0 88.9L461.0 86.1M461.0 86.1L463.8 88.3M460.6 96.4L462.1 91.4M465.7 93.7L462.8 91.1M456.0 92.1L458.5 91.0M465.9 87.5L463.8 88.3M456.9 87.1L459.0 88.9M460.9 85.9L461.0 86.1M406.1 111.1L404.2 109.9M406.1 111.1L406.4 114.0M404.2 109.9L402.3 113.9M406.4 114.0L402.3 113.9M403.5 108.5L404.2 109.9M408.4 108.7L406.1 111.1M406.6 114.3L406.4 114.0M401.8 114.0L402.3 113.9M463.3 126.4L465.2 124.8M465.2 124.8L469.1 126.7M465.2 124.7L465.2 124.8" stroke="#a81010" stroke-width="0.62" fill="none"/></g>
<rect x="473.2" y="78.6" width="68.9" height="45.6" fill="#000"/>
<g clip-path="url(#ce12)"><path d="M542.0 104.2L545.3 102.8M542.0 104.2L540.3 103.5M540.3 103.5L543.4 99.1M474.1 126.6L474.4 121.6M476.8 121.7L474.4 121.6M476.8 121.7L479.9 125.6M472.3 118.4L468.9 119.1M472.3 118.4L473.3 119.7M473.3 119.7L473.3 120.3M473.3 120.3L469.9 122.3M471.3 115.2L472.3 118.4M474.4 121.6L473.3 120.3M508.8 103.0L507.1 101.6M508.8 103.0L510.9 100.7M507.1 101.6L508.2 97.7M510.9 100.7L508.2 97.7M498.2 111.2L497.3 110.6M498.2 111.2L499.4 115.4M497.3 110.6L495.1 112.6M495.1 112.6L496.1 115.8M496.1 115.8L498.1 116.2M499.4 115.4L498.1 116.2M500.8 107.0L496.6 108.5M500.8 107.0L500.9 104.3M494.6 106.8L496.6 108.5M494.6 106.8L494.9 105.7M500.9 104.3L497.4 103.6M494.9 105.7L497.4 103.6M487.1 76.2L485.1 77.7M485.1 77.7L481.4 76.4M479.8 79.5L479.8 79.7M479.8 79.5L481.4 76.4M482.2 82.6L479.9 79.9M482.2 82.6L484.7 81.2M484.7 81.2L485.1 77.7M479.9 79.9L479.8 79.7M533.9 74.8L537.1 78.0M537.1 78.0L538.9 75.0M542.0 104.2L543.5 107.9M540.3 103.5L538.4 103.5M538.4 103.5L538.9 107.8M543.5 107.9L540.6 109.6M538.9 107.8L540.6 109.6M538.4 103.5L538.2 103.4M538.2 103.4L537.1 103.5M536.8 108.5L538.9 107.8M536.8 108.5L534.8 106.5M534.8 106.5L537.1 103.5M477.2 114.3L480.8 113.7M477.2 114.3L477.0 117.0M480.8 113.7L479.5 119.2M477.0 117.0L479.5 119.2M479.8 119.6L479.5 119.2M479.8 119.6L476.8 121.7M473.3 119.7L477.0 117.0M484.7 123.6L481.3 121.4M484.7 123.6L483.5 126.3M481.3 121.4L480.1 125.5M479.8 119.6L481.2 120.1M481.2 120.1L481.3 121.4M479.8 79.5L475.4 76.9M469.5 89.0L472.3 89.6M472.3 89.6L474.4 91.6M471.1 92.9L474.2 92.0M474.2 92.0L474.4 91.6M470.2 95.7L472.8 96.4M472.8 96.4L473.9 95.3M473.9 95.3L474.2 92.0M477.3 96.6L473.9 95.3M477.3 96.6L479.5 95.5M479.5 95.5L479.8 93.5M479.8 93.5L475.3 91.4M475.3 91.4L474.4 91.6M488.7 99.5L485.3 98.4M488.7 99.5L487.7 103.3M487.0 103.6L487.7 103.3M487.0 103.6L484.5 99.3M484.5 99.3L485.3 98.4M530.4 103.5L531.7 102.4M530.4 103.5L527.5 103.3M531.7 102.4L530.7 97.1M527.5 103.3L527.3 103.1M527.3 103.1L527.3 99.3M530.7 97.1L527.3 99.3M481.5 113.4L480.8 113.7M481.5 113.4L482.1 113.5M483.6 118.7L481.2 120.1M483.6 118.7L483.9 115.5M483.9 115.5L482.1 113.5M486.7 106.3L486.6 104.4M486.7 106.3L488.5 107.7M489.3 103.1L487.7 103.3M489.3 103.1L492.4 107.2M486.6 104.4L487.0 103.6M488.5 107.7L492.4 107.2M494.6 106.8L493.2 107.5M489.3 103.1L492.0 101.1M492.0 101.1L494.9 105.7M493.2 107.5L492.4 107.2M489.4 124.3L489.9 121.6M489.4 124.3L485.2 123.2M489.9 121.6L488.9 119.8M488.9 119.8L485.4 119.9M485.4 119.9L485.2 123.2M483.6 118.7L485.4 119.9M484.7 123.6L485.2 123.2M489.4 124.3L489.7 125.4M500.9 104.3L502.6 103.0M502.7 102.6L502.6 103.0M502.7 102.6L502.0 100.3M497.4 103.6L496.8 99.6M502.0 100.3L497.3 99.4M496.8 99.6L497.3 99.4M488.7 99.5L490.9 98.9M492.0 101.1L492.2 100.4M490.9 98.9L492.2 100.4M496.8 99.6L495.7 99.0M492.2 100.4L495.7 99.0M498.8 94.7L500.2 95.8M498.8 94.7L495.3 96.4M500.2 95.8L497.3 99.4M495.7 99.0L495.3 96.4M484.7 81.2L487.1 81.8M487.1 81.8L489.8 77.5M513.7 99.4L510.9 100.7M513.7 99.4L510.3 95.9M508.2 97.7L508.1 96.4M510.3 95.9L508.1 96.4M526.2 107.2L527.5 103.3M526.2 107.2L528.7 109.5M530.4 103.5L531.6 106.4M528.7 109.5L531.6 106.4M534.5 111.5L536.8 108.5M534.5 111.5L533.8 111.3M534.8 106.5L533.0 107.3M533.8 111.3L533.0 107.3M537.1 103.5L533.6 102.0M533.6 102.0L531.7 102.4M531.6 106.4L533.0 107.3M540.6 109.6L540.5 110.0M540.5 110.0L543.4 113.8M534.5 111.6L537.8 112.6M534.5 111.6L534.8 116.4M537.8 112.6L538.4 114.3M538.4 114.3L537.3 117.0M534.8 116.4L537.3 117.0M534.5 111.5L534.5 111.6M540.5 110.0L537.8 112.6M538.2 103.4L538.6 98.7M533.6 102.0L534.9 98.2M538.6 98.7L534.9 98.2M484.0 109.0L486.7 106.3M484.0 109.0L481.4 107.2M486.6 104.4L483.0 104.5M483.0 104.5L481.4 107.2M481.5 99.9L481.4 102.3M481.5 99.9L481.8 99.5M481.8 99.5L484.5 99.3M483.0 104.5L481.4 102.3M513.4 127.2L510.4 124.2M510.4 124.2L508.5 126.1M508.8 103.0L509.2 104.4M502.7 102.6L507.0 101.6M502.6 103.0L506.7 107.5M507.0 101.6L507.1 101.6M506.7 107.5L508.8 105.5M509.2 104.4L508.8 105.5M499.4 115.4L501.7 115.5M498.1 116.2L497.9 119.9M501.7 115.5L502.3 119.6M497.9 119.9L500.7 121.3M500.7 121.3L500.8 121.3M500.8 121.3L502.3 119.6M510.3 124.0L510.4 124.2M510.3 124.0L505.4 123.1M504.5 125.8L505.0 123.7M505.4 123.1L505.0 123.7M475.4 76.9L474.6 77.7M471.3 76.6L474.6 77.7M475.6 85.0L476.6 88.1M475.6 85.0L481.3 84.4M476.6 88.1L480.9 88.7M481.3 84.4L480.9 88.7M475.3 91.4L476.6 88.1M474.6 84.3L474.5 84.2M474.6 84.3L475.6 85.0M474.5 84.2L472.3 89.6M482.2 82.6L482.0 83.6M479.9 79.9L474.6 84.3M482.0 83.6L481.3 84.4M474.0 83.8L473.6 81.2M474.0 83.8L471.9 84.5M473.6 81.2L473.5 81.0M473.5 81.0L469.2 79.6M479.8 79.7L473.6 81.2M474.5 84.2L474.0 83.8M474.6 77.7L473.5 81.0M479.5 95.5L480.1 96.4M479.8 93.5L482.2 91.4M480.1 96.4L485.8 95.2M482.2 91.4L485.8 95.2M480.9 88.7L482.2 91.2M482.2 91.4L482.2 91.2M481.8 99.5L480.1 96.4M485.3 98.4L486.6 95.8M485.8 95.2L486.6 95.8M523.8 102.4L527.3 103.1M523.8 102.4L521.5 105.3M526.2 107.2L524.6 107.9M524.6 107.9L522.0 107.5M522.0 107.5L521.4 106.4M521.5 105.3L521.4 106.4M523.8 102.4L521.9 99.6M527.3 99.3L525.5 97.6M521.9 99.6L524.1 97.8M525.5 97.6L524.1 97.8M530.9 96.5L527.4 94.1M530.9 96.5L530.7 97.1M525.5 97.6L527.4 94.1M521.9 99.6L521.4 99.6M521.5 105.3L518.9 102.9M518.9 102.9L520.6 99.7M520.6 99.7L521.4 99.6M487.6 111.3L487.2 114.9M487.6 111.3L488.5 110.7M488.5 110.7L491.9 111.7M488.7 115.6L491.8 112.5M488.7 115.6L487.2 114.9M491.8 112.5L491.9 111.9M491.9 111.9L491.9 111.7M484.1 110.2L487.6 111.3M484.1 110.2L482.1 113.5M483.9 115.5L487.2 114.9M484.0 109.0L484.1 110.2M488.5 107.7L488.5 110.7M493.2 107.5L491.9 111.7M489.7 117.6L493.3 117.1M489.7 117.6L488.7 115.6M493.5 116.8L493.3 117.1M493.5 116.8L491.8 112.5M489.7 117.6L488.9 119.8M493.5 116.8L496.1 115.8M495.1 112.6L491.9 111.9M496.6 108.5L497.3 110.6M493.3 117.1L494.4 120.8M497.9 119.9L495.7 121.3M495.7 121.3L494.4 120.8M489.9 121.6L493.5 121.2M493.5 121.2L492.5 125.5M493.5 121.2L494.4 120.8M500.6 122.2L496.1 123.7M500.6 122.2L500.4 126.6M500.0 126.9L496.1 124.0M496.1 124.0L496.1 123.7M500.7 121.3L500.6 122.2M495.7 121.3L496.1 123.7M500.8 121.3L505.0 123.7M493.8 125.9L496.1 124.0M501.2 76.8L501.9 78.5M507.3 74.3L506.7 77.7M501.9 78.5L506.7 77.7M511.1 75.5L510.5 79.2M510.5 79.2L508.5 80.2M506.7 77.7L508.5 80.2M487.1 81.8L489.2 84.1M489.8 77.5L491.2 83.0M491.2 83.0L490.8 83.9M489.2 84.1L490.8 83.9M482.0 83.6L484.2 85.2M484.2 85.2L488.1 85.6M489.2 84.1L488.1 85.6M493.7 81.1L494.4 81.1M493.7 81.1L491.4 76.8M494.4 81.1L496.3 79.8M496.3 79.8L495.9 77.2M491.2 83.0L493.7 81.1M495.5 83.7L494.4 81.1M495.5 83.7L491.9 84.9M490.8 83.9L491.9 84.9M501.3 91.5L503.2 91.0M501.3 91.5L501.8 95.9M503.2 91.0L506.0 95.1M501.8 95.9L503.4 96.7M506.0 95.3L506.0 95.1M506.0 95.3L503.7 96.6M503.7 96.6L503.4 96.7M503.0 87.5L498.9 89.2M503.0 87.5L504.5 89.0M504.5 89.0L503.2 91.0M499.3 90.6L498.9 89.2M499.3 90.6L501.3 91.5M498.8 94.7L498.2 92.3M500.2 95.8L501.8 95.9M498.2 92.3L499.3 90.6M507.4 88.8L508.1 89.3M507.4 88.8L504.5 89.0M508.1 89.3L508.3 90.1M508.3 90.1L506.0 95.1M502.0 100.3L503.4 96.7M507.0 101.6L503.7 96.6M508.1 96.4L506.0 95.3M521.1 75.1L518.9 79.7M520.6 74.9L515.7 77.8M517.7 79.5L518.9 79.7M517.7 79.5L515.7 78.1M515.7 78.1L515.7 77.8M515.7 77.8L515.1 76.5M513.8 79.8L510.5 79.2M513.8 79.8L515.7 78.1M526.2 113.4L529.0 110.8M526.2 113.4L531.2 115.2M529.0 110.8L532.2 112.0M531.2 115.2L532.2 112.0M528.7 109.5L529.0 110.8M533.8 111.3L532.2 112.0M531.5 117.7L534.8 116.4M531.5 117.7L531.2 115.2M525.4 115.3L524.3 119.4M525.4 115.3L529.9 118.7M529.9 118.7L524.4 120.7M524.3 119.4L524.4 120.7M519.8 116.6L519.4 117.9M519.8 116.6L524.3 119.4M523.9 121.9L524.4 120.7M523.9 121.9L521.0 121.0M521.0 121.0L519.4 117.9M528.2 123.9L524.2 122.8M528.2 123.9L530.9 119.6M523.9 121.9L524.2 122.8M530.9 119.0L531.0 119.2M530.9 119.0L529.9 118.7M530.9 119.6L531.0 119.2M543.3 119.2L540.4 119.0M540.4 119.0L541.4 114.9M541.4 114.9L543.4 113.9M538.4 114.3L541.4 114.9M531.5 117.7L530.9 119.0M537.3 117.0L538.3 119.0M531.0 119.2L535.8 121.1M538.3 119.0L535.8 121.1M540.4 119.0L539.5 119.4M538.3 119.0L539.5 119.4M516.3 84.6L519.9 85.0M516.3 84.6L517.7 79.5M519.9 85.0L521.1 84.0M518.9 79.7L520.9 81.0M520.9 81.0L521.1 84.0M530.9 96.5L531.2 96.4M534.9 98.2L533.9 96.8M531.2 96.4L533.9 96.8M539.0 95.3L539.3 97.9M539.0 95.3L539.9 94.6M539.9 94.6L544.0 94.9M539.3 97.9L542.9 98.5M542.9 98.5L544.0 94.9M538.6 98.7L539.3 97.9M533.9 96.8L536.3 93.8M536.3 93.8L539.0 95.3M545.1 93.0L541.7 90.9M541.7 90.9L541.0 90.9M541.0 90.9L539.9 94.6M543.4 99.1L542.9 98.5M530.1 85.1L530.2 80.3M530.1 85.1L531.5 85.9M531.5 85.9L534.1 82.1M530.2 80.3L533.1 79.9M533.1 79.9L534.3 80.5M534.3 80.5L534.1 82.1M537.1 78.0L536.9 79.8M536.9 79.8L534.3 80.5M532.7 75.2L533.1 79.9M471.3 115.2L472.4 114.0M472.4 114.0L470.6 108.4M481.5 99.9L476.1 101.3M481.4 102.3L478.0 105.7M478.0 105.7L475.6 102.8M475.6 102.8L476.1 101.3M472.8 96.4L473.1 98.3M477.3 96.6L475.7 100.0M475.7 100.0L473.1 98.3M475.7 100.0L476.1 101.3M473.1 98.3L470.3 100.4M521.5 109.7L520.9 114.8M521.5 109.7L525.0 113.4M520.9 114.8L525.0 114.2M525.0 114.2L525.2 113.9M525.0 113.4L525.2 113.9M521.2 108.9L517.3 110.9M521.2 108.9L521.5 109.7M517.3 110.9L517.9 113.8M517.9 113.8L519.8 115.1M519.8 115.1L520.9 114.8M524.6 107.9L525.0 113.4M522.0 107.5L521.2 108.9M519.8 116.6L519.8 115.1M525.4 115.3L525.0 114.2M526.2 113.4L525.2 113.9M521.4 106.4L517.5 106.4M518.9 102.9L516.5 103.6M517.5 106.4L516.5 103.6M513.7 99.4L514.4 99.6M514.4 99.6L515.1 102.8M509.2 104.4L513.6 104.2M513.6 104.2L515.1 102.8M514.4 99.6L515.4 98.7M515.4 98.7L517.5 98.4M520.6 99.7L517.5 98.4M515.1 102.8L516.5 103.6M508.8 105.5L512.3 108.3M513.6 104.2L513.7 107.5M512.3 108.3L513.7 107.5M517.5 106.4L516.4 108.4M513.7 107.5L516.4 108.4M517.3 110.9L517.2 110.8M517.2 110.8L516.4 108.4M513.9 121.4L517.3 121.8M513.9 121.4L515.7 126.3M517.3 121.8L518.4 123.1M518.4 123.1L518.2 126.5M521.0 121.0L518.4 123.1M519.4 117.9L517.8 118.9M517.8 118.9L517.3 121.8M524.2 122.8L522.7 125.9M517.9 113.8L514.0 115.5M517.8 118.9L514.8 118.7M514.8 118.7L514.0 115.5M513.9 121.4L513.4 121.1M514.8 118.7L513.4 121.1M510.3 124.0L510.8 122.4M510.8 122.4L513.1 121.1M513.4 121.1L513.1 121.1M484.7 87.8L483.4 90.6M484.7 87.8L487.9 87.2M483.4 90.6L487.8 90.3M487.8 90.3L488.4 88.8M488.4 88.8L487.9 87.2M484.2 85.2L484.7 87.8M482.2 91.2L483.4 90.6M488.1 85.6L487.9 87.2M493.1 87.3L490.5 88.7M493.1 87.3L491.9 84.9M490.5 88.7L488.4 88.8M490.3 96.8L494.8 95.7M490.3 96.8L488.7 95.0M488.7 95.0L489.4 93.5M489.4 93.5L491.9 92.5M491.9 92.5L493.5 92.3M494.8 95.7L494.2 93.0M494.2 93.0L493.5 92.3M490.9 98.9L490.3 96.8M495.3 96.4L494.8 95.7M486.6 95.8L488.7 95.0M487.8 90.3L489.4 93.5M490.5 88.7L491.9 92.5M494.4 88.2L493.5 92.3M494.4 88.2L493.1 87.3M498.2 92.3L494.2 93.0M497.4 87.4L498.9 89.2M497.4 87.4L494.4 88.2M506.6 107.7L506.6 109.1M506.6 107.7L500.9 107.2M506.6 109.1L502.8 111.0M500.9 107.2L501.6 110.2M501.6 110.2L502.8 111.0M500.8 107.0L500.9 107.2M506.7 107.5L506.6 107.7M498.2 111.2L501.6 110.2M501.7 115.5L502.7 114.8M502.7 114.8L502.8 111.0M512.3 108.3L511.6 111.0M506.6 109.1L508.0 110.9M508.0 110.9L511.6 111.0M517.2 110.8L511.8 111.2M511.8 111.2L511.6 111.0M514.0 115.5L512.6 115.1M511.8 111.2L512.6 115.1M513.1 121.1L510.1 116.4M512.6 115.1L510.1 116.4M527.5 85.3L525.7 84.4M527.5 85.3L527.5 87.1M527.5 87.1L525.8 91.5M524.4 84.8L525.7 84.4M524.4 84.8L524.1 88.3M525.8 91.5L524.1 88.3M519.9 86.0L519.9 85.0M519.9 86.0L522.3 88.5M524.4 84.8L521.1 84.0M522.3 88.5L524.1 88.3M515.1 95.2L516.0 93.2M515.1 95.2L511.2 94.7M516.0 93.2L512.6 91.9M511.2 94.7L511.6 92.4M511.6 92.4L512.6 91.9M510.3 95.9L511.2 94.7M515.4 98.7L515.1 95.2M508.3 90.1L511.6 92.4M510.7 83.9L513.8 82.4M510.7 83.9L512.0 87.1M512.0 87.1L514.1 87.7M516.1 84.6L514.1 87.7M516.1 84.6L513.8 82.4M514.1 87.7L514.1 87.7M509.7 83.4L508.4 80.5M509.7 83.4L510.7 83.9M513.8 79.8L513.8 82.4M508.5 80.2L508.4 80.5M507.4 88.8L507.1 85.9M508.1 89.3L512.0 87.1M507.1 85.9L509.7 83.4M512.6 91.9L514.1 87.7M516.3 84.6L516.1 84.6M501.4 80.2L503.6 83.2M501.4 80.2L498.6 81.2M498.6 81.2L497.6 84.7M502.7 84.7L497.9 85.9M502.7 84.7L503.6 83.3M497.9 85.9L497.6 84.7M503.6 83.3L503.6 83.2M501.9 78.5L501.4 80.2M508.4 80.5L503.6 83.2M496.3 79.8L498.6 81.2M495.5 83.7L497.6 84.7M497.4 87.4L497.9 85.9M503.0 87.5L502.7 84.7M507.1 85.9L503.6 83.3M536.9 79.8L538.7 80.8M540.7 77.1L541.3 80.4M541.3 80.4L538.7 80.8M536.8 86.1L534.1 82.1M536.8 86.1L538.5 84.2M538.5 84.2L538.7 80.8M541.7 90.9L543.1 88.9M543.1 88.9L545.3 88.2M528.2 123.9L529.2 126.0M530.9 119.6L531.6 121.3M532.9 126.0L531.6 121.3M527.9 79.3L526.3 81.6M527.9 79.3L526.9 76.8M526.3 81.6L522.0 80.1M523.9 76.4L522.0 80.1M527.5 85.3L530.1 85.1M525.7 84.4L526.3 81.6M530.2 80.3L527.9 79.3M520.9 81.0L522.0 80.1M541.0 90.9L539.2 89.6M536.3 93.8L536.3 93.7M536.3 93.7L539.2 89.6M536.8 86.1L536.5 87.5M538.5 84.2L542.0 85.5M541.7 86.3L542.0 85.5M541.7 86.3L538.9 89.0M536.5 87.5L538.9 89.0M543.1 88.9L541.7 86.3M538.9 89.0L539.2 89.6M481.5 113.4L479.0 108.7M481.4 107.2L479.1 107.3M479.0 108.7L479.1 107.3M478.0 105.7L478.1 106.2M479.1 107.3L478.1 106.2M471.6 107.9L475.3 102.8M471.0 102.3L475.3 102.8M475.6 102.8L475.3 102.8M474.1 108.5L478.1 106.2M474.1 108.5L471.6 107.9M509.6 116.5L507.1 115.0M509.6 116.5L508.5 120.2M508.5 120.2L505.9 120.7M505.8 115.4L507.1 115.0M505.8 115.4L505.4 120.1M505.9 120.7L505.4 120.1M508.0 110.9L507.1 115.0M510.1 116.4L509.6 116.5M510.8 122.4L508.5 120.2M505.4 123.1L505.9 120.7M502.7 114.8L505.8 115.4M502.3 119.6L505.4 120.1M522.8 94.0L523.3 92.7M522.8 94.0L520.8 95.5M523.3 92.7L520.3 91.1M520.8 95.5L518.8 95.0M518.8 95.0L517.5 92.5M520.3 91.1L518.4 90.9M517.5 92.5L518.3 90.9M518.4 90.9L518.3 90.9M524.1 97.8L522.8 94.0M527.4 94.1L526.6 92.1M526.6 92.1L525.9 91.7M525.9 91.7L523.3 92.7M521.4 99.6L520.8 95.5M525.8 91.5L525.9 91.7M522.3 88.5L520.3 91.1M517.5 98.4L518.8 95.0M516.0 93.2L517.5 92.5M519.9 86.0L518.4 90.9M514.1 87.7L518.3 90.9M544.7 79.2L542.6 80.6M542.6 80.6L543.3 84.6M541.3 80.4L542.6 80.6M542.0 85.5L543.3 84.6M539.5 119.4L540.1 122.5M535.8 121.1L535.9 124.4M535.9 124.4L540.1 122.5M531.6 121.3L535.8 124.7M535.9 124.4L535.8 124.7M544.1 120.6L541.8 124.4M540.1 122.5L541.8 124.4M542.1 125.8L541.8 124.4M532.7 91.4L533.4 91.1M532.7 91.4L529.1 91.0M533.4 91.1L534.4 88.3M529.6 88.9L529.1 91.0M529.6 88.9L531.6 86.1M531.6 86.1L534.4 88.3M531.2 96.4L532.7 91.4M536.3 93.7L533.4 91.1M526.6 92.1L529.1 91.0M536.5 87.5L534.4 88.3M527.5 87.1L529.6 88.9M531.5 85.9L531.6 86.1M476.7 111.1L474.8 109.9M476.7 111.1L477.0 114.0M474.8 109.9L472.9 113.9M477.0 114.0L472.9 113.9M474.1 108.5L474.8 109.9M479.0 108.7L476.7 111.1M477.2 114.3L477.0 114.0M472.4 114.0L472.9 113.9M533.9 126.4L535.8 124.8M535.8 124.8L539.7 126.7M535.8 124.7L535.8 124.8" stroke="#561010" stroke-width="0.65" fill="none"/><circle cx="541.5" cy="103.1" r="0.4" fill="#9a4010"/><circle cx="514.0" cy="109.8" r="0.4" fill="#6a8a18"/><circle cx="509.0" cy="85.5" r="0.4" fill="#6a8a18"/><circle cx="534.4" cy="122.3" r="0.4" fill="#6a8a18"/><circle cx="508.1" cy="104.1" r="0.4" fill="#9a4010"/><circle cx="473.4" cy="114.3" r="0.4" fill="#8a7018"/><circle cx="490.7" cy="82.7" r="0.4" fill="#9a4010"/><circle cx="489.2" cy="98.1" r="0.4" fill="#8a7018"/><circle cx="528.6" cy="81.1" r="0.4" fill="#8a7018"/><circle cx="508.1" cy="93.3" r="0.4" fill="#8a7018"/><circle cx="512.6" cy="120.7" r="0.4" fill="#8a7018"/><circle cx="509.5" cy="78.8" r="0.4" fill="#9a4010"/><circle cx="515.2" cy="79.8" r="0.4" fill="#8a7018"/><circle cx="512.6" cy="100.9" r="0.4" fill="#8a7018"/><circle cx="498.6" cy="112.7" r="0.4" fill="#9a4010"/><circle cx="510.8" cy="86.6" r="0.4" fill="#8a7018"/><circle cx="504.8" cy="112.0" r="0.4" fill="#6a8a18"/><circle cx="515.0" cy="114.8" r="0.4" fill="#6a8a18"/><circle cx="505.2" cy="80.0" r="0.4" fill="#9a4010"/><circle cx="516.0" cy="88.5" r="0.4" fill="#8a7018"/><circle cx="514.3" cy="89.7" r="0.4" fill="#6a8a18"/><circle cx="476.0" cy="122.2" r="0.4" fill="#6a8a18"/><circle cx="476.5" cy="120.5" r="0.4" fill="#9a4010"/><circle cx="499.0" cy="88.1" r="0.4" fill="#8a7018"/><circle cx="509.7" cy="122.9" r="0.4" fill="#9a4010"/><circle cx="475.6" cy="95.2" r="0.4" fill="#6a8a18"/><circle cx="491.9" cy="94.7" r="0.4" fill="#6a8a18"/><circle cx="476.6" cy="99.2" r="0.4" fill="#8a7018"/><circle cx="525.3" cy="98.5" r="0.4" fill="#9a4010"/><circle cx="539.3" cy="82.6" r="0.4" fill="#8a7018"/><circle cx="527.7" cy="116.7" r="0.4" fill="#8a7018"/><circle cx="477.6" cy="118.5" r="0.4" fill="#6a8a18"/><circle cx="505.2" cy="90.3" r="0.4" fill="#9a4010"/><circle cx="477.1" cy="111.0" r="0.4" fill="#6a8a18"/><circle cx="525.9" cy="118.5" r="0.4" fill="#9a4010"/><circle cx="482.9" cy="104.5" r="0.4" fill="#9a4010"/><circle cx="497.1" cy="103.9" r="0.4" fill="#9a4010"/><circle cx="487.5" cy="90.7" r="0.4" fill="#6a8a18"/><circle cx="487.2" cy="95.6" r="0.4" fill="#6a8a18"/><circle cx="537.4" cy="81.5" r="0.4" fill="#6a8a18"/><circle cx="496.3" cy="95.9" r="0.4" fill="#9a4010"/><circle cx="490.1" cy="96.6" r="0.4" fill="#6a8a18"/><circle cx="505.4" cy="123.1" r="0.4" fill="#9a4010"/><circle cx="489.5" cy="91.8" r="0.4" fill="#8a7018"/><circle cx="525.0" cy="79.9" r="0.4" fill="#8a7018"/></g>
<circle cx="378.85" cy="40.91" r="0.5" fill="#22b040"/>
<circle cx="362.32" cy="65.62" r="0.55" fill="#22b040"/>
<circle cx="367.83" cy="63.33" r="0.6" fill="#22b040"/>
<circle cx="391.25" cy="65.62" r="0.6" fill="#22b040"/>
<circle cx="352.67" cy="46.86" r="0.4" fill="#22b040"/>
<circle cx="394.01" cy="58.3" r="0.4" fill="#22b040"/>
<circle cx="345.78" cy="69.74" r="0.35" fill="#22b040"/>
<circle cx="520.05" cy="40.91" r="0.5" fill="#50c030"/>
<circle cx="503.52" cy="65.62" r="0.55" fill="#50c030"/>
<circle cx="509.03" cy="63.33" r="0.6" fill="#50c030"/>
<circle cx="532.45" cy="65.62" r="0.6" fill="#50c030"/>
<circle cx="493.87" cy="46.86" r="0.4" fill="#50c030"/>
<circle cx="535.21" cy="58.3" r="0.4" fill="#50c030"/>
<circle cx="486.98" cy="69.74" r="0.35" fill="#50c030"/>
<circle cx="354.74" cy="81.34" r="0.55" fill="#22b040"/>
<circle cx="368.52" cy="99.12" r="0.6" fill="#22b040"/>
<circle cx="373.34" cy="111.43" r="0.5" fill="#22b040"/>
<circle cx="342.33" cy="105.96" r="0.4" fill="#22b040"/>
<circle cx="390.56" cy="94.56" r="0.4" fill="#22b040"/>
<circle cx="359.56" cy="117.36" r="0.4" fill="#22b040"/>
<circle cx="383.68" cy="119.64" r="0.35" fill="#22b040"/>
<ellipse cx="364.38" cy="81.79" rx="1.7" ry="0.75" fill="#22b040"/>
<circle cx="495.94" cy="81.34" r="0.55" fill="#50c030"/>
<circle cx="509.72" cy="99.12" r="0.6" fill="#50c030"/>
<circle cx="514.54" cy="111.43" r="0.5" fill="#50c030"/>
<circle cx="483.53" cy="105.96" r="0.4" fill="#50c030"/>
<circle cx="531.76" cy="94.56" r="0.4" fill="#50c030"/>
<circle cx="500.76" cy="117.36" r="0.4" fill="#50c030"/>
<circle cx="524.88" cy="119.64" r="0.35" fill="#50c030"/>
<ellipse cx="505.58" cy="81.79" rx="1.7" ry="0.75" fill="#50c030"/>
<rect x="527.3" y="117.4" width="9.2" height="1.5" fill="#ffffff"/>
<text x="457.2" y="146.4" font-size="11.8" text-anchor="middle" fill="#1e1e1e" stroke="#1e1e1e" stroke-width="0.35">T1DM-HLI</text>
<line x1="392.7" y1="149.6" x2="515.3" y2="149.6" stroke="#1a1a1a" stroke-width="1.2"/>
<text x="401.8" y="163.4" font-size="11.8" fill="#1e1e1e" stroke="#1e1e1e" stroke-width="0.35">Vehicle</text>
<text x="457.5" y="163.4" font-size="11.8" fill="#1e1e1e" stroke="#1e1e1e" stroke-width="0.35">Liraglutide</text>
<line x1="391.3" y1="167.6" x2="449.6" y2="167.6" stroke="#444" stroke-width="1.3"/>
<line x1="457.5" y1="167.6" x2="515.3" y2="167.6" stroke="#444" stroke-width="1.3"/>
<text x="378.6" y="184" font-size="12" text-anchor="end" fill="#1e1e1e" stroke="#1e1e1e" stroke-width="0.35">CD31</text>
<text x="378.6" y="200.6" font-size="12" text-anchor="end" fill="#1e1e1e" stroke="#1e1e1e" stroke-width="0.35">GAPDH</text>
<rect x="384.2" y="185" width="139.4" height="3" fill="#a8a8a8"/>
<rect x="384.7" y="171.7" width="138.6" height="13.2" fill="#ececec" stroke="#222" stroke-width="0.95"/>
<rect x="384.7" y="188.2" width="138.6" height="14.1" fill="#f0f0f0" stroke="#222" stroke-width="0.95"/>
<rect x="389.3" y="174.5" width="12.0" height="8" fill="#c8c8c8" filter="url(#bl9)"/>
<rect x="388.8" y="191.5" width="13.0" height="8.5" fill="#d4d4d4" filter="url(#bl9)"/>
<rect x="406.6" y="174.5" width="12.0" height="8" fill="#c8c8c8" filter="url(#bl9)"/>
<rect x="406.1" y="191.5" width="13.0" height="8.5" fill="#d4d4d4" filter="url(#bl9)"/>
<rect x="422.9" y="174.5" width="12.0" height="8" fill="#c8c8c8" filter="url(#bl9)"/>
<rect x="422.4" y="191.5" width="13.0" height="8.5" fill="#d4d4d4" filter="url(#bl9)"/>
<rect x="439.8" y="174.5" width="12.0" height="8" fill="#c8c8c8" filter="url(#bl9)"/>
<rect x="439.3" y="191.5" width="13.0" height="8.5" fill="#d4d4d4" filter="url(#bl9)"/>
<rect x="455.8" y="174.5" width="12.0" height="8" fill="#c8c8c8" filter="url(#bl9)"/>
<rect x="455.3" y="191.5" width="13.0" height="8.5" fill="#d4d4d4" filter="url(#bl9)"/>
<rect x="472.1" y="174.5" width="12.0" height="8" fill="#c8c8c8" filter="url(#bl9)"/>
<rect x="471.6" y="191.5" width="13.0" height="8.5" fill="#d4d4d4" filter="url(#bl9)"/>
<rect x="488.9" y="174.5" width="12.0" height="8" fill="#c8c8c8" filter="url(#bl9)"/>
<rect x="488.4" y="191.5" width="13.0" height="8.5" fill="#d4d4d4" filter="url(#bl9)"/>
<rect x="505.5" y="174.5" width="12.0" height="8" fill="#c8c8c8" filter="url(#bl9)"/>
<rect x="505" y="191.5" width="13.0" height="8.5" fill="#d4d4d4" filter="url(#bl9)"/>
<rect x="388.7" y="177.8" width="13.2" height="3.2" rx="1.6" fill="#646464" filter="url(#bl6)"/>
<rect x="406" y="177.8" width="13.2" height="3.2" rx="1.6" fill="#666666" filter="url(#bl6)"/>
<rect x="422.3" y="177.8" width="13.2" height="3.2" rx="1.6" fill="#707070" filter="url(#bl6)"/>
<rect x="439.2" y="177.8" width="13.2" height="3.2" rx="1.6" fill="#888888" filter="url(#bl6)"/>
<rect x="455.2" y="177.8" width="13.2" height="3.2" rx="1.6" fill="#646464" filter="url(#bl6)"/>
<rect x="471.5" y="177.8" width="13.2" height="3.2" rx="1.6" fill="#606060" filter="url(#bl6)"/>
<rect x="488.3" y="177.8" width="13.2" height="3.2" rx="1.6" fill="#707070" filter="url(#bl6)"/>
<rect x="504.9" y="177.8" width="13.2" height="3.2" rx="1.6" fill="#202020" filter="url(#bl6)"/>
<rect x="388.2" y="192.3" width="14.2" height="5.8" rx="4" ry="2.9" fill="#080808" filter="url(#bl4)"/>
<rect x="405.5" y="192.3" width="14.2" height="5.8" rx="4" ry="2.9" fill="#080808" filter="url(#bl4)"/>
<rect x="421.8" y="192.3" width="14.2" height="5.8" rx="4" ry="2.9" fill="#080808" filter="url(#bl4)"/>
<rect x="438.7" y="192.3" width="14.2" height="5.8" rx="4" ry="2.9" fill="#080808" filter="url(#bl4)"/>
<rect x="454.7" y="192.3" width="14.2" height="5.8" rx="4" ry="2.9" fill="#080808" filter="url(#bl4)"/>
<rect x="471" y="192.3" width="14.2" height="5.8" rx="4" ry="2.9" fill="#080808" filter="url(#bl4)"/>
<rect x="487.8" y="192.3" width="14.2" height="5.8" rx="4" ry="2.9" fill="#080808" filter="url(#bl4)"/>
<rect x="504.4" y="192.3" width="14.2" height="5.8" rx="4" ry="2.9" fill="#080808" filter="url(#bl4)"/>
<line x1="380.3" y1="231.7" x2="380.3" y2="283.9" stroke="#444" stroke-width="0.8"/>
<line x1="378.1" y1="283.9" x2="380.3" y2="283.9" stroke="#444" stroke-width="0.8"/>
<text x="378" y="286.51" font-size="7.9" text-anchor="end" fill="#444" stroke="#444" stroke-width="0.05">0.6</text>
<line x1="378.1" y1="266.7" x2="380.3" y2="266.7" stroke="#444" stroke-width="0.8"/>
<text x="378" y="269.31" font-size="7.9" text-anchor="end" fill="#444" stroke="#444" stroke-width="0.05">0.7</text>
<line x1="378.1" y1="249.5" x2="380.3" y2="249.5" stroke="#444" stroke-width="0.8"/>
<text x="378" y="252.11" font-size="7.9" text-anchor="end" fill="#444" stroke="#444" stroke-width="0.05">0.8</text>
<line x1="378.1" y1="232.3" x2="380.3" y2="232.3" stroke="#444" stroke-width="0.8"/>
<text x="378" y="234.91" font-size="7.9" text-anchor="end" fill="#444" stroke="#444" stroke-width="0.05">0.9</text>
<line x1="380.3" y1="283.9" x2="421.4" y2="283.9" stroke="#999" stroke-width="0.9"/>
<line x1="390.8" y1="283.9" x2="390.8" y2="286" stroke="#444" stroke-width="0.8"/>
<line x1="411.5" y1="283.9" x2="411.5" y2="286" stroke="#444" stroke-width="0.8"/>
<path d="M384.6,283.9 V268.0 H397.4 V283.9" fill="none" stroke="#1a1a1a" stroke-width="1.05"/>
<path d="M405.0,283.9 V248.7 H417.9 V283.9" fill="none" stroke="#e8262b" stroke-width="1.25"/>
<line x1="390.9" y1="264.5" x2="390.9" y2="271.5" stroke="#111" stroke-width="0.9"/>
<line x1="388.8" y1="264.5" x2="393.2" y2="264.5" stroke="#111" stroke-width="0.9"/>
<line x1="411.4" y1="246.2" x2="411.4" y2="251.5" stroke="#e8262b" stroke-width="0.9"/>
<line x1="409.2" y1="246.2" x2="413.6" y2="246.2" stroke="#e8262b" stroke-width="0.9"/>
<circle cx="390.6" cy="255.2" r="1.1" fill="#111"/>
<circle cx="390.6" cy="258.8" r="1.1" fill="#111"/>
<circle cx="386.7" cy="268.1" r="1.1" fill="#111"/>
<circle cx="390.8" cy="269.1" r="1.1" fill="#111"/>
<circle cx="395" cy="267.8" r="1.1" fill="#111"/>
<circle cx="390.6" cy="272.5" r="1.1" fill="#111"/>
<circle cx="395" cy="272.2" r="1.1" fill="#111"/>
<circle cx="390.6" cy="278.7" r="1.1" fill="#111"/>
<circle cx="407.2" cy="243.6" r="1.15" fill="#e8262b"/>
<circle cx="411.3" cy="241.3" r="1.15" fill="#e8262b"/>
<circle cx="415.5" cy="244.1" r="1.15" fill="#e8262b"/>
<circle cx="409.5" cy="248.3" r="1.15" fill="#e8262b"/>
<circle cx="413.5" cy="248" r="1.15" fill="#e8262b"/>
<circle cx="411.2" cy="252.4" r="1.15" fill="#e8262b"/>
<circle cx="415.5" cy="253.4" r="1.15" fill="#e8262b"/>
<circle cx="407.2" cy="255.5" r="1.15" fill="#e8262b"/>
<text x="411.3" y="239.8" font-size="10" text-anchor="middle" fill="#111" stroke="#111" stroke-width="0.15">*</text>
<text x="393.2" y="291.6" font-size="7.3" text-anchor="end" fill="#1e1e1e" stroke="#1e1e1e" stroke-width="0.05" transform="rotate(-45 393.2 291.6)">Vehicle</text>
<text x="413.8" y="291.4" font-size="7.3" text-anchor="end" fill="#1e1e1e" stroke="#1e1e1e" stroke-width="0.05" transform="rotate(-45 413.8 291.4)">Liraglutide</text>
<line x1="379.6" y1="316.6" x2="419.3" y2="316.6" stroke="#9a9a9a" stroke-width="1.2"/>
<text x="400" y="324.6" font-size="6.9" text-anchor="middle" fill="#1e1e1e">T1DM-HLI</text>
<text x="356.9" y="256" font-size="8.5" text-anchor="middle" fill="#1e1e1e" stroke="#1e1e1e" stroke-width="0.05" transform="rotate(-90 356.9 256)">Capillary number</text>
<text x="364.8" y="256" font-size="7.2" text-anchor="middle" fill="#1e1e1e" stroke="#1e1e1e" stroke-width="0.05" transform="rotate(-90 364.8 256)">(per fiber)</text>
<line x1="490.4" y1="228" x2="490.4" y2="283.2" stroke="#444" stroke-width="0.8"/>
<line x1="488.2" y1="283.2" x2="490.4" y2="283.2" stroke="#444" stroke-width="0.8"/>
<text x="488.1" y="285.81" font-size="7.9" text-anchor="end" fill="#444" stroke="#444" stroke-width="0.05">0.0</text>
<line x1="488.2" y1="269.4" x2="490.4" y2="269.4" stroke="#444" stroke-width="0.8"/>
<text x="488.1" y="272.01" font-size="7.9" text-anchor="end" fill="#444" stroke="#444" stroke-width="0.05">0.5</text>
<line x1="488.2" y1="255.6" x2="490.4" y2="255.6" stroke="#444" stroke-width="0.8"/>
<text x="488.1" y="258.21" font-size="7.9" text-anchor="end" fill="#444" stroke="#444" stroke-width="0.05">1.0</text>
<line x1="488.2" y1="241.8" x2="490.4" y2="241.8" stroke="#444" stroke-width="0.8"/>
<text x="488.1" y="244.41" font-size="7.9" text-anchor="end" fill="#444" stroke="#444" stroke-width="0.05">1.5</text>
<line x1="488.2" y1="228" x2="490.4" y2="228" stroke="#444" stroke-width="0.8"/>
<text x="488.1" y="230.61" font-size="7.9" text-anchor="end" fill="#444" stroke="#444" stroke-width="0.05">2.0</text>
<line x1="490.4" y1="283.2" x2="528" y2="283.2" stroke="#444" stroke-width="0.9"/>
<line x1="501.5" y1="283.2" x2="501.5" y2="285.3" stroke="#444" stroke-width="0.8"/>
<line x1="517" y1="283.2" x2="517" y2="285.3" stroke="#444" stroke-width="0.8"/>
<rect x="496.9" y="255.6" width="9.5" height="27.6" fill="#fff" stroke="#111" stroke-width="1.2"/>
<rect x="512.4" y="244.4" width="9.5" height="38.8" fill="#fff" stroke="#e8262b" stroke-width="1.3"/>
<line x1="501.6" y1="249" x2="501.6" y2="262" stroke="#111" stroke-width="0.9"/>
<line x1="499.6" y1="249" x2="503.6" y2="249" stroke="#111" stroke-width="0.9"/>
<line x1="517.1" y1="239.6" x2="517.1" y2="249.2" stroke="#e8262b" stroke-width="0.9"/>
<line x1="515.1" y1="239.6" x2="519.1" y2="239.6" stroke="#e8262b" stroke-width="0.9"/>
<circle cx="500.1" cy="248.5" r="1" fill="#111"/>
<circle cx="503.1" cy="249.5" r="1" fill="#111"/>
<circle cx="499.1" cy="253.5" r="1" fill="#111"/>
<circle cx="502.1" cy="254.5" r="1" fill="#111"/>
<circle cx="504.1" cy="256.5" r="1" fill="#111"/>
<circle cx="499.6" cy="258.5" r="1" fill="#111"/>
<circle cx="503.1" cy="260.5" r="1" fill="#111"/>
<circle cx="517.1" cy="234.9" r="1" fill="#e8262b"/>
<circle cx="514.6" cy="243" r="1" fill="#e8262b"/>
<circle cx="518.6" cy="242" r="1" fill="#e8262b"/>
<circle cx="520.1" cy="245" r="1" fill="#e8262b"/>
<circle cx="514.1" cy="247" r="1" fill="#e8262b"/>
<circle cx="517.6" cy="247.5" r="1" fill="#e8262b"/>
<circle cx="519.9" cy="249" r="1" fill="#e8262b"/>
<text x="517.2" y="233" font-size="10" text-anchor="middle" fill="#111" stroke="#111" stroke-width="0.15">*</text>
<text x="504.3" y="292.8" font-size="7.6" text-anchor="end" fill="#1e1e1e" stroke="#1e1e1e" stroke-width="0.05" transform="rotate(-45 504.3 292.8)">Vehicle</text>
<text x="519" y="292.3" font-size="7.5" text-anchor="end" fill="#1e1e1e" stroke="#1e1e1e" stroke-width="0.05" transform="rotate(-45 519 292.3)">Liraglutide</text>
<line x1="488" y1="319.4" x2="514.1" y2="319.4" stroke="#999" stroke-width="1.0"/>
<text x="500.1" y="328.2" font-size="6.9" text-anchor="middle" fill="#1e1e1e">T1DM-HLI</text>
<text x="464.4" y="253.2" font-size="9.2" text-anchor="middle" fill="#1e1e1e" stroke="#1e1e1e" stroke-width="0.15" transform="rotate(-90 464.4 253.2)">CD31/GAPDH</text>
<text x="473.6" y="253.2" font-size="7.75" text-anchor="middle" fill="#1e1e1e" stroke="#1e1e1e" stroke-width="0.05" transform="rotate(-90 473.6 253.2)">(Ratio to Vehicle)</text>
</svg>
</body></html>
